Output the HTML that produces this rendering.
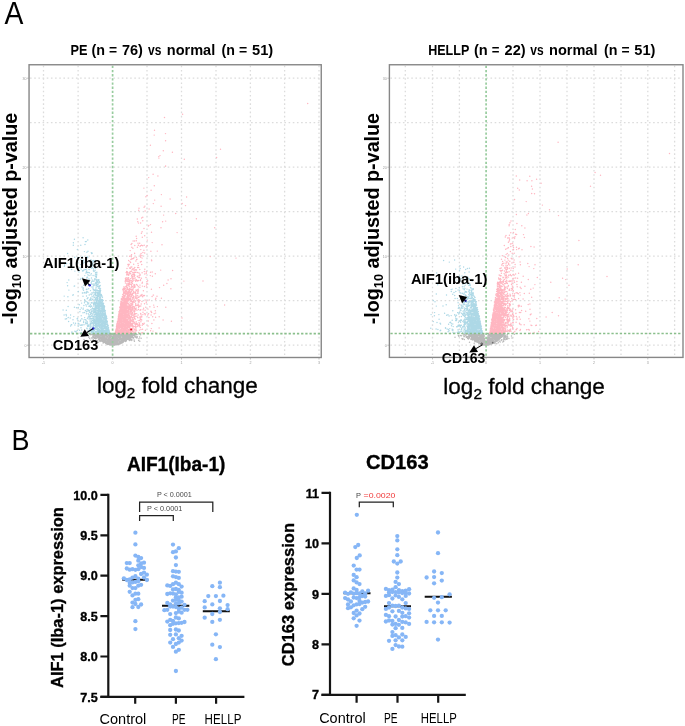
<!DOCTYPE html>
<html lang="en"><head><meta charset="utf-8"><title>Figure</title>
<style>
html,body{margin:0;padding:0;background:#fff;}
svg{display:block;font-family:"Liberation Sans",sans-serif;}
.b{font-weight:bold;}
.bs{font-weight:bold;stroke:#000;stroke-width:.35px;}
.grid{stroke:#dcdcdc;stroke-width:1.3;stroke-dasharray:1.6 2.57;fill:none;}
.grn{stroke:#8abf8c;stroke-width:1.7;stroke-dasharray:2.3 1.87;fill:none;}
.grv{stroke:#98cc9e;stroke-width:1.7;stroke-dasharray:2.3 1.87;fill:none;}
.tk{font-size:3.6px;fill:#9a9a9a;}
.pts{fill:none;stroke-linecap:round;}
.ax{stroke:#151515;stroke-width:2.2;fill:none;}
.br{stroke:#222;stroke-width:1.25;fill:none;}
.dot{fill:#86b6f6;}
.med{stroke:#111;stroke-width:2;}
</style></head><body>
<svg width="685" height="726" viewBox="0 0 685 726">
<rect width="685" height="726" fill="#fff"/>
<g>
<line class="grid" x1="43.5" y1="65.75" x2="43.5" y2="356.5"/>
<line class="grid" x1="78.1" y1="65.75" x2="78.1" y2="356.5"/>
<line class="grid" x1="147" y1="65.75" x2="147" y2="356.5"/>
<line class="grid" x1="181.5" y1="65.75" x2="181.5" y2="356.5"/>
<line class="grid" x1="216" y1="65.75" x2="216" y2="356.5"/>
<line class="grid" x1="250.4" y1="65.75" x2="250.4" y2="356.5"/>
<line class="grid" x1="284.6" y1="65.75" x2="284.6" y2="356.5"/>
<line class="grid" x1="319" y1="65.75" x2="319" y2="356.5"/>
<line class="grid" x1="30.05" y1="78.2" x2="320.25" y2="78.2"/>
<line class="grid" x1="30.05" y1="122.7" x2="320.25" y2="122.7"/>
<line class="grid" x1="30.05" y1="167.2" x2="320.25" y2="167.2"/>
<line class="grid" x1="30.05" y1="211.7" x2="320.25" y2="211.7"/>
<line class="grid" x1="30.05" y1="256.2" x2="320.25" y2="256.2"/>
<line class="grid" x1="30.05" y1="300.7" x2="320.25" y2="300.7"/>
<line class="grid" x1="30.05" y1="345.2" x2="320.25" y2="345.2"/>
<path class="pts" stroke="#b9b9b9" stroke-width="1.5" opacity="1.0" d="M111.5 341.3h0M110.9 343.9h0M112.3 338.1h0M95.9 334.5h0M103 335.2h0M105.7 341.9h0M104.4 333.7h0M93.3 339.4h0M104.2 341.4h0M94.4 335.8h0M104.9 339.7h0M105.9 336h0M112 343.9h0M109.9 343.3h0M109.6 335.7h0M107.2 336.7h0M104.5 342.2h0M99.9 334.6h0M110.9 340h0M95.4 334.1h0M99.7 333.9h0M101.9 339.7h0M102.5 333.6h0M99.2 334h0M106.6 339.8h0M109.6 335.5h0M96.5 337h0M107.5 342.6h0M102.8 333.7h0M97.9 336.9h0M109.4 340.1h0M110.3 337.6h0M110.9 338.7h0M107.5 341.3h0M105.1 335.6h0M99 337.1h0M105.8 342.9h0M112 340.1h0M106.5 339.8h0M104.9 338.5h0M109.6 334.8h0M111.7 334.6h0M88.8 337.2h0M109.4 333.7h0M110.3 333.6h0M101.6 336h0M109.1 335.1h0M108.7 340.6h0M101.5 337.7h0M102.7 334.7h0M103.1 343.1h0M95.6 333.6h0M103.9 340.5h0M105.1 342.2h0M108.6 343.8h0M102.5 339.5h0M112.4 339.4h0M111.9 340.3h0M101.7 341.1h0M109.8 342.4h0M97.6 336.7h0M111.6 345h0M106.9 337.4h0M109.9 339.2h0M107.4 334.1h0M100.2 334h0M101.3 339.1h0M112.1 334.4h0M106.9 340.7h0M105.4 338.3h0M110.6 344.1h0M108.1 334.4h0M106.5 336.1h0M102.7 333.7h0M112.2 339.4h0M93.3 334.8h0M106.9 337.9h0M108 339.7h0M109.8 336.5h0M94.2 338.2h0M112 343h0M112.6 343.7h0M110.9 334h0M97.7 333.8h0M98.3 335.3h0M101.6 335.9h0M110.7 343.7h0M102.3 341.1h0M97.5 337.4h0M111.6 336.5h0M101.8 338.7h0M98 334h0M112.2 340.4h0M102.7 341h0M102.7 335.6h0M102.2 335.2h0M111.5 345h0M95.3 333.8h0M97.7 336.4h0M99.9 334.6h0M88.8 336.8h0M103.2 334.2h0M107.9 344.4h0M108.2 333.7h0M107.7 344.5h0M106.3 333.6h0M109.2 340.3h0M104.7 336.9h0M101.1 333.8h0M104.8 340.6h0M93.4 337.1h0M93.5 336.5h0M105.1 341.2h0M105.7 338.3h0M93 335.1h0M98 334.9h0M108.3 342.6h0M106.8 336.5h0M110.7 335h0M95.4 336.8h0M102.2 338.5h0M101 340.1h0M107.1 334.7h0M112.2 344.5h0M108.8 340.2h0M104.1 333.9h0M100.5 335.4h0M102.3 339.9h0M109.8 336.8h0M111.7 345.1h0M91.9 334h0M111 341.2h0M106.4 334.2h0M108.2 336.1h0M112.4 340.2h0M103.6 341.2h0M89.6 338.5h0M95 338h0M90.8 340.3h0M96.3 338.4h0M93.3 339.4h0M108.6 342.1h0M99.3 337h0M100.8 337.5h0M112.3 344.4h0M104.8 339.1h0M108.2 336h0M104.7 336.7h0M107.2 333.9h0M105.7 339.3h0M101.3 335.2h0M104.5 334.8h0M102.9 337.9h0M93.2 336.9h0M112.5 344.7h0M97.5 334.3h0M94.1 337.5h0M100.1 336.3h0M102.6 341h0M96.4 334.3h0M101.2 335.1h0M101.5 339.9h0M98.6 336.6h0M105.1 337.4h0M108.6 333.9h0M103.9 342.4h0M109.7 339.2h0M110.3 339.2h0M110.7 336.6h0M102 333.8h0M102.9 334.8h0M100.1 338.5h0M96.3 334.3h0M102.7 339.1h0M105.6 335.4h0M108 336.2h0M109.7 336.3h0M100.3 340.3h0M92.7 335.1h0M105.4 341.1h0M99.6 338.1h0M103.7 334.8h0M102.6 335.9h0M106.2 337.9h0M100.4 334.9h0M109.3 338.5h0M109.8 340.4h0M109.1 341.8h0M99.8 335.5h0M103.6 335h0M103.2 339h0M112.5 343.4h0M110.8 343.5h0M97 334.4h0M105.2 340.4h0M104.7 336.2h0M111 334.2h0M101.5 335.6h0M95.9 333.8h0M102.9 333.6h0M97.3 335.8h0M95.9 340.6h0M112.1 342.7h0M110.1 341.4h0M108.2 341.2h0M104.4 338.1h0M106.1 335.6h0M104.3 333.6h0M107.6 334.2h0M108.4 341.5h0M111.2 335.5h0M107.5 339.6h0M110.9 344.9h0M111.1 342.6h0M106.9 337.7h0M106.6 344h0M107.6 339.2h0M108.2 334.2h0M106.1 334.3h0M108.5 341h0M106.5 340h0M108.5 335.9h0M111.5 342.1h0M107.2 342.2h0M110.9 341.1h0M109.8 344.5h0M105.9 339.4h0M104.2 338.6h0M106.4 334.4h0M96.2 333.8h0M105.1 340.3h0M108.7 338.1h0M109.6 340.7h0M109.1 336h0M95 337.4h0M111.2 341.2h0M100.4 335.6h0M104 335.1h0M100.1 333.8h0M109.4 334.3h0M99.6 334h0M111.7 333.7h0M106.8 339h0M109.1 341h0M107.6 343.5h0M112 341.2h0M111.1 338.7h0M99.4 339.3h0M112 333.7h0M106.5 335.7h0M111.8 340.1h0M94.1 337.5h0M97.7 337.4h0M95 333.7h0M111.7 344.4h0M110.9 344.8h0M101.6 337.4h0M102.7 340.9h0M103.8 341.5h0M96.8 335.7h0M100 336.9h0M98.5 338.1h0M100 336.8h0M102 341.2h0M84 339.6h0M96.2 337.2h0M96.8 334.3h0M99.1 336.5h0M98 338.2h0M104.7 337.9h0M95.3 338.7h0M91.4 337.9h0M102.7 339.2h0M92.8 336.8h0M106.7 342h0M100.7 338h0M97.9 336.2h0M100.6 333.6h0M104.5 340.3h0M103.9 340.5h0M106.7 340.3h0M106.8 336.4h0M100.7 341h0M109.1 342.8h0M96.6 333.6h0M111.9 345h0M103.1 334h0M102.3 337h0M105.9 343.5h0M97.6 340.7h0M101.4 338.5h0M100 341.6h0M106.6 338.6h0M110.8 345h0M92.6 338.1h0M99.3 335.9h0M100.3 341.2h0M98.2 335h0M94.3 334.4h0M97.9 337.4h0M108.1 338.1h0M103.8 337.5h0M109.5 341.8h0M108.9 339.7h0M99.8 335.3h0M109 337.5h0M111.1 343.6h0M102.9 334.4h0M95.7 334.5h0M104.1 337.2h0M94.6 336h0M108.9 338.6h0M96.4 336.3h0M97.1 334.4h0M99.7 339h0M101.2 339.9h0M94.4 335.7h0M104.3 336.2h0M91 334.8h0M97.5 336.5h0M105.5 343.2h0M95.9 333.6h0M108.5 334.2h0M90 334.5h0M96 335.1h0M103.9 340.1h0M112.4 343.3h0M104.3 336.7h0M95.3 335.1h0M111.8 345.1h0M112 337h0M103.6 340.1h0M106.8 338.7h0M108.5 339.3h0M94.7 333.9h0M105.9 334.8h0M95.5 335.8h0M109.4 344.7h0M100.3 334.6h0M107.8 334.9h0M103.5 335.3h0M99.9 337.8h0M102.5 335.5h0M107.6 340.7h0M106.6 333.8h0M99.2 338.1h0M95.3 335.6h0M110.9 335.8h0M109 342.2h0M109.8 334.6h0M105.4 333.8h0M99.6 340.8h0M108.9 343.1h0M109.4 333.7h0M112.1 342h0M98.5 339.5h0M102.8 341.1h0M110.9 343.5h0M112.1 333.9h0M98.2 342.3h0M108.3 344.3h0M108.9 342h0M105.7 336.1h0M108.3 339h0M103.1 336.7h0M110.8 335.9h0M109.2 342.3h0M97.3 336.6h0M109.4 344.8h0M98.1 333.6h0M97.2 335h0M102.2 337.9h0M96.7 333.7h0M106.1 343.3h0M104 339.1h0M106.6 341.5h0M110.6 335.5h0M100.6 334.7h0M93.3 337.2h0M107.5 340.8h0M97.3 335.7h0M104 341.9h0M110.3 335.4h0M112.2 342.7h0M109.5 339.4h0M103.7 342.3h0M108.7 334.3h0M107.6 343h0M112.5 345h0M112.3 342.8h0M105.3 341.5h0M109.5 344.5h0M111.3 344.1h0M107.2 341.1h0M93.5 335.2h0M109.9 341.3h0M102.9 341.7h0M99.1 337.5h0M107.7 333.8h0M102.1 340.3h0M99.6 338h0M98.6 333.8h0M105.9 339.1h0M93.1 333.9h0M103 342h0M98.5 334h0M110.6 334.9h0M106.8 343.7h0M111.2 338.4h0M101.7 337.3h0M110.3 340.2h0M97.3 335.9h0M109.7 335h0M109.7 336.6h0M108.6 339.3h0M112.4 336.8h0M107.3 336.7h0M99.8 338.7h0M96.3 336.6h0M102.8 336.1h0M96.2 335.3h0M109.6 344.1h0M114.1 345.1h0M116.4 341.3h0M134.6 334.9h0M118.7 336.7h0M124.2 341h0M124.2 336.1h0M124.3 336.5h0M115.9 337.9h0M118.7 341.3h0M132 334h0M120.6 339.8h0M129.2 339.3h0M117.9 339.1h0M120.8 338.4h0M127.4 335.9h0M115.7 343.5h0M134.1 340h0M116.6 340h0M116.2 334.7h0M116.2 342.6h0M118.5 342.7h0M114.8 336.1h0M130 338.4h0M117.5 340.2h0M129.2 339.3h0M123.3 342.1h0M113.3 336.9h0M119 342.7h0M115.2 339.9h0M113.6 340.2h0M114.9 334.7h0M136.9 337.9h0M115.8 337.5h0M121.1 335.2h0M132.1 335.1h0M119.3 333.6h0M119.1 334.9h0M117.6 342.5h0M128.9 336.3h0M123.3 333.6h0M123.4 335h0M119.3 343.6h0M113.1 339.8h0M132.1 337.1h0M121.1 343.2h0M119.6 341.5h0M135 336.3h0M130.4 333.7h0M121.6 340.6h0M119.8 336.7h0M122.7 337.5h0M113.7 345h0M115.7 342.3h0M116.6 337.1h0M129.2 333.7h0M117.4 341.6h0M116.6 338.8h0M130.8 339.2h0M125.5 336.5h0M113.7 337.7h0M131.8 340.6h0M135 335.1h0M116.8 337.3h0M127.1 336.7h0M115.6 340.5h0M124.2 340.7h0M126.2 335.6h0M115.4 341h0M118.6 337.8h0M125.7 339h0M112.9 338.7h0M122.4 340.5h0M120.6 342.3h0M115.6 343.6h0M128.4 334h0M124.2 334.2h0M113.8 343.4h0M115.3 344.1h0M113.7 334.3h0M131.7 334.2h0M120.8 341.3h0M122.5 335.5h0M120.1 337h0M112.9 337h0M121.2 341.4h0M113.7 341.9h0M120.7 340h0M127.7 335.2h0M135.2 336.3h0M123.1 336.7h0M131 334.1h0M134.2 333.9h0M128.1 333.7h0M124.9 335.7h0M127.7 333.6h0M129.8 334.5h0M123.4 336.1h0M129 333.9h0M126.2 335.2h0M113.3 345h0M113.4 342.8h0M121.9 343.1h0M114.3 339.7h0M113.3 342.3h0M118.8 335.8h0M118.3 334.4h0M124.3 338.2h0M123 340.8h0M113.8 335.3h0M117.1 340.5h0M116.6 339.2h0M122 334.9h0M113 342.5h0M114.7 336.8h0M123.8 334.6h0M115.3 339.8h0M118.2 335.6h0M116.6 337.5h0M125.1 337.3h0M116.8 334.5h0M116.7 341.2h0M118.4 339.8h0M123.9 339.7h0M135 336.5h0M121.3 334h0M122 343.1h0M132.7 334.2h0M123.5 335.9h0M126 340.4h0M131.7 333.7h0M121 333.7h0M120 344h0M124.2 333.9h0M133.2 337.3h0M127 339.4h0M118.4 343.5h0M120 336h0M132 337.1h0M117.6 336.1h0M115.1 333.8h0M126.5 336h0M132.3 333.8h0M124.2 334.2h0M116.1 334.7h0M132.9 333.9h0M118.2 343.3h0M112.9 341.8h0M122.9 342.6h0M128.9 339h0M130.6 333.7h0M126.7 338.9h0M117.7 336.5h0M132.6 334.6h0M113.1 345.1h0M113.6 342.8h0M122.7 336.9h0M122.8 336.8h0M120.6 336.1h0M116.4 338.4h0M139 338.8h0M122 342.1h0M123.8 338.4h0M119.7 342.4h0M120.9 337h0M117.8 340.2h0M123.6 335.1h0M118.1 340.3h0M125.1 338.2h0M132.4 335.1h0M131.5 339.3h0M132 335.4h0M115.9 344.7h0M131.6 335.7h0M117.6 344h0M126.2 334.5h0M115.9 335.9h0M117.4 336.5h0M116.7 344.2h0M124.3 334.3h0M121 337.4h0M132 336.8h0M114.6 335.8h0M113.4 337.3h0M114.8 342.2h0M124.2 335h0M117.4 336h0M125.8 334.6h0M128.3 337.6h0M129.7 335.5h0M115.8 340h0M116.1 335.4h0M131.8 335.7h0M114.7 343.6h0M124 339.4h0M113.5 336.6h0M136 337.5h0M113.5 341.5h0M122.4 342.3h0M130.3 336.2h0M113.2 338h0M124.6 338.1h0M117 337.9h0M118.9 344.3h0M118.8 343.8h0M132.3 335.4h0M113 335.8h0M116.6 342h0M116.5 337.4h0M121.1 334.7h0M125.5 334.2h0M120.9 340.7h0M122 341.2h0M121.7 341.6h0M117.9 343.5h0M123.4 336h0M128.1 334.6h0M120.1 337.3h0M114.5 345.1h0M123.5 334.2h0M126.6 339.7h0M122.9 337.5h0M113.1 343.4h0M123.3 338.6h0M119.3 337.4h0M134.3 335.4h0M116 338.4h0M130.2 333.9h0M116.5 341.9h0M115.5 334.7h0M118.8 339.7h0M130.6 333.7h0M125.9 335.1h0M118.2 344.3h0M128.8 337.5h0M115 339.6h0M128.2 336.8h0M117.3 343.8h0M113.6 341.8h0M134 334.1h0M116.5 344.8h0M113.2 338.2h0M116.7 338.9h0M119.3 342h0M120.3 339.2h0M139.8 341.2h0M120.9 335.2h0M125.7 340.4h0M113 339.2h0M123.5 334.2h0M126.2 334.3h0M116.6 339h0M125.7 341.4h0M116.4 341.2h0M129.5 337.2h0M120.9 339h0M122.6 338.3h0M118.7 343.4h0M115.5 337.1h0M117.1 344h0M126.8 335.2h0M120.1 335h0M114 342.6h0M128 339h0M126.4 340.4h0M124.2 340.7h0M120.2 337.8h0M116 342.3h0M128.8 338h0M113.6 344.9h0M114.5 345.1h0M128.1 335.3h0M129.7 335.5h0M122.8 335.2h0M118.6 340.5h0M112.9 334.5h0M118.5 335.1h0M120.5 333.7h0M121.9 333.8h0M129.5 340.6h0M126.6 333.8h0M112.9 334h0M131 334h0M113.3 338.5h0M114.7 339.4h0M114.1 334h0M129.9 335.7h0M128 339.1h0M140.7 334.8h0M129.5 334.4h0M119 341.6h0M131.4 335.8h0M133.2 338.3h0M117.4 340.7h0M113.3 345.1h0M115.3 341.8h0M141.1 338.2h0M123.6 337.6h0M131.9 333.8h0M129 337.4h0M123.5 338.8h0M125.3 333.8h0M135.1 336.7h0M128.1 339.3h0M112.8 344.4h0M117.7 336.7h0M122.3 336.5h0M114.7 337h0M120 334.9h0M116.7 340h0M130.5 337.8h0M120.4 335.2h0M117.3 342.3h0M130.1 340.2h0M136.3 334.5h0M131.6 335.5h0M127.6 338.4h0M114.2 342.9h0M122 342.7h0M118.1 333.7h0M118.5 340.9h0M119.2 340.5h0M136.9 336.4h0M118.6 337.5h0M122.2 336.1h0M126.7 337.4h0M123.4 334.9h0M113.1 333.8h0M127.1 339.6h0M138.6 340.6h0M114.6 336.1h0M122.9 341.5h0M119.1 340.4h0M123.4 334.5h0M114.3 333.7h0M126.1 338.5h0M114.6 340.7h0M116.7 337h0M118.1 333.7h0M121.1 339.6h0M119.4 338.6h0M126.5 336.3h0M127.6 338.8h0M118.8 344.2h0M120.7 342.2h0M112.8 344.2h0M120.8 333.7h0M122.7 333.6h0M119.6 339.5h0M117.6 344.5h0M115 340.9h0M115.9 342.9h0M115.1 343.1h0M113.4 344.5h0M113.8 336.1h0M123.6 335.5h0M117.4 342.4h0M125.4 341.1h0M124.9 334.1h0M123.7 333.6h0M117.7 339.1h0M125.6 334.9h0M117.2 334.6h0M112.8 336.2h0M124.1 337.8h0M121.5 338.8h0M119.6 339.3h0M129.2 340.2h0M126.5 338.1h0M127.6 335.5h0M133.8 337.8h0M114.5 341.3h0M134.4 341.3h0M117.9 333.8h0M126 341.2h0M126.2 338h0M124.1 338h0M120 334.9h0M125.7 335.2h0M119.7 335.6h0M129.4 336.4h0M132.4 337.6h0M113.1 333.9h0M131.9 339.8h0M123.4 337.3h0M112.9 334.4h0M131 337h0M120.7 338.2h0M137.1 334.5h0M117.8 337h0M130.5 339.8h0M114.1 337.4h0M113.2 344h0M126.4 334.7h0M114.9 345h0M123 337.3h0M114.6 336.5h0M124.1 339h0M117.1 340h0M126.3 336h0M133.2 334.3h0M116.5 342.9h0M116.2 337.2h0M132.9 334.2h0M119.8 342.1h0M128.7 335.3h0M124.1 340.7h0M121.4 339.8h0M114.7 334.5h0M130.9 335.4h0M129.4 334.1h0M134.5 336h0M123.9 339h0M139.6 337h0M119.6 337.5h0M117.1 344.3h0M132.2 334.1h0M116.2 335.9h0M114.4 338.7h0M121.2 340h0M119.1 337.7h0M137.3 336.9h0M114.8 334.5h0M116.7 338.9h0M127.3 333.7h0M120.7 341.5h0M121.7 335.3h0M112.7 341.6h0M125.2 341.2h0M129.8 337.9h0M121.4 341.5h0M130 338.2h0M123.4 336.2h0M123 336.3h0M122.2 342.1h0M115 338.6h0M133.7 335.2h0M120.4 343.2h0M130.2 337.5h0M113.2 334.9h0M116.1 344.4h0M116.1 339.9h0M114.2 335.2h0M116.3 335.6h0M132.1 335.6h0M116.2 335.9h0M122.8 341.8h0M119.4 334.1h0M117.9 344.3h0M132.2 335.5h0M127.6 337.2h0M121 337.4h0M119.5 339.8h0M129.8 338.3h0M114.4 344h0M125.8 337.8h0M118.9 344.2h0M116.3 340.3h0M116.5 335.2h0M131.4 335.3h0M125.7 336.5h0M121.5 333.8h0M116.4 342.9h0M127.4 335.3h0M122.7 339.2h0M124 333.9h0M121.6 335.4h0M128 337.2h0M114.3 333.7h0M116.4 340.5h0M116.3 344.2h0M125.4 338.4h0M116.6 342.6h0M118 334.8h0M128.4 338.8h0M121.4 339.5h0M133.4 334h0M124.5 337.1h0M114.8 344.5h0M126.3 340.5h0M120.4 341.5h0M122.1 341.7h0M119.4 343.4h0M132.2 334.8h0M121.9 341.7h0M132.7 336h0M129.9 333.9h0M114.8 338.2h0M131.2 337.6h0M119.7 333.8h0M137 336.6h0M114.4 344h0M117.6 339h0M113.6 333.9h0M129.9 336.7h0M124.9 340h0M125.8 335.3h0M116.7 343.3h0M133.5 335.1h0M126.6 338.2h0M116.1 335.2h0M123.8 337.2h0M132 334.3h0M121.7 339.8h0M113.3 342h0M121.4 338.3h0M115.6 334.3h0M120.9 343.3h0M133.5 334.5h0M121.1 340.6h0M120.5 334h0M122.7 336.4h0M132.8 334.1h0M133.2 333.6h0M126.3 337.4h0M113.3 342.2h0M116.3 335.1h0M127.6 338.6h0M122.1 333.8h0M113.3 341h0"/>
<path class="pts" stroke="#add8e6" stroke-width="1.45" opacity="1.0" d="M99.7 290.9h0M68.8 279.9h0M101.6 315h0M91.2 331.3h0M99.6 327.4h0M96.4 299.9h0M74.9 331.2h0M93.3 303.4h0M95 270.5h0M93.4 326.2h0M99.9 316.2h0M91.2 264.5h0M82.4 256.6h0M100.9 323.3h0M99.6 306.6h0M96.8 329h0M99.7 311.7h0M102 301.6h0M103.7 321.6h0M79.5 330.3h0M92 302.4h0M97.2 329.1h0M87.2 298.7h0M101.7 327.8h0M103.5 303.5h0M101.6 319.4h0M100 300.9h0M102.8 307.8h0M88.1 272.4h0M92.4 318.8h0M101.5 315.2h0M80.3 279.4h0M98.6 314.9h0M98.8 303.2h0M92.9 326h0M85.4 241.6h0M102.2 329.7h0M88.2 266.6h0M92.2 279.9h0M104.1 328.2h0M104.9 316.7h0M107.2 331.7h0M97 332.5h0M86.4 271.8h0M106.5 328.2h0M107.3 324h0M94.3 285.1h0M102.5 321.5h0M90.5 307h0M74.1 286.1h0M99.5 307.2h0M102.7 313.6h0M97.7 292.3h0M99.3 309.1h0M106.4 332.1h0M89 318.9h0M102.4 316.5h0M101.8 300h0M99.4 331.7h0M88.8 303h0M97.3 318.7h0M89.6 306.3h0M87.5 322.9h0M86.5 269.1h0M91.3 282.8h0M96.4 301.9h0M96.5 298h0M95.4 328.4h0M109.1 333.3h0M99.2 322.4h0M97.3 332.1h0M102.8 323.2h0M91.5 321.1h0M104.5 310.5h0M109.2 331.2h0M99.9 289.7h0M94.1 304.1h0M96.2 329.5h0M107.3 332.2h0M102.6 305.9h0M99.4 315.6h0M103.5 307.3h0M105.2 312.8h0M102.8 325.5h0M100.6 328.3h0M102.6 324.6h0M66.6 318.8h0M99.4 307.5h0M86.8 271h0M86.8 328.3h0M105.5 318h0M95.6 294.7h0M104.9 330.2h0M96.9 325.6h0M99.4 302h0M102.2 327.3h0M101.1 314.8h0M103.7 333.4h0M81.3 308h0M108.6 330.8h0M96.5 300.2h0M99.7 319.9h0M107.6 333.4h0M92.3 322.8h0M102 329.9h0M97.9 308h0M105.6 322h0M80.6 320.2h0M104.4 311.7h0M106.4 332.6h0M100.5 301.5h0M73.3 245.2h0M99.9 305h0M97.2 298.1h0M107.4 328.9h0M92.2 315h0M91.7 330.8h0M99.1 326.3h0M95 333.5h0M98.7 283h0M83.3 260.3h0M90.9 275h0M106.9 321h0M79.9 333.1h0M106.3 319.2h0M98.5 300.8h0M95.5 332.3h0M94.3 330.3h0M100.9 305.3h0M82.6 277.8h0M84.5 312.5h0M91.5 322h0M93.2 328.8h0M98.9 293.6h0M99 328.3h0M99 285.9h0M105.5 332.7h0M101.8 318.2h0M97.8 305.2h0M81.2 269h0M87.5 277.3h0M94.8 328.4h0M88.2 313.8h0M95.1 323.7h0M96.5 327.1h0M93.7 312.2h0M94 316.1h0M96.3 297.9h0M102.3 330.2h0M103.6 326.8h0M87.8 239.9h0M95.4 327.6h0M100.1 293h0M93.5 285.3h0M96.8 319.5h0M102.5 331.5h0M96 324.4h0M100.9 311.6h0M99 280.1h0M95.8 314.8h0M104.3 310.9h0M104.4 314.5h0M96.6 303h0M98.7 323.5h0M101.3 308.7h0M96.3 313.7h0M102.4 316.1h0M99.4 316.6h0M91.5 283.9h0M67.9 296.8h0M95.7 299h0M97.3 322.6h0M103 323.5h0M105.2 324.4h0M94.8 292.7h0M102.4 333.1h0M91.1 311.9h0M82.4 292.9h0M108.5 333.4h0M100.8 316.3h0M109.2 332.4h0M105.2 314.1h0M92.6 308h0M102.5 323.3h0M103.8 326.9h0M96.8 273.9h0M98.8 325.8h0M90.4 314.4h0M94 314.8h0M102.2 312.9h0M99.3 316h0M71.3 324.8h0M94.7 311.4h0M101.4 302.2h0M105.4 316.2h0M100.1 330.8h0M94.4 302.4h0M103.7 333.1h0M100.3 300.3h0M104 325.2h0M91.9 268.2h0M98 284.4h0M101.3 307.5h0M97 305.1h0M107.7 325.7h0M90.4 304.7h0M95.9 320.4h0M100.2 315.9h0M103.2 306.1h0M83.6 322.4h0M90.8 309.6h0M103.1 313.4h0M101.4 320.2h0M102.9 326.2h0M102.5 300.4h0M93 333.2h0M96.9 311h0M93.3 326h0M105.7 325.9h0M104.3 317.1h0M101.9 296.3h0M82.5 270.9h0M85.6 319.8h0M99.9 333.3h0M85 244.4h0M107.1 333.5h0M84.8 275.6h0M99 333.3h0M102.2 308.4h0M99.8 282.4h0M88.1 310.9h0M98.4 301.6h0M96.6 324h0M82.3 325h0M106.5 327.6h0M101.8 324.2h0M93.5 265.6h0M100.8 312.5h0M86.4 313.8h0M108 330.1h0M93.5 327.2h0M98 293.6h0M71.6 269.4h0M106.7 324.5h0M97.5 307.8h0M104.3 306.7h0M99.6 297.9h0M107.6 327.1h0M87.7 326.2h0M91.8 330.3h0M97 301.7h0M93.3 321.2h0M94.1 271.6h0M99.1 291.8h0M92.2 280.1h0M104.2 305.7h0M89.4 261.8h0M98.9 330.8h0M102.1 322.8h0M87.2 328.8h0M92.8 323.4h0M94.6 320.4h0M87.4 323.9h0M105.5 324.8h0M94.7 310.2h0M94.2 315.2h0M96.8 281.1h0M89.1 275.4h0M100.2 294.9h0M107.9 330.6h0M99.2 292.9h0M97.7 298.3h0M108.4 330.3h0M105.9 330.4h0M100.3 291.6h0M98 331.2h0M91.2 321h0M99.2 288.5h0M95.8 331.6h0M83.3 270.8h0M88.5 279.1h0M100.8 315.9h0M98.3 300.7h0M100.7 306.3h0M97.7 323.1h0M102.3 320.9h0M83.5 260.8h0M102.4 301.2h0M96.3 309.2h0M95.4 294h0M102.6 330.4h0M97.6 323.3h0M101.3 304.2h0M81.8 318.8h0M107.5 325.6h0M90.8 328.9h0M107.9 331.9h0M95.4 276.6h0M107 321.7h0M92.6 261.1h0M106.2 318.9h0M92.1 296.7h0M102.9 326.1h0M105.8 331.9h0M109.3 333.5h0M106.9 318.5h0M99.3 309.5h0M68.9 290.1h0M102.2 329.5h0M103.8 311.6h0M103.5 319.6h0M77.7 318.1h0M102.6 306.9h0M93.4 292.1h0M93 324.1h0M104 323.8h0M103.3 309.9h0M100.4 324.5h0M106.1 329h0M98.9 320.7h0M108 325.2h0M104.9 311.5h0M102.1 303.3h0M97 333.4h0M105 332.2h0M100.8 312.8h0M95.2 313h0M99.6 295h0M98.6 290.7h0M107.3 328.7h0M94.4 301.9h0M105 312.1h0M100.2 299.6h0M90.3 318.2h0M97.7 322.8h0M85.3 269.5h0M99.6 313.8h0M101 321.5h0M101.4 304.5h0M91.5 278h0M75.5 323.3h0M90.9 259.8h0M97.9 323.5h0M96.3 333.5h0M100.8 316.7h0M100.3 297.4h0M94.6 297.3h0M94.7 300h0M84.4 251.6h0M95.8 289.1h0M93.4 333h0M97.8 290.6h0M64.6 265h0M101.5 331.3h0M99.4 300.5h0M97.3 315.6h0M96.2 306.7h0M100.1 309.7h0M95.5 308.6h0M104.6 317.5h0M98 329.9h0M99.7 287h0M96.9 312.9h0M94.8 303.5h0M99.1 312.3h0M105.4 333.5h0M86 322.6h0M96.5 300.9h0M81.2 315.7h0M107.5 323.9h0M107.3 326.4h0M87.9 274.8h0M78.3 291.4h0M97.7 308.7h0M102.3 304.9h0M108.4 328.4h0M84.5 292.5h0M90.7 299.4h0M95.9 324.3h0M99.6 332h0M101.7 327.3h0M101.6 314.3h0M96.8 323.7h0M92.7 331.6h0M104.1 323.4h0M103.5 308.5h0M105.1 317.3h0M84.2 319.6h0M99.7 314.7h0M82 324.8h0M106.1 327h0M64.1 314.9h0M95.1 323.1h0M103.3 326.6h0M105.9 319.5h0M89.4 272.8h0M99.3 303.9h0M98.1 316.5h0M85.7 322.2h0M107.1 320.9h0M103.1 322.6h0M99.1 295.1h0M97.9 316.9h0M94 297.7h0M103.9 318.1h0M100.9 321.2h0M100 316.4h0M98.9 313.9h0M78.9 270.5h0M104.9 324h0M97.7 294.2h0M99.4 317.2h0M97.6 297.3h0M103.3 328.4h0M97.8 303.6h0M100.9 314.1h0M100.6 313.2h0M103.3 309.5h0M93.8 322.6h0M105.5 314.8h0M100 294.2h0M104.7 317.7h0M95.1 275.6h0M99.5 331.6h0M103.1 332.8h0M97.3 306h0M102.6 329.1h0M100.2 321.6h0M103 331.6h0M93.6 318.3h0M93.3 289.8h0M104.5 323.7h0M99.9 300.1h0M103.8 322.7h0M91.3 318.5h0M104.4 317h0M88 297.7h0M96 282.1h0M86.1 301.4h0M103.6 324.9h0M97.7 320.2h0M95.5 326.8h0M100.8 312.2h0M96.6 307.6h0M95.2 305.8h0M95 308.4h0M97.6 296.4h0M102.8 321.3h0M98.6 318.5h0M103.3 305.2h0M105.8 315.9h0M101.8 323.6h0M79 271.9h0M99.3 304.9h0M96.3 317.7h0M102.2 300.2h0M101.1 315.4h0M97.3 310.7h0M102.4 316.1h0M96.7 275h0M99.9 321.7h0M98.7 322.5h0M95.7 325.7h0M99.5 305.2h0M81 325.1h0M107.2 332.7h0M88.6 325.9h0M105.3 319.3h0M70.6 315h0M93.4 289.4h0M105.9 319.8h0M77.9 263.1h0M93.2 331h0M106 315.5h0M99.4 323.9h0M94 294.9h0M100.8 318.7h0M102.5 308.8h0M96.3 314.4h0M87 277.3h0M89.6 316.9h0M96.9 317h0M101.1 317.4h0M107.1 321.7h0M97.9 310.2h0M102.5 316.7h0M87.9 303.4h0M109.7 333.6h0M102 324.3h0M86.4 311.7h0M84.7 301h0M99 296.2h0M106.6 331.8h0M82.5 270.7h0M102.3 326.4h0M99 329.8h0M100 291.2h0M100.6 331.8h0M104.7 323.7h0M84.9 293h0M102.8 316.7h0M104.6 325.7h0M94.3 290.6h0M87.5 298.3h0M87.1 321.4h0M66.6 263.5h0M86.1 320.3h0M98.7 295.3h0M93.6 303.1h0M95.9 279.3h0M105.6 322.9h0M72 332h0M101.8 333.6h0M94.9 310.8h0M99.2 332h0M97.5 306.1h0M100.1 291.8h0M106.9 330.2h0M68.6 321.4h0M104.6 306.7h0M94.3 317.9h0M88.7 324.9h0M105.2 315.4h0M103.5 320.7h0M103.1 317.9h0M98.7 308.2h0M93.7 321h0M105.2 316.6h0M76.4 332h0M103.9 318.7h0M102.2 308h0M89.2 295h0M91.6 316.1h0M106.3 323.6h0M96.1 279.9h0M98 298.9h0M66.4 315.7h0M95.2 292.7h0M100.9 295h0M89.1 325.8h0M96.4 314h0M98.9 306.3h0M88.6 331.7h0M104 327.5h0M93.4 312.9h0M104.3 310.6h0M102.4 301h0M88 251.2h0M104.3 311.3h0M96.6 282.7h0M100.1 306.3h0M99.9 293.3h0M94.8 278.6h0M96.6 295.3h0M100.2 311.5h0M105 331.9h0M99.4 295.2h0M95.7 295.5h0M106 322.3h0M105.8 331.6h0M94.7 308.3h0M101.4 303.8h0M104.4 332.4h0M83.3 288h0M84 270h0M97.8 286.5h0M93.3 331.2h0M84.6 317.6h0M105.6 328.4h0M97.4 318.2h0M105 315.8h0M101.7 318.7h0M96.9 320.7h0M77.8 320.1h0M93.4 333.2h0M103.5 317.5h0M100.1 319h0M98.3 310.6h0M103.3 329.4h0M101.8 303.4h0M93.5 324h0M92.3 333h0M91.2 300.3h0M100.6 299h0M98.4 320h0M90.5 316.4h0M98.1 330.8h0M93.9 316.4h0M84.8 281.4h0M107 321.4h0M95 313.2h0M91.6 313.1h0M99.8 318.3h0M105.5 314.5h0M97.5 286.2h0M68.1 306.4h0M97.6 311.1h0M89.7 331.4h0M105.3 318.6h0M99.7 317.6h0M95.1 307.6h0M104.2 306h0M105.1 311.2h0M90.3 264.7h0M101.2 323.7h0M68.2 317.5h0M91.7 281.6h0M83 288.9h0M105.1 313.5h0M103.8 331.5h0M98.1 318.2h0M103.2 300.4h0M101.7 333.3h0M91.1 318.8h0M97.2 332.7h0M105.3 327.7h0M85.9 272.9h0M99.9 311.6h0M99.6 324h0M100.4 297.6h0M96.6 302.2h0M100.1 324.5h0M95.7 321.1h0M92.9 293h0M105.9 331.4h0M91 298.1h0M102.9 310h0M96.5 326.5h0M77.9 257.5h0M107.5 324.5h0M96.5 283.8h0M104 315.1h0M97.9 298.6h0M92.2 311.6h0M105.4 313.8h0M104.9 319h0M102.2 302.3h0M101.3 306.4h0M104.9 319.8h0M81 327.7h0M97 329.3h0M105.1 314.3h0M105 323.1h0M101.4 319.8h0M96.6 324.4h0M101.2 329.8h0M108.3 332.2h0M87 289.3h0M82 287h0M94.9 332h0M102 319.6h0M98.5 296.5h0M106.1 316h0M92.1 267.4h0M98 321.2h0M88.9 314.9h0M95.5 304.7h0M94.8 319.4h0M103.7 309.3h0M106.1 326.1h0M95.5 268.4h0M105 312h0M104.9 314.4h0M104.2 313.5h0M98.8 307.7h0M100.7 303.6h0M75.6 331.7h0M82.9 292.9h0M102 305.5h0M95.2 314.5h0M95 294h0M73 319.8h0M100.8 302.8h0M90.3 322.9h0M98.4 322.1h0M99.6 307.6h0M96.5 282.6h0M97.9 284.5h0M95.1 327.3h0M101 308.4h0M91.9 302.8h0M100.2 315.7h0M101.4 325.1h0M95.2 302.6h0M102.4 329.7h0M86.8 311.3h0M104.9 325.6h0M95 284.4h0M101.3 327.7h0M106.5 321.5h0M89.2 330.3h0M93.5 308.8h0M73.2 294.7h0M107.3 322.3h0M95.7 274.2h0M87.1 309.5h0M99.1 313.7h0M100.8 302.2h0M84.9 262.2h0M88.7 288.7h0M95.5 326.6h0M101.2 319.1h0M72.1 333.3h0M86.9 252.2h0M98.5 311.4h0M92.5 299.3h0M102.9 329.2h0M97 281.7h0M102.3 323.8h0M96.1 304h0M100 302.7h0M94.9 330.9h0M101.7 311.5h0M93.6 322.3h0M97 279.9h0M99.5 307.7h0M103.9 306.8h0M91.8 319h0M106 332.1h0M90.5 330.6h0M103.9 311.5h0M106.9 329.7h0M96.6 320.2h0M83.3 263h0M96.9 272.2h0M91.5 329.3h0M97.3 296h0M96.1 322h0M96.6 307.3h0M99 314.4h0M88.5 316.7h0M90.8 298.2h0M103.8 323.2h0M95.3 308.5h0M93 316.7h0M106.9 333.3h0M105.4 318.3h0M98.6 332.1h0M103.4 304.3h0M97.6 295.4h0M81.3 332.4h0M95.6 298.9h0M97.6 330.4h0M99.7 319.9h0M109.1 330.5h0M92.9 318.3h0M90.6 324.5h0M101.6 327.8h0M95.3 306.5h0M92.4 253.1h0M103.9 322.4h0M98.4 325.3h0M104.3 308.3h0M98.9 319.5h0M99.6 330h0M100.9 330.1h0M108.3 329.6h0M81.9 325.2h0M103.2 305.6h0M104.3 309.5h0M96.9 322.9h0M76.5 307.7h0M83.1 309.2h0M104.8 333.5h0M99 313.9h0M90.3 267.4h0M100.6 315.5h0M94.5 321.7h0M99.8 320.4h0M104.8 330.5h0M98.8 314.9h0M81.6 303.1h0M96.8 321.7h0M101.7 299.5h0M100.8 304.5h0M95.7 304.7h0M96.1 319.9h0M101.7 301.7h0M96.4 323.4h0M104.7 318h0M87 291.4h0M100.7 307.9h0M97 315.6h0M108.2 327.4h0M97.9 294.5h0M102.4 308.9h0M101.6 306h0M89.5 312.3h0M100.8 308.3h0M89.9 299.5h0M103.1 304.2h0M99.8 294.2h0M84.7 332.3h0M87.7 326.4h0M97.8 314.9h0M88.1 282.8h0M103.1 315.7h0M91.2 303h0M78.2 326.3h0M99.5 296.9h0M108.4 327.4h0M101.7 323.4h0M94.9 322.9h0M91.8 293h0M99.4 310.2h0M74.4 239.2h0M96.8 303.5h0M105.3 330.8h0M94.1 281h0M100.9 311.8h0M101.9 326.4h0M105.3 332.5h0M97.1 292.9h0M104 314.4h0M104.4 331.2h0M93.6 332.7h0M97.8 330.7h0M96.3 316h0M88.4 309.9h0M93.7 328.4h0M102.8 332h0M102.3 319.7h0M94.4 290h0M102.5 316.2h0M102.3 297.6h0M95.4 325.9h0M102.2 320.4h0M103.3 309.4h0M91.7 253.5h0M90.6 297.9h0M106 330h0M95.5 307.7h0M105.5 330.7h0M104.6 322.1h0M108.5 328.9h0M96.6 307.9h0M103.6 303.2h0M98.9 279.6h0M96.8 320.1h0M96.5 308.6h0M104.6 318.2h0M95.1 304.1h0M100.2 333.4h0M74.7 257.2h0M98.5 304h0M104.2 321.8h0M95.9 299.8h0M72.9 295.3h0M86.8 277.9h0M93.5 320.3h0M105 314.4h0M93.4 332.8h0M98.8 329.8h0M102.5 303.8h0M100 291.9h0M108.5 327.5h0M101.1 311.6h0M100.9 321.7h0M104.7 314.5h0M96.9 317.7h0M101.7 320.8h0M106.2 321h0M96.8 284.2h0M93.4 260.5h0M91.8 331.9h0M105.9 328h0M99.8 291.4h0M103.2 313h0M102 296h0M87.5 302.2h0M92.2 330.5h0M93 281.2h0M99.5 286.8h0M92.9 333.3h0M100.2 298.6h0M97.4 318.2h0M97.4 331.7h0M109.3 332.1h0M105.3 327.6h0M100.6 331.2h0M97.4 290.2h0M97.1 326.7h0M66.1 314.5h0M102.3 327.9h0M80.1 321.3h0M101 322.4h0M100.1 324.8h0M100.3 310.8h0M97.4 298.8h0M96 312.8h0M77.2 330.5h0M97.2 297.3h0M103.9 333.5h0M93.4 270.7h0M98.8 305.5h0M94.7 323h0M102.1 320.7h0M102.4 310.1h0M97.8 330.5h0M99.3 320.1h0M98.7 317h0M106.5 316.6h0M89.3 261.2h0M67.6 253.4h0M102.5 315.8h0M94.9 325.2h0M89.4 310.7h0M91.9 313.6h0M104.9 320.6h0M99.7 298.2h0M102.9 315.1h0M103.8 325.4h0M102.2 303h0M99.9 331.7h0M78.2 307.4h0M101.3 330.9h0M84.8 300.2h0M86.2 241.4h0M83.9 305.4h0M93.1 286.9h0M96.7 297.2h0M87.1 256.4h0M96.1 301.2h0M98.8 308.8h0M98.8 315.1h0M79.9 311.8h0M98.9 314.8h0M106.6 330h0M97.3 299.2h0M90.1 324.2h0M94.5 279.6h0M100.9 319.4h0M99.7 327.5h0M96.1 287.7h0M100.2 294.7h0M104.5 327.3h0M102.3 305.4h0M89.7 316.2h0M79.9 267.7h0M96.6 290.3h0M99.4 290.5h0M105.6 330.7h0M96 308.8h0M96.4 276.5h0M88 317.3h0M97.5 305.8h0M89.7 306h0M100.5 330.9h0M64.2 296.1h0M105.8 333.4h0M91.3 273.6h0M109 330h0M95.3 324.7h0M99.6 325.4h0M103.6 332.5h0M95.8 298.5h0M104.5 326.1h0M92 308.7h0M90.5 313.6h0M87.9 304.2h0M102.9 313.1h0M96.6 318.5h0M97.2 292.2h0M103.3 322.6h0M96.4 324.6h0M108.5 328.5h0M96.6 306.4h0M98.8 311h0M98.2 312.3h0M100.8 327.8h0M98.7 324.5h0M80.9 278.5h0M99.4 281.6h0M88 292.3h0M105.1 318.1h0M97.2 296.8h0M94.8 312.5h0M95.5 320.5h0M97.6 296.8h0M103.4 307.4h0M93 284.6h0M91.2 326.6h0M104.2 321.3h0M97.4 319.7h0M93.6 310.3h0M107.1 330.4h0M108.6 332h0M85.4 310.5h0M100.2 332.5h0M96 298.2h0M103.2 325.3h0M66.3 310.3h0M95.5 323.2h0M103.1 308.9h0M107.1 331.3h0M104.7 321.4h0M93.3 320.5h0M102.5 297.1h0M93 288.6h0M89.7 310.4h0M106.5 316.9h0M86.3 292.5h0M67.6 285.7h0M105.4 310.7h0M95.7 272.4h0M95.7 309.4h0M94.2 303h0M98 294.4h0M103.1 332.1h0M83.6 285.2h0M102.9 322.7h0M98.9 331.6h0M95 310.5h0M102.4 333h0M101.6 319.6h0M105.2 330.1h0M107.2 332.2h0M108.3 328.3h0M100.5 330.6h0M91.9 266.7h0M100.6 320h0M90.5 290.6h0M106.3 319.2h0M86.4 293h0M95.5 290.3h0M104 314.6h0M86.5 295.9h0M97.4 313h0M98.9 330.5h0M87.7 257.6h0M95.6 306.5h0M100.5 288.8h0M104.9 333.6h0M97 302.5h0M93.2 313.1h0M99.5 321.8h0M99.3 317h0M95.4 326.3h0M93.3 262h0M91.3 332.9h0M86.4 323.4h0M105.7 317h0M98.4 313.8h0M80.2 309.6h0M102 300.4h0M98.3 282.8h0M104.8 327.5h0M98.4 295.9h0M96.1 312.5h0M99.6 301.8h0M97.8 328.3h0M102.6 323.6h0M96.6 285.3h0M93.5 296h0M102.7 313.5h0M104.4 322.9h0M105.6 314.9h0M93.3 324.7h0M96.2 292.8h0M98.6 309.4h0M88.1 330.8h0M97.5 319.8h0M101.3 323.5h0M97.2 300h0M83.1 237.8h0M98.2 303h0M80.2 325.2h0M108.2 325.6h0M90.8 327.3h0M105 319.7h0M80.9 259.5h0M77.9 260.8h0M91.6 253.6h0M71.7 332.1h0M103.5 307.3h0M102.1 322.5h0M92.5 320.4h0M103.2 325.7h0M82 319h0M104.5 316.8h0M98.5 303.8h0M98.6 304.8h0M103.8 318.2h0M106.5 333.4h0M102.2 323.6h0M97.7 326.7h0M91.7 306.3h0M71.7 324.7h0M91.7 294.7h0M99.5 312.1h0M101.6 329.5h0M98.4 313.5h0M84.5 302.8h0M103.4 328.8h0M102.6 299.9h0M100.5 333.1h0M95.5 307.3h0M100.1 325.6h0M101.7 311h0M90.9 312.5h0M103.9 330h0M105.1 324.8h0M100.2 285.5h0M84 324.7h0M106.7 320.6h0M103.9 310h0M83.2 308.1h0M104.3 307.6h0M93.5 268.9h0M107.1 331.6h0M99.7 321.6h0M100.8 328.5h0M93.8 311.5h0M86.5 280.8h0M100.5 322.5h0M95.3 290.4h0M104.2 325.3h0M103.5 321.1h0M104.2 308.1h0M95.8 317.2h0M96 316.3h0M87.4 318.6h0M102.3 322.9h0M101.7 325.8h0M105 319.1h0M97.5 304.1h0M95.1 297.1h0M102.4 301.9h0M103.3 310.8h0M108.6 330.8h0M99.6 293.9h0M97.9 327.9h0M91.6 315.6h0M105.4 316.8h0M106.6 333.4h0M103.6 323.3h0M87.1 272.5h0M93.7 304.6h0M91.3 323.7h0M99.4 299.2h0M101.1 300.2h0M100.9 331.9h0M107.4 321.6h0M99.5 315.1h0M104.8 326.8h0M93.2 284h0M98.6 318.8h0M99.9 298.6h0M96.1 285.5h0M94.7 320.8h0M95.8 311.3h0M99.5 314.9h0M100.5 301.1h0M101.8 322.8h0M98.7 325.9h0M102.6 312.9h0M91.9 286.9h0M106.3 329.4h0M95.7 318.6h0M98.8 313.3h0M100.9 317.2h0M99.6 330h0M98.4 312.4h0M98.3 293.3h0M96.4 313h0M67.1 282.6h0M92.6 263.5h0M94 323.1h0M70.2 317.9h0M95.3 327.6h0M91.9 264.1h0M96.4 314.4h0M90 320.9h0M101.6 310.2h0M99.5 310.5h0M99.4 311.2h0M99.8 321.5h0M96.1 315.9h0M94.9 327.4h0M100.6 310.5h0M100.2 292.6h0M92.7 265.1h0M97.9 306.5h0M98.4 280.4h0M100.2 305.2h0M90.1 319h0M100.8 320.2h0M96.9 299.7h0M107.2 330.8h0M95.4 322.5h0M100.2 301.8h0M99.2 305.5h0M97.8 281.8h0M107.3 324.3h0M102.7 312.3h0M95.9 316.6h0M103.6 331.3h0M95.5 283h0M90.4 294.1h0M99.8 298.8h0M99.9 330h0M86.5 306.1h0M97.2 299.7h0M77.1 318.7h0M101.8 320.6h0M90.8 325.5h0M104.6 332.8h0M95.8 302.8h0M101.1 317.6h0M98.9 324h0M99.3 292.6h0M109.7 332.9h0M74.9 324.9h0M93.9 325.6h0M105.6 324.1h0M102.6 313h0M101.2 313.7h0M104.7 315.6h0M89.6 279.1h0M80.5 264.6h0M94.7 323.2h0M97 326.1h0M101.9 301.9h0M101.6 325.7h0M100.4 313.1h0M100.6 303.8h0M100.6 313.2h0M65.3 318.9h0M109 331.8h0M104.6 330.6h0M88.8 279.1h0M102.3 321.7h0M106 317.7h0M79 323.9h0M90.3 300.1h0M98.5 322.2h0M99.4 325.6h0M99.9 330.1h0M96.8 282.9h0M102.6 306.5h0M64.4 266.3h0M102.8 308.5h0M103.7 320.6h0M74.4 307.3h0M83.5 290.3h0M101.6 316h0M108.1 328.3h0M99.6 325.8h0M73.8 316.6h0M77.6 259.6h0M87.4 325.6h0M102.1 315.8h0M73.5 323h0M102.5 326.7h0M98.8 323.2h0M86.4 289.5h0M98.9 333.3h0M99.2 306.3h0M94.1 302.2h0M104.3 307.3h0M73.4 242.8h0M93.1 275.5h0M94.5 309.2h0M102.5 319.9h0M98.4 288h0M101.3 294.9h0M92.4 314.9h0M95.3 316.7h0M102.1 310.1h0M98.4 306.8h0M99.3 302.4h0M100 326.4h0M96 317.3h0M101.8 331.9h0M86.4 291.9h0M99.3 330.9h0M84.6 333.1h0M105.1 320.8h0M97.9 313.3h0M101.5 328.6h0M102.2 308.9h0M91.5 305.9h0M101.6 315.4h0M85.9 304.8h0M99.2 318.4h0M91.9 311h0M93.8 319.5h0M96.8 310.5h0M79.3 304.8h0M108.1 327h0M93.9 303.5h0M100.6 304.8h0M98.3 305.4h0M94.9 300.3h0M98 319.8h0M103 330.9h0M106.5 316.5h0M100.1 313.5h0M99 321.5h0M100.2 317.5h0M93.8 305.9h0M99.2 323.8h0M92.9 316.8h0M90 326.9h0M101.2 314.1h0M99 303.2h0M102.8 325.9h0M105 315.1h0M98.1 279.7h0M107.3 333.4h0M100.7 321.3h0M98.8 325.2h0M83 296.2h0M98.3 309.2h0M97.9 286.6h0M100.6 290.4h0M104.5 315.7h0M63.1 309.9h0M94 285.4h0M93.2 330.5h0M95.9 291.6h0M83 312.7h0M105.1 332.9h0M104.5 326h0M100.6 332.3h0M102.1 304.9h0M98.3 329.7h0M93 327.3h0M85.6 323.7h0M95.9 306h0M102.5 314.5h0M109 330.4h0M102.4 325.1h0M98 328.6h0M108.4 330.2h0M97 333.2h0M104.9 328.2h0M95.1 329h0M100.5 295.2h0M106.2 331.1h0M102.4 333h0M97 331.1h0M74.6 285.9h0M91.3 252.6h0M84.6 299.6h0M83.6 321.2h0M98.5 315.2h0M93 299.6h0M101.5 307.8h0M99.8 301.2h0M99.8 309.3h0M100.6 294.4h0M81.7 329.9h0M100.6 322.3h0M101.1 325.7h0M101.3 294.5h0M104.6 325.3h0M102.4 327.6h0M90.9 298.6h0M105.9 327.9h0M94.9 322.7h0M99.9 322.4h0M100.3 300.6h0M95.1 283.8h0M108.2 325.4h0M89.5 328.7h0M108.4 332.7h0M97.3 330h0M78.1 323.2h0M101.4 308.6h0M98.9 294.4h0M101.3 304.7h0M80.8 245.2h0M95.8 295.5h0M106.3 330.1h0M95.4 274.1h0M97.6 312.9h0M100.6 295.9h0M97.7 320.4h0M96.4 277.5h0M92.1 310.2h0M102.4 332.1h0M104.3 331h0M100.9 320.8h0M94 321.7h0M96.9 331.7h0M69.9 263.6h0M101.3 303h0M70.6 325.9h0M98.1 292.7h0M97.5 325.3h0M101.9 305.1h0M101.5 326.8h0M90.4 331.1h0M107.8 329.6h0M100.2 333.3h0M97.6 314h0M106.8 321.6h0M88.1 326.5h0M97.9 316.4h0M96.3 327.5h0M99.8 293.2h0M101.4 318.7h0M100.8 318.6h0M107.5 330.7h0M103.6 322.2h0M102.6 310.8h0M97.1 325.7h0M106.2 322.6h0M95.1 321.5h0M96.2 285.9h0M88.9 306.3h0M99.7 333.2h0M100 306.2h0M97.8 324.9h0M102.5 303.8h0M99.1 329.4h0M102.5 320.6h0M104.9 325.2h0M107.8 326.4h0M96.7 315.5h0M102.6 299.8h0M102 317.8h0M77.4 249.5h0M89.1 269.4h0M108.4 333.3h0M74.9 271.1h0M99.2 292.1h0M87 282.9h0M102.6 314.4h0M104.8 310.1h0M95.1 260.4h0M105.4 323.3h0"/>
<path class="pts" stroke="#ffb6c1" stroke-width="1.45" opacity="1.0" d="M131 317.3h0M120.6 318.7h0M159.1 327.9h0M129.2 302.1h0M138.5 245.3h0M133.2 280.2h0M126.9 284.8h0M119.6 317.6h0M130.3 311.2h0M121.7 307.8h0M141.6 218h0M138.2 304h0M118.2 331.3h0M132.3 295h0M119.3 322.9h0M125.5 320.2h0M132.3 324.3h0M122.6 323.4h0M127 292h0M130 284.2h0M121.8 312.9h0M127.1 314.4h0M126.7 303.9h0M124.1 323h0M172.4 152.2h0M132.5 290h0M147.7 315h0M125.7 313.7h0M127.1 300.3h0M142.6 323.7h0M125.8 309.8h0M128.6 326.8h0M116.5 329.4h0M123.5 309.3h0M138.2 320.6h0M134 306.7h0M131.2 320.4h0M152.2 242.6h0M125 327h0M125.1 311h0M120.8 301.3h0M118.7 332.7h0M116.5 330.9h0M116.8 324.8h0M132 305.1h0M128.3 296.3h0M119.7 307.2h0M121.5 309.6h0M135.6 301.1h0M135.2 270.1h0M125 281.1h0M129.1 327h0M127.3 297.6h0M127.5 330.6h0M122.3 326.3h0M135.5 291.9h0M125.7 298.4h0M129.4 305.3h0M126.4 290.8h0M130.2 295.1h0M126.4 333.6h0M123.9 315.3h0M126.6 306.7h0M138.3 245.2h0M132 282.3h0M116.8 329.8h0M116.3 328.2h0M124.8 306.1h0M127.9 312h0M131.9 243.4h0M122.1 332h0M125.7 317.3h0M125.5 317.6h0M131.9 333.4h0M121 327.3h0M117.9 333.5h0M130.7 305.4h0M118.9 325.6h0M127.7 288h0M133.8 322h0M128 311.4h0M122.9 310h0M127.7 319.4h0M147.7 280.7h0M118 323.2h0M137.7 317.4h0M129.6 282h0M126 314.8h0M143.9 250.3h0M122.5 317.3h0M132.3 308.8h0M116.7 331.9h0M129.2 325.2h0M129.8 321.8h0M148 309.1h0M165.8 307.3h0M120.8 318.7h0M117.7 327.6h0M122 305.4h0M124.3 317.8h0M133.1 298.5h0M127.3 295.3h0M138.3 293.1h0M124.2 317.1h0M119.3 320.8h0M121.5 331.9h0M133.1 240.9h0M126.4 293.9h0M123 300.3h0M129.2 322.3h0M124.3 307.3h0M121.5 320.3h0M125.6 319.1h0M127 313.8h0M123.3 329.3h0M124.4 328.7h0M124.9 325.9h0M115.7 331.3h0M117.9 319.1h0M125.9 315.8h0M134.4 284.7h0M142.8 332.6h0M135.6 294.9h0M129 323.8h0M120.1 331.3h0M142.3 237.3h0M132.4 329.4h0M129.7 327.7h0M160.7 270.1h0M155.6 317.2h0M135.5 296.9h0M145.5 330.3h0M132.5 309.8h0M125.2 316.8h0M131.8 311.8h0M124.1 309h0M138.7 301.2h0M118.8 324.5h0M132.7 286.6h0M125.7 293.4h0M126.2 310.9h0M125.9 319.1h0M118.7 318h0M133.7 291.8h0M122.8 297.2h0M125.7 329.6h0M141.9 255.5h0M130.2 268.3h0M123.8 319.3h0M140 296.3h0M122.7 311.1h0M141.8 316.2h0M123.2 315.7h0M125.8 290.1h0M129.9 317.3h0M122.4 331.2h0M119.3 313h0M132.4 302.8h0M132.3 317.4h0M130.5 306.1h0M122.3 328.8h0M203 280.9h0M122 299.3h0M138.6 332.4h0M125.2 316h0M117 324.3h0M130.8 296.6h0M140.4 327.5h0M127.9 264.5h0M126.7 291.2h0M144.9 206.1h0M130.9 310.3h0M119 323.7h0M135.2 308.8h0M126.7 302.3h0M126.7 331.4h0M126.1 305h0M141.1 253.4h0M122.9 324.8h0M118.5 317.4h0M127.2 288.7h0M121.7 323.6h0M137.2 300.6h0M132.3 304.7h0M118.5 315.7h0M123.7 323.3h0M125.2 326.5h0M138.8 267.6h0M122.7 320.8h0M141.6 333h0M133.4 319.6h0M134.9 302.1h0M127.2 320.1h0M131.2 304h0M128.6 265.1h0M118.3 327.3h0M123.6 332.9h0M125 324.5h0M124.4 309.1h0M147.3 240.1h0M119 328.4h0M136.1 329.3h0M126 293.3h0M126.6 299.1h0M134.3 300h0M122.8 315.3h0M143.6 308.2h0M125.1 298.4h0M126.2 277.8h0M143.5 295.5h0M125.3 294.3h0M128.1 313h0M131.9 326h0M121.2 314.5h0M123.1 318.7h0M132 283.7h0M120.3 316.1h0M127.2 302.1h0M128.9 308.2h0M134.3 311.5h0M126.3 321.4h0M124.1 320.5h0M119.3 323.1h0M129.4 309.3h0M134.9 280.1h0M133 302.2h0M140.3 319.8h0M117 323.5h0M146.8 281.6h0M125.5 323.6h0M128.7 310.4h0M125 333.2h0M134.5 312.9h0M135.4 326.3h0M132.7 293.7h0M121.8 316h0M121.7 325.4h0M129.6 308.4h0M122.5 299.7h0M134.6 329.3h0M128.2 321h0M150.5 224.6h0M125 315.7h0M130.4 308.7h0M126.9 275.1h0M142.7 245.7h0M123.2 327.3h0M119.5 327.2h0M127.1 299.3h0M142.2 325.3h0M120.5 303h0M133.8 276h0M131 312.1h0M123.8 291.3h0M123 324.7h0M120.8 306.1h0M120.1 317.8h0M128.7 285.5h0M122.5 315.9h0M126 330.2h0M130 312.6h0M122.1 309.3h0M123.7 302.8h0M131.2 282.6h0M115.9 332.1h0M124.8 315.9h0M133.3 258.5h0M129.2 286.6h0M164.5 117.4h0M146.3 273.3h0M122.6 327.4h0M123.3 309.4h0M142.6 329.2h0M138.5 299.8h0M139.7 320.4h0M123.3 291.1h0M124 306h0M125.5 320.2h0M134.4 274.5h0M128 332.1h0M119.2 327.7h0M137.3 219h0M129.3 329.4h0M126.4 329h0M134 269.8h0M121.5 310.2h0M128.2 327.8h0M140 325.2h0M123.9 320.7h0M122.2 311.8h0M140 300.5h0M137.7 276.7h0M127.4 288.1h0M135.1 313.9h0M125 290.1h0M155.6 313.1h0M129.3 273.8h0M136.1 296.6h0M137.2 297.9h0M129 311.7h0M123.1 331.5h0M117.1 324.9h0M127.4 297.1h0M131.5 291.3h0M127.4 271.9h0M126.1 311.8h0M123.9 332.5h0M130 322.2h0M172.6 270.4h0M134.6 322.5h0M122.6 298.8h0M119.7 315.1h0M129.2 297.1h0M119.7 325.5h0M124.5 298.1h0M124.9 314.5h0M120.6 332.1h0M120.7 333h0M128.6 292h0M125.3 295.8h0M126.6 325.8h0M129.2 315.6h0M131.3 314.8h0M146.8 286.9h0M214.7 227.8h0M137.1 323.4h0M148 325.9h0M126.3 305.4h0M125.3 305.4h0M132.9 304h0M120.9 313.9h0M142.8 217.3h0M123.8 308.4h0M130.2 288.1h0M133.4 295.9h0M127.9 281.8h0M127.2 312.3h0M127.7 331.5h0M123.2 318h0M123.5 298h0M127 331.8h0M132.4 258.7h0M127.7 322.2h0M133.9 297.1h0M128.3 331h0M122.4 314.6h0M117.3 329.3h0M124.7 312.9h0M125 307.9h0M122.3 332.3h0M122.9 318.2h0M135.6 305h0M130 289.4h0M119 317.1h0M126.6 327.6h0M119.4 324.2h0M122.8 289.8h0M124.1 332.7h0M124.5 327.4h0M117.5 327.9h0M161.4 194.6h0M148.3 320.9h0M124 309.8h0M130.3 319.4h0M116.8 324.9h0M138.7 305.1h0M125.9 311.7h0M124.2 316.7h0M124.2 310.8h0M125.4 304.1h0M126.4 330.4h0M122.4 330.5h0M127 292.8h0M131.4 256.7h0M126.1 326h0M128.5 307.8h0M130.7 322.2h0M123.9 313.7h0M142.9 314.6h0M134.3 329.2h0M118.2 325.4h0M126 305.6h0M136.5 269.9h0M131.2 311.1h0M116.9 333.3h0M126.9 279.6h0M125.3 329.5h0M132.3 289.7h0M129.3 280.4h0M147.9 284.1h0M130.5 268.2h0M142 294.4h0M120.3 329.7h0M139.1 275.7h0M127.3 323.6h0M141.2 295.5h0M130.8 317.3h0M124.1 292.6h0M122.9 331.9h0M123.6 307.1h0M130.5 317.8h0M157.9 176h0M151.1 314.9h0M135.2 277.9h0M123.4 302.5h0M119.8 323.6h0M116.2 329.5h0M141.7 319.9h0M131.3 296.5h0M122.1 317.5h0M136.5 279.6h0M132.5 312.8h0M124.3 305.5h0M124.7 321.8h0M126.7 271.4h0M129.6 272.4h0M128 321h0M130.8 309.2h0M125.3 302.6h0M123.8 293.2h0M128.4 309.3h0M132.7 301.8h0M117.4 322.6h0M127.8 322.9h0M116.3 329.8h0M130.7 299.5h0M124.8 299.1h0M144.2 245.3h0M123.8 311.9h0M124.8 328.1h0M123.8 301.2h0M125.6 278.3h0M119.8 323.3h0M137.9 317.8h0M131.4 284.4h0M138.4 290.8h0M182 318h0M122.6 303.2h0M123.7 328.5h0M142.1 258.1h0M134.9 285.6h0M157 296.2h0M128.8 294.3h0M119.3 312h0M125.5 307.7h0M126.1 291.4h0M118.1 333h0M125.6 332.3h0M120.5 331.4h0M126.5 291.1h0M133.2 273.9h0M140.5 256.1h0M128.9 298.9h0M138.3 301.9h0M120.7 315.5h0M125 291.9h0M119.1 327.9h0M138 289.5h0M128.7 297.4h0M121.2 333h0M125.1 296.2h0M125.2 306.9h0M131.2 294.8h0M147 283.7h0M130.7 331.6h0M123 311.4h0M134 296.6h0M124.7 314.8h0M120.7 314.4h0M124 291.6h0M127 296.4h0M118.1 329.2h0M122.7 302.3h0M126.5 293.5h0M122.4 305.3h0M127.8 316.1h0M120.2 318h0M130.1 299.5h0M134.8 245.4h0M146.4 285.1h0M127 299h0M128.5 291.2h0M133 326.7h0M128 294.1h0M123 299.8h0M134.3 307.5h0M115.8 330.5h0M126.4 301h0M123.9 292.1h0M144.5 303.7h0M134.3 307.7h0M121.5 314.4h0M130.3 271.4h0M119.6 321.4h0M153.7 305.1h0M128.2 266.1h0M162 244.7h0M168.1 280h0M126.7 298.5h0M139.8 269.5h0M127.5 317.5h0M140 285.1h0M124.6 302.5h0M126.8 328.4h0M129 274.3h0M134.7 333.3h0M122.8 331.1h0M126.6 323.4h0M126 332.9h0M127.6 281h0M143.1 309.8h0M131.3 332.4h0M118.8 332.5h0M138.7 280.4h0M131.6 271.6h0M129.5 268h0M135 311h0M126.5 304.1h0M125.5 291.2h0M120.3 331h0M121.5 315.1h0M125.9 318.5h0M162.6 221.8h0M134.6 253.6h0M127 317h0M124.9 325.9h0M134.5 310.6h0M130.4 319.8h0M126.1 316.1h0M122.3 310.6h0M136.5 280.5h0M177.1 232.6h0M196.4 218.8h0M129 294.8h0M119.2 313.7h0M148.9 317.4h0M121.4 315.3h0M125.4 331h0M118.1 322.9h0M130 318.2h0M130.7 298.7h0M131.9 326.3h0M124.5 287.8h0M125.1 292.8h0M124.8 328.5h0M124.7 329.1h0M128.1 306.1h0M122.5 298.6h0M122.1 310.9h0M121.5 306.8h0M128.1 326.2h0M122.5 330.7h0M125.6 319.4h0M143.9 188.1h0M128.1 324h0M171 278.7h0M120.2 330.4h0M123.4 326.1h0M134.4 276.3h0M127.1 328.3h0M135.9 269.7h0M136.7 324.4h0M126.2 304.9h0M133.9 307.9h0M120.2 308.9h0M132.7 306.8h0M128.2 279.2h0M136.6 238.4h0M128.6 314.6h0M131.3 303.6h0M129.7 306.2h0M126.2 307.4h0M124.2 312h0M125.4 322.6h0M139 273h0M129.4 283.9h0M136.1 323.3h0M136.8 316.2h0M135.7 309.4h0M127.6 316.1h0M124.6 299.3h0M117.2 329h0M123.6 302.3h0M138.3 289.1h0M127.9 306.4h0M123.4 315.6h0M123.1 305.3h0M119.9 326.2h0M128.3 303.5h0M123.4 328.8h0M139 322.8h0M115.4 332.4h0M126.6 331.2h0M118.1 332h0M122.1 328.5h0M123.9 319.5h0M142.4 286.1h0M132.5 283.6h0M121.1 324.8h0M140.3 255h0M135.9 328.1h0M127.1 333.1h0M121.1 332.6h0M118.6 326.4h0M124.8 301.7h0M126.1 327h0M119.9 318h0M118.8 330.4h0M123.1 289.2h0M126.4 314.9h0M122.2 310.6h0M125.4 328.7h0M117.4 321.3h0M124.6 300.7h0M127.2 332.1h0M124.8 322.5h0M163.3 150.8h0M145.1 211h0M129.2 319h0M125.3 295.7h0M126.1 315h0M130.3 324.7h0M121.1 327.1h0M117.2 332.6h0M124.7 320.9h0M131.1 300.7h0M127.1 292h0M122.6 320.7h0M120.9 321.6h0M120.3 322.6h0M130.8 308.4h0M129.1 325.9h0M132.2 320.2h0M127.8 324.9h0M120.8 304.9h0M119.4 330.4h0M120.9 331.6h0M127.9 325.5h0M129.1 331.4h0M127.7 274.5h0M128.1 307.5h0M132.6 281.6h0M125.3 307.6h0M123.9 291.5h0M123.4 324.4h0M144.7 252.9h0M128.9 284.2h0M124.4 308.7h0M127.7 315.2h0M119.5 324.1h0M155.8 332.8h0M144.7 235.7h0M140.1 316.7h0M126.8 287.8h0M120.1 308.2h0M131.4 244.1h0M165.6 166.2h0M130.9 259.4h0M135.9 260.9h0M118.5 317.9h0M115.6 331.4h0M123.9 321h0M130.3 330.5h0M120.3 310.5h0M120.1 333.1h0M134.8 316.7h0M126 326.1h0M131.8 332.7h0M131.6 312.1h0M130.5 294.3h0M124.1 331h0M127.9 317.3h0M136.3 257.2h0M166.9 283.5h0M122.7 307.4h0M137.7 280.9h0M122.3 318.4h0M128.1 332.5h0M141.7 317h0M126.8 322.7h0M119.9 310.2h0M119.3 323.4h0M132.8 321.5h0M123.1 325.5h0M126.3 300.6h0M124.1 325.8h0M141.8 295.8h0M136.6 259.5h0M144.5 295.5h0M118.4 316.4h0M135 326.4h0M154.7 200.1h0M122.7 317.2h0M140.1 318.1h0M126.1 281.6h0M124.5 288.8h0M138.3 286.8h0M123.6 297.2h0M136.3 290.7h0M119.2 312.7h0M125.7 302h0M124.5 330.5h0M124.5 326.1h0M128.4 283.5h0M124 322.7h0M125.1 323.2h0M125.6 324.3h0M124 296.6h0M129.8 327.1h0M126.7 297.6h0M120.3 320.9h0M131.5 325.2h0M142.7 296.8h0M125.5 314.2h0M126.8 307.5h0M150.5 272.3h0M133.8 291.6h0M130.3 323.4h0M138.7 210.3h0M132.3 328.2h0M135.7 297.6h0M125.6 325.1h0M127 268.4h0M139.5 330.1h0M135.3 316.2h0M125.9 302.1h0M126.9 283.7h0M128.5 281.4h0M121.5 301.8h0M152.4 276.3h0M120.3 332.7h0M140.8 257.3h0M137.7 291.9h0M120.8 309.5h0M115.7 333.5h0M125.2 309.7h0M140.7 313.4h0M121.9 324.1h0M131.1 325.1h0M129.6 323h0M132.2 276.1h0M118.8 316.9h0M134.1 274h0M129.1 313.8h0M120.7 319.8h0M124.9 316.1h0M123.3 316.1h0M163.7 285.2h0M128.9 311.9h0M124 322.4h0M147.1 195.5h0M125.5 324.3h0M129.3 318.5h0M128.3 321.9h0M132.1 315.2h0M146.3 302.7h0M120.3 322.5h0M124.3 303h0M141.4 233.3h0M120.3 325.8h0M136 308.9h0M136.1 307.9h0M123.7 310.8h0M144 228.5h0M183.9 281.1h0M121.4 318.7h0M118.3 330.4h0M131.7 285.7h0M126.7 320.9h0M127.6 312.6h0M125.3 288.5h0M155.3 310.7h0M124.4 320.6h0M119.5 321.6h0M122.8 314h0M132.9 325.3h0M127.5 295.2h0M138 263.5h0M131.3 328.8h0M127.8 280.8h0M144.3 271.4h0M128.2 296.8h0M116.5 326.4h0M123.7 324h0M119.8 315.6h0M142.1 231.7h0M132.6 331.4h0M127.7 309.9h0M139.1 325.2h0M140.1 246.3h0M146 277.4h0M119.8 312.8h0M117.4 328.1h0M165.7 221.1h0M125 306.8h0M132.5 313h0M139 208.3h0M132.2 324.6h0M120.1 315.3h0M116.5 333.1h0M126.9 309.7h0M121.5 315.8h0M126.6 274.1h0M119 315.3h0M119.4 319.4h0M130.6 306.5h0M122.4 320.9h0M119.1 311.5h0M138 243.2h0M117.5 326.6h0M123.1 305.7h0M137 259.2h0M137.1 280.4h0M132 309.6h0M120.8 307.6h0M131.4 323.5h0M121.4 308.9h0M123.1 294.2h0M126.6 300.3h0M135.3 318.9h0M126.2 280.5h0M142.1 272.8h0M140.1 310.2h0M149.1 208.9h0M138.8 277.6h0M120.5 316.1h0M120.6 326.7h0M136.6 330.7h0M131.4 316.4h0M151.1 190.2h0M119 319.1h0M127.5 305.9h0M224.6 304.9h0M123.3 310.9h0M163.1 319.9h0M146.2 247h0M129.2 294.4h0M120.8 311.3h0M135.3 324.8h0M121.1 331.8h0M125.4 312.1h0M128.9 290.9h0M130.8 306.5h0M133.9 268.4h0M141 314.7h0M128.9 316.1h0M139.6 306.2h0M122 300h0M127 328.9h0M121.2 316.7h0M133.1 288.3h0M130.6 306.2h0M127.6 314.5h0M125 300.8h0M127.5 332.3h0M132.9 306.1h0M126.3 306.5h0M125.9 308.7h0M160 155.6h0M140.8 249.6h0M130.2 289.4h0M121.6 305.1h0M129.2 299.9h0M130.9 289.6h0M115.7 332.3h0M130.3 309.4h0M130.9 323.9h0M155.3 273.7h0M129.6 332.2h0M123.7 324.6h0M124.6 310.1h0M184.3 159.3h0M126.3 328.7h0M121.3 312.6h0M127 332.7h0M141.7 264.5h0M133.9 316h0M129.9 314h0M127.3 327.5h0M125.2 318.2h0M125.5 299.5h0M127.5 310.5h0M132 310.7h0M142.9 252.4h0M120 329.3h0M150.3 275.6h0M130.7 298.5h0M118.6 322.9h0M130.1 316.7h0M129.2 286.1h0M127.1 325.5h0M118 326.5h0M119 313.8h0M119.9 329.9h0M135.6 293.3h0M123.3 325.7h0M134.9 286.2h0M128.4 322.1h0M123.9 299.1h0M150.6 330.7h0M122.5 329.1h0M126.4 300.3h0M126.5 332.4h0M124.3 309.3h0M128 331.9h0M124.6 332.6h0M137.1 290.1h0M126.4 286.3h0M126.8 310.3h0M124.8 332.2h0M132.2 290.3h0M123.8 333.2h0M128.7 260.4h0M130.2 329.2h0M122 322.4h0M137.9 324.8h0M138.5 309.4h0M151 311.2h0M124.1 295.3h0M120.9 324.6h0M127.9 292.5h0M117.9 323.7h0M124.5 325h0M123.5 306.4h0M129.9 325.6h0M123.5 317.9h0M132.8 314.9h0M130 305.7h0M124.2 313h0M124.1 324.7h0M119 323.8h0M119.5 324.6h0M128.9 295h0M136.3 240.8h0M125.9 316.2h0M126.8 333.5h0M154.3 185.7h0M122.1 323.1h0M153.3 203.6h0M122.6 317.6h0M135.3 323.9h0M129.6 295.6h0M127.8 330.7h0M116.7 329.8h0M122 318.8h0M121.5 302.1h0M125.6 302.2h0M119.7 310.5h0M127.5 299.1h0M117.6 322.1h0M127.3 285.7h0M128.6 313.5h0M134.1 287.4h0M128.9 309.5h0M137.6 267.5h0M123.3 320.5h0M133.8 285h0M128.7 275.2h0M126.9 317.5h0M123.7 308.9h0M127.7 333.1h0M132.9 313h0M145.1 299.9h0M134 270.6h0M120.9 333.5h0M125.5 279h0M129.5 290.5h0M120 313.9h0M154.2 135.1h0M123.9 303.6h0M125.2 288.3h0M126.1 318.4h0M138.9 301.9h0M124.1 318.9h0M125.4 278.8h0M125.3 329.6h0M120.1 327.6h0M130.4 292.5h0M122.6 312.4h0M139.5 300.1h0M126.4 301.8h0M138.3 265.4h0M124.7 301.8h0M132.9 330.9h0M123.4 288.2h0M121 308.8h0M140.3 275.1h0M120.7 313.7h0M141.6 245.3h0M121.9 308.4h0M119.1 322.7h0M128.6 307.6h0M132.6 268.9h0M141.2 303.9h0M121.2 326.4h0M128.6 277.8h0M123.1 330.6h0M118.3 331h0M124.4 309.1h0M131.1 244.4h0M154.5 130.3h0M132.8 297.6h0M123.8 313.5h0M121.5 322.7h0M121.3 305.3h0M151.3 328.6h0M127.3 319.4h0M121.8 302.9h0M126 323.6h0M124.8 289h0M140.9 321.7h0M126.7 311.4h0M131.3 303.7h0M121 316.2h0M131.7 275.3h0M123.9 310.8h0M120.6 311.7h0M125.7 301h0M125.6 332.9h0M151.4 289.2h0M118.5 328.6h0M129.9 272.9h0M153.1 174.3h0M123.5 312.8h0M117.4 322.4h0M132 307.8h0M125 300.5h0M137.5 285.2h0M124.8 322.7h0M124.8 292.1h0M122.6 326.6h0M133 279.6h0M116.7 328.3h0M125.7 308.9h0M134.1 302.1h0M129 330.1h0M130.8 321.4h0M122.9 321.4h0M119.8 326.9h0M122.9 303.4h0M131 313.8h0M127.8 307.5h0M119.6 319h0M128.1 278.6h0M121.5 331.3h0M137.6 305.2h0M135.7 303.6h0M122.5 313.7h0M125.1 331.2h0M117.8 329.8h0M144.8 269.2h0M132.9 248.3h0M159.2 316.7h0M126.7 316h0M122.2 312.6h0M120.6 305.6h0M126.8 298.8h0M126 305h0M127.7 315.5h0M130.8 303.8h0M133.6 321h0M138.9 297.2h0M152.7 316.8h0M145.8 307.2h0M126.2 272.5h0M128.4 300.4h0M127.9 289.5h0M123.7 321.6h0M126.6 308.4h0M121.5 325.2h0M133 323.1h0M129.4 305.9h0M126.1 321.9h0M128 329.4h0M121.1 332.1h0M136.5 298.3h0M119.5 323h0M121.5 304.4h0M129.3 329.6h0M145.2 314.7h0M125.2 333.5h0M121.2 324.4h0M120.5 319.7h0M137.9 325.9h0M117.8 326.8h0M128 298.7h0M121.3 316.9h0M157.4 306.6h0M123.6 321.9h0M133.2 328.1h0M140.9 295.3h0M120.6 306.7h0M161.1 206.3h0M126.2 322.8h0M134 274.5h0M124.6 321.5h0M130 329h0M121.2 329.8h0M120.2 331.6h0M129.1 330.9h0M134.9 314.6h0M124.3 308.1h0M126.3 290.7h0M170.1 198.9h0M123.9 313.6h0M129.1 279.4h0M124.2 311.3h0M128.2 306.3h0M130.6 262.4h0M122.2 299.4h0M130.1 293.5h0M118.8 324h0M140.9 319.2h0M126.7 302.5h0M133.9 316.2h0M131 331.4h0M121.9 314h0M133.8 326.4h0M129.1 306.6h0M129.8 306.9h0M210.3 256.6h0M134.6 287.3h0M124.5 313.3h0M135.1 330.9h0M121.4 299.5h0M127 294.1h0M134 309.6h0M131.7 301.5h0M124.7 329.3h0M124.5 296.5h0M126.9 289.3h0M133.1 301.2h0M125.9 316.8h0M142.8 220.7h0M118.2 333h0M121.5 317h0M128.5 308.9h0M126.3 324.7h0M116.9 329.8h0M118.8 326.4h0M123.9 309.3h0M121.6 319h0M129.2 264.6h0M142.1 283.3h0M123 319.8h0M130 320.4h0M135.1 330.2h0M121.7 327.3h0M124.4 300.6h0M136.1 308.3h0M144.3 313.6h0M137 310.3h0M117.2 326h0M124.7 326.5h0M120.4 324.9h0M136.7 313.6h0M134.6 253.2h0M125.6 306.4h0M127.5 281.3h0M136 272.2h0M144.8 274h0M132.8 272.4h0M123.7 312.2h0M138.6 307.6h0M124.4 300.1h0M121.5 322.5h0M127.4 322.2h0M121.5 329.4h0M122.6 328.4h0M120 310h0M122.5 327.5h0M118.4 333.3h0M118.3 325.3h0M135.5 327.6h0M123.2 299.2h0M131.8 247.2h0M123.6 289.9h0M147.2 245.6h0M129 295h0M135.7 281.3h0M120.1 313.8h0M128.3 318.4h0M131.1 291.6h0M134.2 272.4h0M144.5 286.5h0M130.7 301.7h0M123.2 302.7h0M127.8 328.4h0M161 227.7h0M125.9 303.4h0M121.7 324.3h0M131.6 254.8h0M129.4 316.7h0M123.3 317.4h0M117.7 321.3h0M124.7 315.7h0M117 327.5h0M125.6 280.3h0M170.9 288.8h0M122.6 323.6h0M122.5 328.6h0M128 332.6h0M165.6 140.7h0M125.5 317.3h0M125.7 326.3h0M129.3 326.5h0M125 293.6h0M123.8 303.7h0M165.6 166h0M126.5 314.6h0M123.1 331.8h0M137.8 221.8h0M137.7 295.8h0M123.7 295.6h0M138 291.4h0M131.8 282.3h0M124.7 314.7h0M131 324.1h0M139.2 301.9h0M140.6 279.6h0M131.5 276.1h0M124.8 292.7h0M131.6 289.3h0M125.7 330.8h0M133.9 315h0M131.4 330.6h0M118.4 318.9h0M123.2 333.3h0M125 301.9h0M134.2 278.1h0M152.1 296.4h0M131.4 314.1h0M134.4 276.3h0M127.6 298h0M130.5 278.7h0M132 277.5h0M133.8 297.3h0M127.2 330.7h0M119.4 332.9h0M123.7 326.9h0M120.4 332.2h0M140.3 319.1h0M119.2 331.8h0M119.5 316h0M128.2 300.9h0M121.4 298.8h0M116.6 333.2h0M236 258.1h0M127.2 300.2h0M123.5 306.4h0M123.4 324.3h0M151.6 312.5h0M127.8 289.7h0M137.4 247.2h0M140.5 280.4h0M133.9 317.7h0M122.2 304.2h0M135.6 305.8h0M131 307.4h0M122.9 298.5h0M121.4 303.9h0M120.6 307.5h0M121.1 330.6h0M143.6 324.2h0M120 316.1h0M134.2 306.6h0M154.2 313.8h0M120.8 332.9h0M138.4 297.3h0M138.5 332.6h0M120.9 306.3h0M118.9 321.8h0M130.6 305.4h0M133.6 310.9h0M139.9 287.2h0M124.1 318.8h0M122.7 328.2h0M175.7 213.4h0M138.5 223.1h0M132.8 299.3h0M129.5 288.4h0M131.8 320.8h0M129.9 261.6h0M123.7 329.9h0M148.7 177.6h0M149.9 306.7h0M122.3 322.9h0M125.5 302.3h0M127.7 321h0M128.1 324.7h0M129 264.3h0M136.4 284.4h0M132.9 325.2h0M117.5 330.5h0M118.2 325.1h0M121.9 302.2h0M139.5 323.2h0M137.6 272.5h0M121.6 326.7h0M140.8 309.7h0M121.6 319h0M127 302.1h0M141.4 278.2h0M124.6 328.2h0M120.4 316.5h0M128.8 292.5h0M126.6 308.2h0M118.6 316.8h0M142 301.4h0M128.5 325.3h0M139.4 326.6h0M129.1 324.2h0M118.9 325.6h0M128.8 318.5h0M133.3 293.2h0M145.1 313.8h0M153 331.1h0M149.2 300h0M126.2 320.5h0M127.6 310.3h0M128.4 322.9h0M117.7 321.8h0M118.3 318.2h0M128 272.7h0M132.4 330h0M129.3 325.5h0M123.6 292.8h0M119.1 325.5h0M134.8 275.2h0M127.1 321.1h0M128.1 278.4h0M124.9 295.4h0M126.2 307.9h0M128.7 322.4h0M121.9 318.9h0M118.2 330h0M128.1 314.8h0M122.2 325.7h0M132.2 278.7h0M124.4 331.1h0M132.6 317.8h0M124.1 289.4h0M119.2 328.4h0M134.6 311.1h0M134.4 318.2h0M122.4 307h0M122.8 294.5h0M135 272.2h0M129.5 304.1h0M130.8 324.3h0M130.4 280.7h0M121.9 311.3h0M131.6 259h0M125.5 322.6h0M126.8 315.4h0M129.4 292.4h0M129.7 315.8h0M128.5 318.5h0M132.6 319.1h0M131.7 287.2h0M122.5 333.4h0M134.8 267.5h0M136.9 298.9h0M119.1 332.4h0M131 319h0M128.6 284.8h0M127 324.4h0M123.1 307.6h0M159.5 287.6h0M123.1 304.6h0M127.7 278h0M120.6 313.9h0M127.2 292.7h0M142.4 282.2h0M132.7 274.6h0M122.7 326.5h0M127.9 308.4h0M129.6 322.8h0M129.6 320.8h0M122.1 327.3h0M135.2 332.3h0M135.7 303.7h0M126.6 333.5h0M120 309.7h0M118.2 329.7h0M119.1 333.1h0M151.9 323.4h0M126.5 303.2h0M130.6 300.1h0M125.8 280.8h0M126.5 322.8h0M119.6 320.5h0M127.2 326.9h0M140.4 261.9h0M154.1 307.3h0M118.6 326.1h0M127.2 284.1h0M127 328.3h0M141 329.5h0M126.1 280.9h0M120.6 323.8h0M132.8 308.3h0M163.6 215.1h0M129.5 300.1h0M137.3 276.2h0M117.9 333.5h0M116.6 326h0M124.5 331.1h0M120.7 324.7h0M146.3 301.1h0M153.5 295.1h0M144.2 323.2h0M119.4 311.6h0M120.9 321.2h0M128.5 333.6h0M130.8 297.2h0M120 320.5h0M127 287.5h0M127 303.1h0M133.7 264.3h0M134.1 285.8h0M116.9 325.3h0M118.8 315.3h0M129.1 332.7h0M127.2 301.9h0M119.9 307.1h0M128.8 297.5h0M139 305.7h0M126.5 325.6h0M136 290h0M129 317.1h0M117.8 325.7h0M138.1 314.9h0M132.2 313.5h0M127.8 303.2h0M133.5 300.9h0M125.2 303.1h0M151.7 260.8h0M121.8 301.5h0M121.1 329.9h0M123.7 301h0M151.1 311.7h0M122.1 315.9h0M116.7 327.1h0M118.7 314.6h0M128.7 279.5h0M121.7 329.8h0M132.8 330.2h0M133.8 296.8h0M121.3 321.9h0M125.3 301.2h0M125.3 312.9h0M120.5 318h0M122.3 325.9h0M155.9 298.3h0M141.3 261.4h0M116.7 327.8h0M121.5 302.3h0M132.6 276.8h0M127.2 300.5h0M151.5 260h0M127.4 323.1h0M126.6 325.7h0M121.7 313.6h0M129.1 321.9h0M122 306.5h0M127.9 278.9h0M132.5 269.2h0M122.4 308.7h0M119.5 324.3h0M150.4 145.3h0M131 293h0M124 302.1h0M115.8 330.8h0M144.1 207.3h0M120.6 330.4h0M116 329.5h0M128.5 295.5h0M123.5 315.5h0M123.2 324.5h0M126.7 279.3h0M153.9 320h0M121.5 317.8h0M122.3 321.9h0M134 287h0M119.7 313.1h0M119.1 316.7h0M123.7 317.7h0M124.4 319.5h0M125.8 299.5h0M131.2 306h0M121.4 304.5h0M134.7 310.8h0M123 294.8h0M122.9 311.6h0M143 312.2h0M130.8 299.9h0M129.8 283.2h0M124.1 322.8h0M157.3 251.1h0M126 310.7h0M120.1 307.9h0M134.6 241h0M128 297.3h0M125.5 321.6h0M128 312.5h0M130.7 273.7h0M135.1 319.3h0M116.5 330.9h0M136 305.3h0M118 331.3h0M130 332.4h0M129.1 283.4h0M130.7 307.5h0M158.9 158.1h0M124.5 315.3h0M128.3 321.1h0M124.2 303.7h0M123.3 311.9h0M123.2 316.2h0M133.3 278.3h0M132.1 293.1h0M119.5 320h0M151.5 232.3h0M121.6 321.7h0M148.8 225.5h0M121 308.2h0M128.5 299.8h0M124.8 296.5h0M136.6 305.5h0M136.2 295.2h0M126.6 299h0M125.9 315h0M131 266.9h0M137.8 280.8h0M122.2 296.9h0M134.1 323.6h0M127.1 322.8h0M126.7 311.1h0M131.8 266.9h0M117.2 333.4h0M150.9 251.3h0M126.1 279.8h0M127.5 317.4h0M131.7 300.1h0M124 286.6h0M131.6 296.2h0M116.8 326.1h0M146.3 271.8h0M125 304.8h0M128.6 333.5h0M120.8 312h0M121.6 328.1h0M135.1 287.1h0M133.7 332.3h0M126.9 322.9h0M127.9 321h0M122 330.1h0M134.2 292.8h0M128.9 315.2h0M120.5 327.8h0M148.6 313.7h0M130.7 328.5h0M115.8 331.9h0M118 320.7h0M126.5 312.4h0M140.8 306h0M120.8 315.8h0M124.6 319.8h0M129 310.5h0M122.5 327.6h0M132.9 280.9h0M121.5 318.5h0M137.1 293.6h0M128.4 291.5h0M122 328.2h0M119 321.6h0M139.5 324.4h0M129.8 326.5h0M132 294.8h0M137.1 326.4h0M120.7 319.3h0M132.5 303.9h0M121.4 311.1h0M128.2 331.6h0M127 327.6h0M126.4 323.3h0M122.6 307.8h0M129.4 298.4h0M116.1 333.2h0M123.5 307.5h0M123.4 322.1h0M120.5 329.7h0M143.4 290.7h0M127 319.9h0M119 311.7h0M127 285.4h0M134 257.8h0M140.5 316.9h0M122.3 323.5h0M130 284.4h0M123.1 305h0M121.8 303.7h0M118.4 325h0M129.2 330.4h0M132.5 297.8h0M126.6 308.3h0M129.2 330.6h0M139.9 274.2h0M130.5 326h0M126.7 327.6h0M161.4 298.2h0M122.3 307.6h0M134 302h0M120.8 315.8h0M120.6 304.5h0M128.5 333h0M124.5 326.7h0M124.5 306h0M126 327.8h0M119.9 329.8h0M129.6 291.8h0M130.9 311.4h0M148.3 226.1h0M128.9 310.8h0M124.1 333.4h0M129.6 296.4h0M134.2 314.5h0M136 327h0M131.3 287h0M131.5 280.8h0M122.4 303.7h0M133.5 291.2h0M120.9 310.8h0M145.9 196.7h0M128.1 304.6h0M135.2 279.9h0M123.4 331.5h0M124.3 304.7h0M124.8 312.7h0M125.4 282.9h0M118 328.9h0M124.5 299h0M136.2 321.8h0M125.4 317.4h0M128.8 289.4h0M125.1 302.3h0M165.5 133.6h0M126.3 315.6h0M129.9 333.1h0M171.4 321.3h0M117.8 321.8h0M123.6 305.6h0M128.5 293.8h0M126.2 317.4h0M124.1 333.6h0M117 329.5h0M152.2 272h0M138.5 306.7h0M121.5 326.9h0M119.6 324.5h0M140.7 245.6h0M124.4 330.4h0M140.1 320.1h0M122.5 296.4h0M125.6 325.7h0M140 317.8h0M119.1 314h0M132.6 309h0M123.2 330.6h0M131.8 270.1h0M129.6 256.2h0M155.5 299.2h0M136.2 236.2h0M124.6 304.4h0M127.6 293.7h0M121.3 325.9h0M124.9 297.9h0M133 289.6h0M127.1 273.1h0M120.3 317.8h0M120.1 322.3h0M158.8 156.6h0M117.4 328.7h0M123.1 320.3h0M145.1 310.3h0M120.4 330.4h0M127.5 321.6h0M124.8 310.9h0M125.5 311.7h0M118.4 328.9h0M135.4 313.7h0M126.8 332.3h0M140.6 222.9h0M123.9 329.8h0M120.6 330h0M132.5 321.6h0M115.8 333.2h0M135 298.6h0M127.9 296.5h0M121.6 328.6h0M139.6 277.5h0M124.7 311.8h0M130.2 250.6h0M126.9 301.4h0M120.2 325.9h0M125.7 328.7h0M118.7 325.9h0M126.7 319.4h0M128.4 319.1h0M153.2 295.1h0M126.5 321.2h0M130.7 310.3h0M128.3 315.6h0M130.3 333h0M127.1 306.7h0M132.3 323.5h0M117.9 331.6h0M125.9 333.4h0M127.9 318.9h0M130.2 320.3h0M131.3 255.3h0M120.2 323.8h0M134.9 292.8h0M115.7 331.8h0M120.8 306h0M126.7 284.9h0M139.7 243.2h0M121.7 325h0M130.6 312h0M117.2 325.2h0M125.8 286.4h0M118.5 320.3h0M134.7 308.6h0M122.5 333.3h0M120.9 322.2h0M121.8 320.6h0M124.4 309.2h0M124.6 320.1h0M119.6 314.9h0M127.7 332h0M307.7 103.4h0M220.5 149.3h0M216.6 157.4h0M182.6 114.3h0M186.6 196.9h0M182.2 203.4h0M185.5 205.6h0"/>
<line class="grv" x1="112.6" y1="65.75" x2="112.6" y2="356.5"/>
<line class="grn" x1="30.05" y1="333.6" x2="320.25" y2="333.6"/>
<rect x="29.05" y="64.75" width="292.2" height="292.75" fill="none" stroke="#878787" stroke-width="1.4"/>
<line x1="27.05" y1="78.2" x2="29.05" y2="78.2" stroke="#999" stroke-width="0.6"/><text class="tk" x="26.45" y="79.5" text-anchor="end">30</text>
<line x1="27.05" y1="167.2" x2="29.05" y2="167.2" stroke="#999" stroke-width="0.6"/><text class="tk" x="26.45" y="168.5" text-anchor="end">20</text>
<line x1="27.05" y1="256.2" x2="29.05" y2="256.2" stroke="#999" stroke-width="0.6"/><text class="tk" x="26.45" y="257.5" text-anchor="end">10</text>
<line x1="27.05" y1="345.2" x2="29.05" y2="345.2" stroke="#999" stroke-width="0.6"/><text class="tk" x="26.45" y="346.5" text-anchor="end">0</text>
<line x1="43.5" y1="357.5" x2="43.5" y2="359.5" stroke="#999" stroke-width="0.6"/><text class="tk" x="43.5" y="364.1" text-anchor="middle">-1</text>
<line x1="112.6" y1="357.5" x2="112.6" y2="359.5" stroke="#999" stroke-width="0.6"/><text class="tk" x="112.6" y="364.1" text-anchor="middle">0</text>
<line x1="181.5" y1="357.5" x2="181.5" y2="359.5" stroke="#999" stroke-width="0.6"/><text class="tk" x="181.5" y="364.1" text-anchor="middle">1</text>
<line x1="250.4" y1="357.5" x2="250.4" y2="359.5" stroke="#999" stroke-width="0.6"/><text class="tk" x="250.4" y="364.1" text-anchor="middle">2</text>
<line x1="319" y1="357.5" x2="319" y2="359.5" stroke="#999" stroke-width="0.6"/><text class="tk" x="319" y="364.1" text-anchor="middle">3</text>
</g>
<g>
<line class="grid" x1="405.3" y1="65.75" x2="405.3" y2="356.4"/>
<line class="grid" x1="432.5" y1="65.75" x2="432.5" y2="356.4"/>
<line class="grid" x1="459.4" y1="65.75" x2="459.4" y2="356.4"/>
<line class="grid" x1="513" y1="65.75" x2="513" y2="356.4"/>
<line class="grid" x1="540" y1="65.75" x2="540" y2="356.4"/>
<line class="grid" x1="567" y1="65.75" x2="567" y2="356.4"/>
<line class="grid" x1="594" y1="65.75" x2="594" y2="356.4"/>
<line class="grid" x1="621" y1="65.75" x2="621" y2="356.4"/>
<line class="grid" x1="647.8" y1="65.75" x2="647.8" y2="356.4"/>
<line class="grid" x1="674.6" y1="65.75" x2="674.6" y2="356.4"/>
<line class="grid" x1="390.4" y1="78.2" x2="682.0" y2="78.2"/>
<line class="grid" x1="390.4" y1="122.7" x2="682.0" y2="122.7"/>
<line class="grid" x1="390.4" y1="167.2" x2="682.0" y2="167.2"/>
<line class="grid" x1="390.4" y1="211.7" x2="682.0" y2="211.7"/>
<line class="grid" x1="390.4" y1="256.2" x2="682.0" y2="256.2"/>
<line class="grid" x1="390.4" y1="300.7" x2="682.0" y2="300.7"/>
<line class="grid" x1="390.4" y1="345.2" x2="682.0" y2="345.2"/>
<path class="pts" stroke="#b9b9b9" stroke-width="1.5" opacity="1.0" d="M464.6 333.6h0M482.3 333.6h0M469 333.6h0M475.1 333.6h0M479.9 333.6h0M450.1 333.5h0M481.7 338.1h0M477.1 333.7h0M480.2 343.2h0M473.6 333.7h0M479.3 338.5h0M482.2 336.2h0M484.7 339.8h0M482.6 333.9h0M474.6 335.8h0M480 338.2h0M468.4 334.6h0M470.9 336.2h0M481 343.1h0M472.1 336.1h0M482.9 335.8h0M482.9 337.6h0M473.7 334.8h0M472.4 334.2h0M485.3 343.4h0M471.8 333.8h0M478.1 337.7h0M473.5 336.2h0M484 335.3h0M477.9 335.8h0M476.4 339.2h0M471.1 333.9h0M466.3 336.2h0M483.8 339.6h0M479.7 337.2h0M477 337.1h0M473.8 335.4h0M483.6 341.5h0M481.4 338.4h0M473.1 334.9h0M480.2 338.8h0M475 337.1h0M473.9 337.1h0M462.4 339.2h0M477.1 339.6h0M480 341.5h0M477.9 334.5h0M470.6 334.4h0M474.5 338.4h0M479 343.1h0M480.9 337.4h0M480.1 340.1h0M477.3 338.1h0M484.9 344.7h0M474.8 339.6h0M483.1 336.6h0M467.3 333.7h0M481.9 344.4h0M466.3 337.2h0M479.6 342.6h0M479.9 341.5h0M479.6 343.4h0M481 338.6h0M471.9 334.5h0M474.8 335.7h0M477.3 335.6h0M477.2 338.5h0M482 335.8h0M468 333.6h0M474.6 340.8h0M485 340.4h0M483.2 333.8h0M474.8 334.4h0M470.9 336.7h0M482.6 333.9h0M478.9 343.4h0M479.1 338.1h0M479.5 337.7h0M484 341.7h0M478.1 335.1h0M484.6 339.9h0M470 334.9h0M482.1 336.2h0M484.5 340.3h0M473.2 337.8h0M481.8 333.6h0M484 344.2h0M478.3 341.8h0M475 335h0M474.4 337.3h0M468.5 333.6h0M483.4 342.9h0M483.5 334.2h0M475.9 336.4h0M480.3 341.5h0M481.6 336.5h0M472.8 340.1h0M482.2 342.6h0M474.7 335.5h0M482.2 342.9h0M472.7 334h0M482.6 338.5h0M476.2 336h0M480.8 335.7h0M482.4 334.9h0M474.9 341.4h0M477.4 339.7h0M481.6 338.3h0M479.9 335.5h0M477.3 335.6h0M473.7 336.4h0M470.7 336.3h0M485.8 345.2h0M485.2 343.9h0M472.8 338.3h0M478.6 340.7h0M484.4 338.3h0M484 337h0M483.2 335h0M485.1 345.1h0M474.4 336.9h0M458.8 336.2h0M472.4 334.1h0M482.9 333.7h0M481.3 340.1h0M468.5 339.1h0M480 337.3h0M483.4 340.8h0M485.9 345.1h0M481.5 334h0M484.5 339.1h0M481 338.7h0M483.1 340.6h0M472.2 337.1h0M483.4 341.2h0M475.7 337.3h0M481.5 333.7h0M475.9 341.1h0M473.6 336.6h0M485.3 345.2h0M483 334.5h0M483.3 333.8h0M478.6 342h0M477.8 341h0M483.8 334.8h0M483.6 342.7h0M482.4 340.5h0M477.4 338.9h0M473.7 338.3h0M473.1 336.8h0M475.8 340.4h0M483.4 338.2h0M483.9 340.9h0M474.6 339.9h0M484.2 340h0M480.8 334.8h0M478.7 334.2h0M480.2 342.9h0M475.2 336.4h0M471 335.8h0M470.8 335.1h0M469.5 336.3h0M464.3 339.4h0M470.6 334.6h0M483.4 342.1h0M482.2 337.7h0M484.9 342.9h0M477.1 339.4h0M475.8 338.9h0M476.6 333.8h0M480.5 344h0M483.1 343.8h0M480.3 336.1h0M475.9 341.2h0M468.8 334.6h0M478.4 342.2h0M479.6 342.6h0M483.8 337.8h0M480.8 341h0M481.2 344.1h0M468.5 336.9h0M475 337.9h0M474.9 336.6h0M482.5 336.7h0M481.8 343.5h0M470.8 339.3h0M475.6 334.8h0M476 341.6h0M481.8 333.6h0M470 334.6h0M464 336.7h0M482.9 335.9h0M474.9 335.9h0M479.5 336.8h0M461.4 335.8h0M474.2 343.3h0M482.8 338.9h0M474.8 338.3h0M483.1 344.5h0M475 340.3h0M470.9 334.3h0M482.1 344.1h0M478.5 338.5h0M472.3 334.1h0M481.3 344.2h0M481.8 341.5h0M484.1 335.8h0M477.4 337h0M469.8 335h0M477.9 340.4h0M485.8 343.5h0M479.8 342.6h0M479.7 341.5h0M483.4 338.4h0M477 341.4h0M473.8 338.9h0M482.8 336h0M472.9 333.8h0M473.8 339.2h0M476 339.5h0M485 345.1h0M473.1 338h0M471.1 338.6h0M476.2 334.3h0M480.5 335.2h0M481 343.5h0M477.8 333.6h0M484.6 340.2h0M477.2 341.8h0M476 334.2h0M480.9 340.2h0M482.6 334.2h0M473.8 335.8h0M482.3 335.7h0M477.5 339.4h0M475 337.4h0M479.4 341.9h0M474.9 336.6h0M476.9 336.2h0M476.8 341h0M481.3 337.4h0M475.5 340.2h0M473.3 336.6h0M475.6 333.8h0M455 337.2h0M471.4 337.2h0M477 334h0M480.9 339.9h0M483.3 344.3h0M484.2 336.2h0M484.7 338.7h0M478.1 338.6h0M470.8 333.6h0M474.8 334.2h0M484.4 340.4h0M485.2 341.4h0M476.1 336.9h0M469.3 333.6h0M485.8 343.9h0M482.8 339.3h0M471.6 336.1h0M472.2 338.1h0M485.5 345.1h0M481.9 339.5h0M479.6 339.4h0M483.1 339.8h0M463.3 334.9h0M472.3 335.3h0M475.8 333.9h0M475.8 340.6h0M483.5 340h0M481.1 336.2h0M473.1 334.1h0M475.6 341.3h0M482.7 339.7h0M480.8 340.9h0M473.6 339h0M482.8 336.4h0M482.9 337.7h0M481.7 336.3h0M471.5 338.2h0M470.1 334.9h0M467.7 338.5h0M481.7 341.7h0M476.7 340.4h0M482.5 334.8h0M484.7 338.6h0M476.4 336.3h0M475 339.3h0M482.3 338.7h0M466.3 334.3h0M480.7 336.5h0M472 338.7h0M473.4 336.5h0M474.7 336.8h0M472.8 339.6h0M483 337.4h0M462 338.5h0M483 334.5h0M475.8 335.6h0M476.8 333.8h0M469.7 333.7h0M473.9 339.4h0M469.1 334.1h0M484 336.7h0M471.2 339.4h0M482.8 342.4h0M483.6 334.9h0M482.3 334.5h0M484 344.3h0M479.9 335h0M472.6 336.9h0M469.6 333.8h0M483.3 336.5h0M478.1 339h0M484.2 335.8h0M467 337.6h0M484.8 340.8h0M470.7 333.8h0M483.9 345h0M476.2 338.9h0M468.8 334.6h0M476.3 336.8h0M474.7 335h0M481.5 341.2h0M465.8 335.1h0M473.1 337.2h0M480.3 336.8h0M472.6 338.2h0M476.4 336.1h0M481.1 335.3h0M477.5 339.5h0M477.1 342.3h0M485.1 340.6h0M478.6 334.8h0M478 333.7h0M485 341.5h0M483.7 337.7h0M481.7 339.1h0M473.7 337h0M476.2 337.8h0M472.6 336.2h0M467.5 336.6h0M480.6 343h0M458.4 335.4h0M480.4 337.5h0M481.4 338.4h0M478 336.4h0M483.9 337.2h0M474.2 336h0M469.4 337.9h0M471.6 333.9h0M476.2 338.5h0M474.1 338.1h0M485.1 341.5h0M469.1 335.1h0M478.5 342.7h0M464.7 336h0M479.2 333.8h0M473.9 339.3h0M464 336.4h0M482.8 338.3h0M483.6 338.4h0M474.5 334.9h0M486.1 344.4h0M471.2 336.9h0M480.9 344.3h0M479.8 334.2h0M472 339.3h0M481.2 334.6h0M474.9 336.8h0M481.6 334.1h0M480.8 337.9h0M481.2 334.4h0M482.5 338.2h0M482 341.9h0M481.8 339.7h0M476.5 340.2h0M483.3 337.2h0M485.1 340.8h0M484.1 342.8h0M477.4 336.7h0M481.6 340.9h0M479.4 335.1h0M483.1 338.4h0M476.3 337.1h0M477.7 339h0M476.1 335.7h0M470.4 333.9h0M482.3 341h0M468 334.1h0M482.7 340.3h0M481.9 333.8h0M464.5 334.3h0M477.9 341.2h0M464.4 334h0M471.3 335.6h0M484.5 342h0M475.8 339.3h0M485 342.2h0M479.8 343h0M476.1 335.8h0M484.1 336.7h0M482.4 342.8h0M468.6 336h0M460.3 335.5h0M481.7 342.3h0M476.2 336.9h0M472.8 335.4h0M483.5 333.9h0M483.4 343.6h0M478.3 341.4h0M482 336.6h0M475.6 334.6h0M479.5 335.7h0M484.9 345.1h0M482.7 344.7h0M477.7 336.2h0M484.9 343.1h0M469.5 342.3h0M475.4 334.8h0M470.5 334.5h0M485.3 342.9h0M478.8 335.2h0M473.5 336.3h0M469.9 336.2h0M474.8 338.5h0M468.2 338.5h0M483.3 334.6h0M482.1 341.8h0M472.6 336.4h0M480.4 339.6h0M471 339.1h0M469.6 336.8h0M479 338.1h0M476.2 335.1h0M480.4 338.6h0M476.1 333.9h0M478.4 339.3h0M482.6 336.9h0M462.9 338.8h0M472.4 334.3h0M478.6 337.8h0M474.8 337.1h0M481.6 338.4h0M477.8 339.8h0M474 339.5h0M493.1 333.6h0M493.1 333.6h0M500.1 333.5h0M499.7 333.6h0M493.7 333.6h0M493 333.6h0M489.9 333.6h0M493.4 333.6h0M490.7 343.1h0M490.1 335.9h0M492.6 336.1h0M487.8 342.3h0M498.4 337.4h0M494.1 337.1h0M489.2 342.7h0M488.5 343.2h0M498 333.7h0M491.7 337.1h0M493.6 338.1h0M495.3 339.5h0M489.5 333.8h0M514.4 334.2h0M501.7 336.2h0M488.6 339.8h0M488 343.9h0M495.3 334.3h0M488.2 341.6h0M499 339h0M494.6 334.9h0M491.2 342.1h0M500.7 333.7h0M498.9 336.8h0M488.8 333.6h0M491.6 333.7h0M489.6 344.4h0M497 335.4h0M505 336.8h0M492.8 343.5h0M500.1 338h0M499.3 338.4h0M489.8 339.1h0M491.7 336.3h0M499.2 336h0M503.6 338h0M490.8 334.7h0M499.7 333.7h0M490.5 336.7h0M486.8 341.2h0M495.1 337.3h0M492.5 336.8h0M487.9 337h0M488.7 343h0M486.2 345.2h0M495.4 334.4h0M497.1 336.6h0M490.6 340.1h0M503.4 333.7h0M500.9 333.7h0M501.8 335.3h0M491.2 339.3h0M493.2 335.4h0M493.8 342h0M496.2 341h0M502.3 335.1h0M489.6 339.1h0M488.9 344.7h0M493.9 342h0M494.9 334.6h0M486.4 345h0M492.9 343.3h0M493.7 336.8h0M503.1 333.6h0M511.5 336h0M494.8 339.4h0M494.5 341.9h0M495 342.6h0M496.9 334.8h0M500.4 335.5h0M486.7 345h0M495.5 339.1h0M498.7 333.8h0M505.9 337.9h0M493.5 342.3h0M490.1 334.8h0M497.1 334.9h0M487.5 343.6h0M493.4 334.5h0M496.2 340.7h0M496.2 338h0M507.1 336.5h0M489.4 337.8h0M501.3 334.5h0M498.1 337.6h0M488.4 344.5h0M489.8 340.6h0M499.2 336.1h0M490.8 341.4h0M504.3 338.9h0M486.7 343.2h0M488.6 344.5h0M503.5 334.5h0M498.9 335.4h0M492.1 343.2h0M487.2 339.8h0M490.2 336.6h0M507.3 334.5h0M495.6 333.9h0M489.6 343.5h0M498.4 339h0M496.2 340.5h0M491.9 337.8h0M487.7 342.5h0M500.1 334h0M494.3 342.4h0M493.7 336.2h0M488.8 340.1h0M487.7 345h0M494.2 336h0M498.5 339.2h0M486.4 342.7h0M496.2 341h0M500.8 336.2h0M492.2 334h0M494.4 334h0M488.2 337.4h0M498.8 338.7h0M489.8 334.3h0M496 335.4h0M500.9 336.1h0M495.6 341.4h0M489.6 336.1h0M500.3 335.6h0M498.6 335.4h0M495.3 340.5h0M493.8 340.9h0M497.4 335.9h0M501.6 339.8h0M500.2 338.4h0M490.6 338.7h0M491.6 335.1h0M488.7 337.2h0M497.5 337.2h0M490.9 341.7h0M495.1 341.2h0M499.8 336.7h0M499.4 335.1h0M502.8 341.9h0M494.3 334.2h0M490.7 336.2h0M488.8 344.9h0M494.3 335.2h0M491.5 339.2h0M503.7 341.3h0M494.4 336.6h0M498.7 336.9h0M488 340.6h0M492.4 337h0M498.6 336.3h0M495.4 336.9h0M502.1 334.2h0M504 336h0M490.4 344.1h0M496.3 336.3h0M497.3 337h0M493.1 336.4h0M489.9 342.8h0M489.8 341.6h0M502.3 335.4h0M495.1 342.4h0M501.4 336.4h0M487.4 345.1h0M494.1 334h0M489 341.4h0M489.5 336.1h0M487.7 337.8h0M499 335.9h0M486.9 340.7h0M493.1 338.4h0M503.8 335.7h0M488.5 334.3h0M489.6 334.3h0M490.5 341.8h0M491.2 340.1h0M499.8 337.9h0M494.5 338.4h0M492.5 341.1h0M495 343.6h0M504.9 333.8h0M502.8 336.2h0M505.1 335.3h0M493.1 333.8h0M502.4 336.4h0M501.2 334.5h0M487.6 342.9h0M491.5 340.6h0M495.5 341.8h0M489.7 338.7h0M491.5 341.5h0M493.7 340.9h0M486.4 345.1h0M493.1 333.8h0M492.2 333.7h0M497.9 334.9h0M487.8 337.4h0M490.6 338.7h0M490.4 334.9h0M492.5 339.1h0M488.9 339h0M491.1 344.3h0M507.2 338.6h0M499.5 336.7h0M488.7 338.3h0M499 336.8h0M488.2 339.2h0M504 338.5h0M500.7 337.2h0M492.2 342.2h0M507.3 339h0M505.7 336.2h0M499 338.2h0M494.5 341h0M493.2 336h0M494.1 339.3h0M497.8 336.5h0M499.2 337.3h0M494.4 341.7h0M487.9 343.6h0M495.7 333.8h0M495.8 337.5h0M505.3 337h0M488.3 335.9h0M489.2 340.4h0M493.6 337.3h0M491.6 336.4h0M488.3 340.3h0M496.5 338.6h0M489.2 340.4h0M487.6 339.4h0M491.5 343h0M507.1 335.3h0M488.1 337.7h0M494.8 335.2h0M495.3 337.2h0M488.7 341.8h0M501.2 337h0M487 342.7h0M490.3 339.4h0M494.1 338.7h0M496.5 338.1h0M499.3 339.2h0M491.5 340.7h0M493.8 341.9h0M489.7 338.1h0M487.3 344.8h0M496.3 341.2h0M499.6 338.8h0M487.4 338.7h0M487 342.9h0M489.7 344h0M493.2 341.9h0M502.1 336.7h0M488.2 334.9h0M490.9 336.7h0M501.6 334h0M491.7 337h0M498.7 334.9h0M512 338h0M492.4 335.6h0M505.1 337h0M502.5 334h0M495.1 339.7h0M487.8 342.3h0M489.9 340h0M491.4 341.5h0M489.6 340.8h0M493.6 341.2h0M502.5 335.5h0M492.8 339.9h0M491 340.5h0M494.5 341.1h0M488.8 341.1h0M504.5 337.3h0M500.1 337.1h0M489.4 340h0M494.8 342.4h0M493.8 342.7h0M489.2 344.8h0M492.4 337.4h0M495.8 334.2h0M497.1 340.4h0M498.7 335.5h0M500.8 337.3h0M497.8 335h0M495.9 338.6h0M503.5 339.7h0M503.6 333.6h0M496.2 337.9h0M487.1 345.1h0M489.3 343.1h0M507.1 337.2h0M501.2 340.6h0M488 339.5h0M507.7 337.1h0M494.8 336h0M495.3 336.7h0M490.7 338.6h0M494.4 335.2h0M493.3 340.5h0M495.4 338.9h0M505.5 335.9h0M491.2 344.2h0M500.6 334.3h0M503.1 335.4h0M495.7 338h0M495.4 342h0M494 337.2h0M499.8 334.1h0M496.2 334h0M501.2 335.7h0M494.8 337.4h0M493.8 341.5h0M487.9 338.9h0M500.1 336.2h0M497.2 336.5h0M497 339.1h0M499.2 341h0M490.8 340.2h0M502.9 333.9h0M497.3 336.1h0M502.5 334.7h0M498.8 333.6h0M504.5 338.7h0M493.8 339.1h0M494.8 342.1h0M497.9 340.6h0M496.2 335.8h0M494.4 334.2h0M490.2 338.3h0M497.5 334.9h0M495.7 338.2h0M504 333.7h0M497.7 339.8h0M498.2 337.3h0M488.8 333.8h0M496.8 343.7h0M494.7 337.4h0M502.3 334.4h0M496.1 334.1h0M493.6 336h0M489 338.1h0M488 345.1h0M495.5 333.7h0M497 339.3h0M493.3 343.1h0M497.8 334.5h0M495.9 338.5h0M501.6 337.2h0M499.2 333.8h0M490.4 333.6h0M500.8 337.1h0M490.3 343.5h0M494.4 336.6h0M506.4 339.3h0M495.9 337.4h0M490.2 342.5h0M497.9 338.5h0M492.1 341.6h0M493.4 338h0M488 336.1h0M499.3 337.1h0M492.3 340.2h0M488.9 342.9h0M488.5 341.5h0M493.6 334.1h0M494 337h0M486.9 341.9h0M486.6 342.8h0M497.7 336h0M487.7 338.6h0M498.3 342.8h0M489 342h0M489.7 333.8h0M500.7 335.3h0M487.4 343.5h0M503.2 340.1h0M499.8 337.4h0M489.7 333.8h0M501.1 335.5h0M502.4 334.1h0M495.2 342.1h0M488.8 334.5h0M497.3 333.8h0M488.8 337.9h0M494 342.7h0M491.9 335.4h0M491.9 341.5h0M504.1 333.9h0M486.4 342.9h0M498.5 333.9h0M491.2 343.5h0M496.1 339.3h0M500.2 342.1h0M495.7 339.7h0M495.6 333.9h0M503.3 334.3h0M494.3 342.3h0M495.7 337h0M491.7 343.5h0M491 343.5h0M493.2 343.3h0M497.9 340.5h0M489.3 341h0M496.2 339.3h0M488.5 343.2h0M489.4 341.5h0M500.5 333.8h0M497 341.2h0M496.7 337.1h0M496.3 341.5h0M489.2 341.8h0M489.8 343.2h0M505.1 339.8h0M497.5 337.9h0M489.9 338.4h0M492.1 343.4h0M488.3 336h0M494.9 334.3h0M490.5 335.5h0M491.6 339.7h0M501.6 333.9h0M489.8 335.2h0M508.9 338.6h0M494.9 338.9h0M487.8 341.4h0M493.7 337.3h0M499.4 334.6h0M497.3 335.9h0M491.8 343h0M493.2 334.1h0M491.2 341.1h0M496.4 334.8h0M487 343.5h0"/>
<path class="pts" stroke="#add8e6" stroke-width="1.45" opacity="1.0" d="M476.5 322.4h0M478.9 319.2h0M458.4 322.6h0M448.5 329.4h0M444.6 313.3h0M481.2 329.2h0M475.3 318.2h0M455.9 318.4h0M475.6 327.2h0M480.2 333.4h0M469.2 320h0M470.7 332.3h0M473.5 303.2h0M481.1 327.6h0M477.6 328.3h0M469.2 333.1h0M472.3 293.2h0M480.1 321.5h0M469.9 317h0M478.7 321.6h0M479.3 330.9h0M478.9 328.6h0M479.7 330.6h0M476.5 325.3h0M463.3 299.1h0M474.7 328.2h0M465.2 308.5h0M469.9 318.3h0M467.2 313.1h0M471 322.9h0M478.7 323.2h0M469.2 326.9h0M465.6 314.9h0M468.1 305.2h0M465 324.6h0M452.3 330.2h0M472.5 300.5h0M475.6 332.4h0M464.3 322.2h0M473.2 293.4h0M481.1 329.8h0M463.5 326.8h0M440.6 323.9h0M476.7 309.5h0M476.8 324.4h0M474 311.6h0M473.1 322.7h0M475.2 301.6h0M468 325h0M467.7 304.1h0M475.6 307.6h0M481.7 331.9h0M461.1 296h0M469.3 332.2h0M480.9 329.5h0M467.2 318.3h0M465.4 295.4h0M468.1 303.7h0M480.2 320.9h0M470.8 329.4h0M473.5 326.4h0M469.3 301.9h0M479 318.7h0M475 326.8h0M475.9 332.7h0M469.5 323.6h0M476.8 331.6h0M474.4 299.8h0M474.7 327.7h0M472.3 332h0M462.3 301.1h0M452.2 289.1h0M477.4 328.2h0M477.9 332.8h0M477.4 313.4h0M480.9 325.2h0M478.4 330.9h0M465.9 292.3h0M479.8 326.8h0M434.6 312.6h0M449.9 322.4h0M473 292.5h0M471.9 324.1h0M451.1 289.6h0M477 326.7h0M473.6 322.7h0M476.7 324.4h0M481.5 328.5h0M469.6 326.4h0M446.7 315.3h0M473.2 327.8h0M475.4 333.4h0M472.8 319.9h0M478.5 320.4h0M478.4 313.7h0M479.6 318.4h0M471.9 290.6h0M460.2 325.5h0M474.9 318.7h0M458.8 332.5h0M462.4 286.8h0M477.5 332.8h0M480.4 326.2h0M479.8 325.7h0M471.6 291.2h0M478.6 315.3h0M477.9 330.7h0M478.1 319.3h0M473 319.4h0M477.5 332.3h0M446.2 304.8h0M472.8 313h0M473.1 304.9h0M474.4 314.2h0M471.1 280h0M474.8 329.9h0M477.2 327.7h0M471.5 329h0M474.3 333.3h0M474.8 307.1h0M478.2 314.7h0M476.2 308.6h0M452.2 320.3h0M478.8 323.6h0M473.6 317h0M472.3 324.7h0M472.5 328.1h0M475.8 310.5h0M472.9 313.9h0M462.5 326.9h0M477.5 333.1h0M477.2 319.7h0M476.3 330.5h0M467.2 321.9h0M471.4 289.1h0M478.1 329.2h0M459.6 290.2h0M469.1 318.2h0M478.4 317.2h0M468.8 310.5h0M467.8 306.6h0M478.3 311.4h0M469.4 332.9h0M475.5 304.5h0M479 333.2h0M471.8 305.2h0M464.5 333.1h0M479.7 331.5h0M465 276.1h0M468.1 329.7h0M476.2 325.9h0M472 315.7h0M474.5 325.8h0M467.5 322.5h0M452.8 310.8h0M469.4 318.6h0M476.2 311.1h0M473.1 319.8h0M471.8 295.3h0M450.7 322.3h0M481 326.9h0M468.2 313.8h0M469.7 309.8h0M462.7 293.4h0M471 304h0M443 305.9h0M473.9 329.2h0M474.5 309.9h0M464 322.1h0M471.4 301.4h0M458.8 314h0M471.8 310.9h0M467.9 309h0M481.7 331.8h0M479.6 321.6h0M478.3 317.3h0M453.2 326.6h0M471.2 325.3h0M476.1 323.3h0M472.4 325h0M457.3 332.2h0M477.8 324.1h0M474.4 305.7h0M479.2 319.2h0M466.7 330.8h0M472.2 295h0M476.1 323h0M468.7 306.1h0M466 283.2h0M467.5 308.2h0M477.4 331h0M473.6 298.6h0M478.4 322.6h0M474 328.9h0M471.7 332.5h0M464.5 304h0M479.7 333h0M479.5 318.4h0M468.7 321.1h0M465.4 332.1h0M476.5 314.5h0M466.2 314.6h0M474.6 299.7h0M430.8 328.3h0M479.1 316.7h0M473.3 321.9h0M471.5 319.1h0M471.8 296.5h0M471.3 304.2h0M479.5 318.7h0M474.4 330.3h0M463.2 331h0M472.2 301.8h0M470 322.7h0M471.8 295.9h0M475.3 312.4h0M474.9 315.4h0M477 317.5h0M475.6 306h0M475.1 329.9h0M478.3 317.3h0M461.4 331.3h0M466.1 319.4h0M433.4 300.5h0M481 332.4h0M478.2 323.1h0M466.9 318.2h0M468.2 327.9h0M479.5 323.6h0M474.9 309.3h0M475.5 310.7h0M472.5 304.5h0M477.3 312.9h0M468.5 297h0M440.7 330.3h0M475.9 332h0M452.8 323.9h0M469.1 271.9h0M473.9 332.7h0M475.1 321.1h0M473.5 311.5h0M467.7 317.4h0M480.8 326h0M473.4 329.9h0M475.6 306.5h0M474.3 312.3h0M474.4 313.9h0M475.3 326h0M472.9 324.8h0M479.9 330h0M469.9 333.4h0M474.1 329.3h0M452.8 294.2h0M477 310.6h0M468.1 326.5h0M473.7 325.3h0M454.7 295.4h0M470.4 307.1h0M470.8 317.1h0M464.8 326.2h0M477.6 325.6h0M473.9 319.4h0M474.4 330h0M479.5 325h0M475.4 305.4h0M475.9 324.2h0M477.1 318.6h0M468.9 315h0M461.3 307.2h0M473.8 329.3h0M471.2 325.8h0M471.6 323.7h0M472.5 318.5h0M468.2 319.4h0M480.4 322.1h0M474.8 326.7h0M472.7 305.8h0M467.8 324.7h0M471.9 326.1h0M475.4 321.8h0M468.1 330h0M469 278.6h0M467.9 330.6h0M475 315.9h0M469.6 310.5h0M475.9 330.3h0M468.5 333.4h0M467 318.9h0M480 332.4h0M472.8 320.8h0M481.1 329h0M465.9 332h0M466.4 308.8h0M448.6 324.2h0M480.6 330.3h0M473.6 326h0M476.2 320h0M476.1 328.6h0M473.1 302.1h0M467.6 299.2h0M477.3 310.2h0M476 331.5h0M459.1 321.2h0M467.1 330.5h0M459.4 307.6h0M468.5 318.3h0M474 319.4h0M469.3 331.6h0M478.7 321.5h0M466.6 301.2h0M478.9 331h0M470.2 319.2h0M478.8 316.8h0M447.1 329h0M465 322.4h0M470.2 319.8h0M478.3 319.6h0M474.2 331.2h0M473.7 325.6h0M471 298h0M469.5 319.6h0M475.8 328.2h0M474.4 306.1h0M478.9 326.7h0M471.3 306.7h0M465 329.9h0M475.9 323h0M477.5 315.1h0M471.5 316.1h0M473 308.9h0M476.1 316.6h0M459.8 311.9h0M473.7 322h0M476.7 327.1h0M477.6 322.1h0M474.5 314.9h0M472.4 323.7h0M464.8 321.5h0M477.9 333.5h0M472.6 289.2h0M472 314.2h0M472.6 310.6h0M439.1 319.2h0M475.2 325.3h0M481.5 332.6h0M475.1 310.4h0M473.7 331h0M472.6 311.1h0M455.9 288.5h0M467.7 305.8h0M479.6 328.5h0M473.5 320.4h0M472.8 324h0M475.9 311.9h0M469.7 321.9h0M463.9 313.4h0M459 325.1h0M469.7 329.6h0M460.6 320.7h0M475.6 316.9h0M475.1 306.3h0M467 309.3h0M474.7 323.2h0M472.2 324h0M460.1 326.3h0M471.8 316.2h0M459.6 277.2h0M479.2 333.3h0M479.4 333.1h0M477.4 307.7h0M469.1 333.4h0M469.4 268.2h0M470.5 329.5h0M470.9 310.3h0M474.8 306.9h0M474.2 327.1h0M482.2 333.5h0M471.4 294.9h0M470.8 310.4h0M471.5 310.1h0M464.9 332h0M472.9 319.9h0M473.6 310.8h0M465.7 321.1h0M469.8 321.8h0M481.4 329.3h0M472.3 304.7h0M477.3 317.9h0M467.5 283.8h0M465.9 330.2h0M470.9 302.1h0M479.8 325.5h0M475.3 318.2h0M469.7 305.5h0M471.4 291.9h0M469.7 325.5h0M475.4 309.8h0M462.8 321.6h0M464.7 329.7h0M470.9 329.3h0M466.6 298.2h0M475 325.8h0M477.1 324.1h0M467.6 314h0M477.5 321.5h0M482.3 332.2h0M473 301.7h0M474.1 325.2h0M467.1 307.6h0M462.4 299.6h0M479.9 332.3h0M466.3 302h0M460.4 326.9h0M472.7 310.7h0M462 293.3h0M476.7 324.3h0M466.2 302.5h0M463.7 320.2h0M475.5 311.6h0M471.5 318h0M471 320.1h0M471.6 306.4h0M477.6 317.4h0M449.1 330.7h0M474.9 328.8h0M473.9 320.2h0M470.1 301.1h0M473.4 331.6h0M454 292.4h0M463.8 325h0M463.4 302.3h0M473.3 320.4h0M461.4 316.5h0M474.1 315.6h0M476.3 304.7h0M466.3 323.1h0M478.2 331.4h0M468.8 298.2h0M478.1 333.1h0M473.5 304h0M476.8 322.8h0M470.8 329.4h0M473 314.6h0M468.8 331.4h0M478.7 327.1h0M476.9 333.3h0M473.1 332.3h0M481.1 327.1h0M477.6 314.8h0M468.9 317.5h0M477.6 313.8h0M473.3 289.5h0M459.8 312.8h0M479.2 320.7h0M478.1 324h0M481.8 330.6h0M470.5 332.6h0M469.3 324.2h0M470.3 314.7h0M477.2 314.7h0M467.7 332.8h0M468.5 319.3h0M482.5 333.2h0M474.4 319.6h0M458.1 329.9h0M462.5 314.3h0M476.2 312.9h0M472.2 281h0M482.1 331.1h0M478.8 319.8h0M471.5 305.7h0M469.8 292.4h0M467.1 322.7h0M458 312.8h0M482.3 332.6h0M469.7 309.2h0M474.3 305.2h0M467.5 331.5h0M472.2 326.6h0M475 330.2h0M472.3 324.1h0M469.1 315.2h0M459.3 287.8h0M458.1 289.9h0M451.3 291.4h0M458.5 305.6h0M476.2 310.5h0M479.5 325.9h0M461 305h0M471.9 288.6h0M472.2 309.6h0M466.1 278.3h0M464.8 319.5h0M464.3 289.7h0M463.9 294.5h0M476.7 324.5h0M478.1 322.2h0M461.4 308.1h0M476.5 305.3h0M462.9 284.6h0M468.9 324.6h0M467.7 278h0M469.7 317.8h0M463.1 288.7h0M469.7 326.9h0M480.9 328.3h0M475.4 317.9h0M472.4 314.4h0M479.9 325.3h0M471.8 311.5h0M466.2 310.5h0M471.4 297.8h0M480.3 330.4h0M464 329h0M467.8 310.4h0M470.5 318.5h0M461.4 331.3h0M473.4 299.1h0M473.2 294.2h0M465.7 323.3h0M468 311h0M473 300.5h0M462.7 326.8h0M474.2 322h0M467.9 329h0M477.8 320.5h0M470.5 325.7h0M473.1 295.1h0M476.7 327.8h0M478.8 324.7h0M477.6 309.5h0M466.7 291.9h0M470.4 285.6h0M471.1 329.2h0M473.8 319.3h0M470.7 330.6h0M468.7 297.3h0M463.1 311.3h0M478.9 327.2h0M471.1 331h0M470.6 324.7h0M466 324.1h0M473.4 323.3h0M467 307.5h0M468.4 319.1h0M475.3 311.3h0M460.6 281.1h0M474.8 318.1h0M457 318.9h0M468.5 311.9h0M478.4 329.1h0M472.3 297.1h0M473.8 328.6h0M477.2 323.6h0M464.1 286.8h0M460.6 322.3h0M478.7 333.1h0M468.5 327.2h0M478.5 332.8h0M474.3 311.7h0M473.7 321.8h0M470.9 287.6h0M472.8 330.3h0M458.8 331.8h0M469.4 284h0M472 333.5h0M474.2 324.5h0M463.1 303.7h0M471.2 317h0M471.5 326.6h0M469.4 322h0M479.9 327.8h0M482.1 332.4h0M467.6 327.6h0M471 333.2h0M465.8 296.3h0M473.6 306.4h0M475.8 320.4h0M460.9 310.4h0M471.6 298.3h0M481.2 327.2h0M462 275.9h0M473.4 313.2h0M480.9 329h0M479.2 331.9h0M476.9 323.8h0M472.5 329.1h0M472.2 317.4h0M477.4 318.3h0M472.2 328.5h0M460.9 308.8h0M471.6 320.3h0M480.6 329h0M466.2 291.7h0M479.8 323h0M455 315.3h0M476 321.5h0M458.1 329.6h0M461.9 306.5h0M461.6 328.2h0M477.6 325.3h0M470 329h0M454.7 314.8h0M473.7 300.8h0M475.1 308.8h0M477.3 312.8h0M473.8 324.2h0M464.5 302.3h0M471.7 313.2h0M470 298.5h0M469 305.1h0M475.6 325.8h0M470.8 298.4h0M477.8 315.9h0M472.6 317.8h0M474.5 322.5h0M482.1 332.9h0M476 328.7h0M473.6 325.1h0M473.4 300.6h0M461.9 305.5h0M476.2 331.5h0M451.5 325.8h0M466.6 322.4h0M477.2 321.9h0M471 298.3h0M474.2 304.8h0M468.3 315.6h0M476.2 317.5h0M456.7 326.6h0M479.3 324.7h0M454.6 259.9h0M471 313.3h0M468.6 325.4h0M479.8 330.9h0M474.1 318.3h0M480.3 323.4h0M471.6 329.8h0M473.7 331.6h0M449.3 262.1h0M472.6 322.8h0M478.1 322.5h0M466.6 317.9h0M473.1 295.4h0M476.7 330.1h0M472.1 321.6h0M452.2 329.1h0M461 331.6h0M473.7 328h0M475.2 321.5h0M475.3 319.3h0M472.2 316.1h0M476.8 312.5h0M476 303.8h0M449.1 315.9h0M470.4 307.6h0M472.5 333h0M481.3 330.1h0M471.1 290.6h0M480.4 324.7h0M468.5 326.3h0M465.2 330.9h0M479.7 332.5h0M479 330.7h0M481.3 329.7h0M482.1 330.6h0M469.3 302.1h0M477.7 332.5h0M471.7 327.8h0M471.4 307.6h0M471.1 307h0M478.5 324.5h0M470.4 301.8h0M471.6 310.8h0M467.9 312.5h0M475.1 319.6h0M470.8 327.4h0M463.1 315.2h0M470.9 321.4h0M474.5 312.9h0M466.3 296h0M434.4 315.8h0M473 308.5h0M474.4 305.8h0M479.2 332.3h0M472.5 322.4h0M477.4 332.2h0M476.4 327.8h0M470.7 333.4h0M469.1 290.8h0M480.2 325.9h0M472.8 302.5h0M455.1 298.4h0M482.6 333.3h0M477.9 317.1h0M471.7 303.3h0M469 294.1h0M469.9 296h0M465 327.8h0M478.2 315.4h0M469.9 284h0M477 319.5h0M468.6 316.5h0M476.7 318.8h0M477.7 327h0M481.8 331.3h0M470.7 320.9h0M469 313.8h0M479.5 319.4h0M472.5 330.4h0M470.6 312.8h0M466.2 322.4h0M460.3 293.1h0M474.8 325.6h0M478 316.5h0M479 323.4h0M479.9 322.5h0M474.6 303.9h0M467 289.1h0M448.1 331.8h0M476 315.2h0M473.5 323.2h0M464.4 323.7h0M475.3 308.9h0M476.5 321.4h0M478.7 323.7h0M470.7 331.1h0M462.7 332.7h0M472.8 325.3h0M480.7 333.4h0M456.2 319.6h0M469.1 310.2h0M467 313.2h0M471.6 294.5h0M436.3 294h0M440.1 330.7h0M478 316.3h0M471.4 323.5h0M464.7 309.5h0M470.8 310.5h0M473.1 320.6h0M472.5 297.7h0M476.5 310h0M473.3 298.8h0M466.9 326h0M475.6 333.2h0M475.1 312.6h0M473.5 323.1h0M461.3 329.5h0M469.9 330.5h0M468.9 325.9h0M471.1 326.5h0M449.8 328.6h0M461.6 320.2h0M468.8 302.9h0M471.5 323.1h0M475.2 320.1h0M468.4 324.5h0M479.6 323.4h0M468.7 324.6h0M476.7 321.5h0M467.9 324h0M468.1 320.6h0M443.6 260.5h0M472.3 318.7h0M474.4 325.2h0M473.8 306h0M473.9 318.9h0M476.8 329.2h0M463.1 306.8h0M471.4 308h0M479.8 324.2h0M474.9 313.9h0M471.7 300.6h0M479.9 333.1h0M472.6 321.1h0M465 320.9h0M479.6 319.3h0M478.1 311.9h0M476.1 316.8h0M474.7 300.8h0M481.6 328.8h0M466.8 306.3h0M474.6 332.7h0M481.7 330.7h0M474.5 328.6h0M479.4 323.1h0M457.4 298.4h0M472.3 313.5h0M463.1 326.9h0M468.9 331.4h0M478 315.8h0M470 284.5h0M481.2 326.6h0M437.9 329.4h0M477.7 316.2h0M465.5 295h0M467.3 328.9h0M469.7 320.4h0M464.2 310.3h0M436.7 272.9h0M467.3 319.4h0M467.2 301.9h0M474.2 315.5h0M468.5 328.3h0M474.7 331.7h0M477.8 316.6h0M479.2 315.6h0M471 314.5h0M464.8 272.8h0M464.3 292.9h0M473.3 328.1h0M471.5 331.8h0M468.8 294.8h0M475.6 302.3h0M477.9 332h0M460.2 268.5h0M479.4 327.4h0M463.5 313.1h0M477.8 321.2h0M435 301.7h0M476.3 329.7h0M465 311.5h0M474.4 325.6h0M459.8 332.2h0M473.8 299h0M471.5 331.8h0M478.6 327.4h0M464 312.6h0M455.6 320.6h0M464.5 304.4h0M479.8 327.3h0M469.1 333.4h0M457.8 326.1h0M470 324.5h0M480.4 329.2h0M476.6 319.4h0M475.5 309.4h0M456.5 320.5h0M467.6 277h0M459.6 276.3h0M464.2 297.4h0M470.6 294.6h0M478.8 321.9h0M462.8 308.3h0M474.4 325.9h0M476.8 325.1h0M471.9 300.2h0M474 322.4h0M474.5 317.6h0M471.6 315.2h0M474.4 304.4h0M474.2 317.5h0M473.3 310.2h0M472.6 326.1h0M473.4 318.3h0M469.7 279.4h0M464.4 316.5h0M480.4 331.9h0M475.9 303.7h0M468.5 301.8h0M457.6 312.6h0M461.7 313.2h0M477.3 328.6h0M474 303.3h0M468.9 332.2h0M479.3 316.4h0M478.8 333.2h0M472.5 313.6h0M475.9 321.4h0M478.9 320.6h0M470.5 287.8h0M476.9 323.1h0M456.9 327h0M481 333.5h0M466.4 330.9h0M463.7 315.3h0M468.4 305.2h0M473.7 315.5h0M470.7 323.1h0M472.4 326.6h0M467.8 282.5h0M475.9 332.3h0M474.1 309.3h0M436.3 306.1h0M453.1 329.9h0M479.2 318.2h0M480.7 329.8h0M445.4 333.3h0M470.2 305.1h0M481.3 326.6h0M472.2 300.2h0M468.2 323.2h0M459.6 270.3h0M468.6 315.7h0M479.3 317.9h0M471.1 302.2h0M475.6 307.9h0M458.3 308.3h0M437 322.5h0M474.1 324.7h0M471.4 309.9h0M475.5 323.5h0M474.1 296.3h0M468.4 330.9h0M471.5 319.5h0M474.2 328.8h0M463.6 267h0M477.7 326.8h0M472.3 316.2h0M469.6 290h0M462.9 300.6h0M468.5 326.2h0M467.8 309.6h0M472.6 311.1h0M477.4 321.2h0M467.4 326.5h0M475.8 313.3h0M475.2 328.8h0M471.3 303.3h0M476.2 322.3h0M482.3 333.1h0M477.8 314.7h0M474.1 314.6h0M473.3 310.7h0M477.3 318.7h0M475.6 327.9h0M467.4 315.1h0M469.5 327.2h0M433.4 321.6h0M475.5 315.7h0M474.2 308h0M476.6 305.1h0M455.6 316.8h0M456.5 315.3h0M467.8 297.7h0M473.6 301.6h0M431.1 314.6h0M458.2 325.2h0M478.7 324.9h0M469 285.4h0M478.3 325.7h0M479.5 324.6h0M478.9 321.2h0M477.5 328.2h0M467.6 315.1h0M471.4 321.1h0M477.2 323.6h0M477.4 332.8h0M471.8 315.9h0M473.7 324.7h0M478.2 316.4h0M476.7 319.6h0M472 310h0M477.1 310.1h0M476.4 313.4h0M470 311.5h0M475.7 306.4h0M472.9 299.9h0M462 306.7h0M476.1 314.3h0M472.8 327h0M475.8 324.6h0M470.9 327.2h0M460.3 325.4h0M472.9 309.5h0M478.6 325.6h0M481.9 333h0M473.6 309.7h0M472.9 325h0M460.8 320.1h0M469.7 301.4h0M453.4 283.2h0M475.1 330h0M468.2 312.1h0M476.5 317.2h0M467.7 321.4h0M458.1 302.8h0M469.5 313.1h0M473.1 307.2h0M482.1 331.8h0M467.8 314.7h0M470.7 328.8h0M475.3 333.3h0M474.5 319.7h0M472.1 333.1h0M470.8 294.4h0M475.2 304.3h0M472.2 303.9h0M469.8 295.9h0M471 323.3h0M475.3 303.9h0M461 319.6h0M464.1 325.6h0M467.5 331h0M465 333.3h0M464.9 313.5h0M466.5 299h0M466.8 277.2h0M472.5 305.9h0M474.8 297.4h0M476.5 321.2h0M474.7 311.6h0M469.3 313.2h0M475.6 308.8h0M471.7 313.3h0M473 292.8h0M465.2 315.5h0M469.3 329.4h0M472.8 331.9h0M473.1 324.7h0M477.4 321.9h0M446.5 294.9h0M469.9 311.5h0M438.9 314.6h0M451.3 323.8h0M465.4 328h0M477.3 327.4h0M470.6 327.2h0M479.6 323h0M480.6 324.9h0M448 314.8h0M465.9 305.9h0M465.1 285.3h0M474.2 310.8h0M478.4 317.9h0M461.4 325.3h0M476 303.2h0M455.7 269.1h0M464 314.4h0M477.4 331.2h0M472.9 328.3h0M474.7 310.9h0M472.6 332.4h0M476.2 318.4h0M436.1 328.9h0M470.8 322.4h0M473.6 306.6h0M477 322.5h0M481.9 332.5h0M460 265.8h0M476.4 301.8h0M472.4 320.2h0M471.2 315.4h0M468.8 291.8h0M470.3 320.4h0M474.6 320.2h0M473.3 288.6h0M470.7 311.9h0M471.9 295.2h0M475.6 333.3h0M465.4 322.8h0M461.3 278.8h0M473.3 314.8h0M471.4 328.6h0M451.2 315.6h0M473.7 304.4h0M475.2 301.5h0M474.2 333h0M469.8 312.4h0M472.4 311.2h0M478.8 320.5h0M476.5 316.4h0M465.3 291.5h0M480.5 323.4h0M477 315.4h0M478 321.1h0M469.9 310.3h0M477.3 313.5h0M477.3 318.8h0M475.6 315.3h0M468.6 321.1h0M476.5 309.9h0M470.8 308h0M476.2 307.5h0M455.8 291.4h0M479.9 322.7h0M471.7 329.9h0M468.1 315.9h0M467.4 268.5h0M480.5 324.3h0M479.3 328.3h0M477.6 323.3h0M481.1 331.7h0M469.5 328.3h0M465.7 269.5h0M479.3 322.7h0M477.8 312.2h0M466.3 306.3h0M476 309.1h0M466.2 312.4h0M475.9 326.5h0M463.4 304.7h0M478.9 317.7h0M477.3 311.6h0M472.2 327.1h0M465 318.6h0M464.7 308h0M473.2 327.8h0M445.5 327.8h0M475.8 314.2h0M464.9 288.4h0M475 322.3h0M476.6 308.5h0M473.6 305.8h0M476.6 332.7h0M474.3 300h0M466 332.8h0M460.8 331.1h0M471.2 293.2h0M472.4 329.6h0M458.9 326.1h0M476.4 308.9h0M477.2 313.6h0M478.1 319.4h0M475.5 300h0M455 332.9h0M458.9 307.3h0M472.9 306.4h0M457 280.1h0M472 304.6h0M470.7 311.7h0M476.3 330.8h0M472.8 305.7h0M472.3 327.6h0M479.2 317.9h0M472.1 325.2h0M476 313.6h0M469.3 300.7h0M471.4 324.1h0M478.6 327.9h0M478.6 331h0M475.8 325.4h0M466.2 304.7h0M480 322.7h0M468.3 328.5h0M469.8 316.6h0M469.7 314.8h0M445.5 328.3h0M466.3 333.3h0M476 318.8h0M437.7 284.8h0M480.3 333.4h0M479.3 324.5h0M476.5 330.5h0M475.9 322.7h0M453 332.3h0M470.3 331.8h0M479.8 327.7h0M481.1 326.1h0M473.1 321h0M473.7 333h0M471.1 317.3h0M440.1 323.2h0M474.8 320.9h0M469.1 289.8h0M479.7 333.1h0M472.3 315.9h0M470.2 316.8h0M469.7 293.8h0M482.1 331.1h0M476.5 329.4h0M465.4 317.2h0M471.6 322.5h0M458.3 326h0M470.4 321.3h0M475.8 327.5h0M470.9 306.9h0M470.7 313.4h0M470.3 323.4h0M473.1 321.7h0M463.6 321.9h0M461.8 328.9h0M476.5 317.6h0M467.7 296.6h0M475 297.4h0M475.1 313.6h0M454.1 273.1h0M460.1 292.8h0M465.9 331h0M460.2 310.1h0M479.9 333.2h0"/>
<path class="pts" stroke="#ffb6c1" stroke-width="1.45" opacity="1.0" d="M497.6 314.2h0M495.1 320.1h0M503.8 298h0M491 333.4h0M501.4 273.3h0M503.2 303.6h0M495.8 314.3h0M498.9 324.5h0M504.4 310h0M495.7 307.3h0M512.4 314.3h0M501.1 306.3h0M502.5 297.5h0M503.6 327.8h0M503.5 305.6h0M495.3 323.5h0M509.6 305h0M499.9 332h0M502.6 328.7h0M499.4 331h0M494.2 313.2h0M501.1 275.8h0M493.5 319.8h0M531.6 186.3h0M497.8 306.7h0M492.8 315.4h0M503.1 312.7h0M509.6 306.1h0M508.4 247.8h0M524.9 228h0M495.4 308.2h0M520.4 329.5h0M503.9 309.8h0M498.6 330.3h0M500.4 328.4h0M507.1 312.5h0M505.5 317.6h0M504.8 296.8h0M502.6 294h0M502.1 326.2h0M499.1 331.1h0M495.8 318.1h0M499.6 289.9h0M508.5 264.2h0M501.4 317.2h0M500.3 327.1h0M496 320.2h0M507 276.8h0M496.4 326.2h0M505.1 275.8h0M502.4 330.5h0M509 321.1h0M503.7 309.9h0M501.4 290.3h0M505.7 329.2h0M493.7 323.9h0M501.1 303.9h0M517.4 292.9h0M512.6 289.2h0M503 277.7h0M499 311.9h0M514.6 199.5h0M496.8 308.9h0M507.3 309.6h0M497.4 283.3h0M501 299.6h0M501.3 282h0M496.2 317.3h0M505.5 322.4h0M499.9 322.8h0M496.4 324.3h0M498.4 331.1h0M501.5 292.1h0M521.8 225.8h0M503.3 300.9h0M493.1 316.2h0M502.1 326.3h0M513.5 232.4h0M498.3 321.4h0M506.6 277.6h0M507.8 295.3h0M512 281.7h0M500 268.5h0M505.7 257.4h0M494.3 321.1h0M569 285.3h0M491.5 323.4h0M497.7 289.4h0M504.2 286h0M495.5 322.1h0M496.2 305h0M500.4 295.1h0M498.1 289.5h0M512.9 318.8h0M499.4 291.1h0M511.5 325.4h0M505.5 305.3h0M497.8 329h0M500.1 312.2h0M502.1 314.1h0M500.7 286h0M491.8 324h0M502.1 324h0M496.9 332.1h0M494.4 330.7h0M506.8 315.2h0M501.9 312.7h0M511.2 258.3h0M502 320.1h0M504.4 309.4h0M497.2 315.6h0M497.7 282.2h0M507.4 321.7h0M502.4 305.4h0M496.6 304.1h0M529.4 330h0M530.8 289.3h0M496.4 320.8h0M502.9 305.3h0M503.2 320.2h0M510.5 295.3h0M494.9 316.5h0M496.6 299.6h0M512.2 300.9h0M500.6 316.2h0M513.9 262.3h0M497.5 311.8h0M498.9 323.1h0M500.4 294.6h0M502.1 314.5h0M491.8 330.9h0M498.4 295h0M497.3 322.1h0M501.8 321h0M493 321h0M501.2 330.9h0M498.2 328.6h0M494.7 305.7h0M493.9 320.7h0M500.3 278.4h0M501 279.3h0M499.2 299.9h0M505.6 268.9h0M498.1 314.5h0M498.2 315.2h0M508.6 307.6h0M499.3 293.2h0M490.8 328.1h0M501.7 286.2h0M494.2 330.4h0M494.1 327.5h0M501.3 298.4h0M497.5 309.4h0M492.5 318.2h0M498.2 297.8h0M499.4 315.1h0M503.3 321.8h0M499.1 329.9h0M501.3 313.9h0M492.1 329.6h0M504.2 330.1h0M495.4 333.2h0M500.7 320.6h0M502.5 270.1h0M503.9 328.8h0M502.1 320.9h0M508.1 298.8h0M492.5 333.1h0M503.3 312.2h0M513.3 274.5h0M498.2 317.3h0M513.3 299.5h0M499 327.7h0M505.5 278h0M499.7 306.2h0M495.7 330h0M502.8 330.6h0M499.1 328.6h0M499.9 313.2h0M509.2 224.4h0M523.2 276.2h0M506.3 331.2h0M497.8 318.9h0M500.2 293.6h0M529.1 266.6h0M504.1 315.5h0M493.5 313.5h0M498.5 326.4h0M508 281.1h0M495 313.9h0M502.6 318.6h0M500.4 315.4h0M521.3 306.3h0M493.4 317.1h0M500.6 283.1h0M500.7 332.4h0M502.6 329.8h0M499.1 320.7h0M499.7 304.4h0M500.3 318.1h0M495.9 318.7h0M504.5 271h0M498.4 316.6h0M502.6 327.7h0M507.6 258.4h0M503.1 315.9h0M497.1 313.5h0M494.1 309.9h0M496 328.7h0M494.7 317.6h0M503.6 325.1h0M509.3 324.9h0M497 331.7h0M500.1 317.8h0M493.4 317.9h0M498.8 321.3h0M505.9 301.4h0M498.3 288.1h0M505.7 291.6h0M495.4 318.4h0M510.2 324.7h0M491.8 321.9h0M493.1 330.6h0M495.4 298.9h0M504.8 307.2h0M499.1 313.5h0M498 296.7h0M499.4 332.8h0M509.8 290.2h0M496.1 333.3h0M520.2 287.2h0M493.2 319.3h0M492 327.7h0M496.9 321.6h0M497.5 294.6h0M494.6 315.5h0M496.6 302.8h0M493.9 311.8h0M495.6 325.3h0M496.9 300.6h0M502.7 317.8h0M507.3 288.5h0M504 333.3h0M506.5 319.7h0M501.4 293.2h0M497.1 301.2h0M494.6 324.8h0M503.8 309.5h0M500.3 330.1h0M510.3 325.9h0M503.9 263.1h0M499 329.5h0M495.9 312.2h0M493.5 321.3h0M497.2 330.2h0M508.6 321.8h0M497.9 300.1h0M507.1 315.7h0M494.3 325.3h0M496.7 321.9h0M496.1 326.8h0M504.4 332.7h0M499 278.9h0M500.9 322.1h0M501.8 296.7h0M495.6 329.5h0M498.3 309.2h0M503.7 308.6h0M505.5 283.6h0M493.4 320.9h0M507.5 301.1h0M490.9 326.5h0M504.9 260.1h0M524.9 286.3h0M503 319.6h0M497.1 310.4h0M501.5 319.2h0M496.7 312h0M500.6 324.6h0M494 319.1h0M500.7 306.6h0M497.9 316.9h0M522 249.8h0M498.6 326.2h0M499 279.2h0M493.8 321.5h0M515.6 309.7h0M510.8 246.5h0M494.5 316.2h0M502.7 326.5h0M501 311.8h0M491.7 327.8h0M499 298.8h0M495 331h0M514.4 275.1h0M510 222.7h0M500.2 270.5h0M503.5 281.1h0M496.8 317.5h0M499.2 296.5h0M500.6 329h0M502.2 325.5h0M502.8 320.1h0M496.4 326.2h0M529.9 321.1h0M497.1 317.2h0M497.4 299.3h0M499.8 281.7h0M513.1 274.5h0M501.4 302.2h0M493.9 331h0M499 318.2h0M502.6 301.2h0M499.8 284.3h0M500.1 303.7h0M502.8 311.6h0M516.9 223.4h0M507.7 303.3h0M494.4 315.6h0M505.9 315h0M493.9 315.8h0M499.4 279.2h0M494.5 307.3h0M512.3 286.1h0M492 319.8h0M495.8 315.4h0M495.5 300.9h0M503 291h0M506.5 271.3h0M518.6 248.8h0M496.7 324.6h0M493 321h0M506.2 261.9h0M501 304.9h0M499.4 302.1h0M494.2 319.7h0M502.6 320h0M500.1 325.3h0M500.9 325.6h0M497.8 332.9h0M507.4 283.4h0M494.9 308.7h0M506.9 294.9h0M491.5 328.4h0M497.4 325.5h0M496.2 318.8h0M495.6 330.8h0M501.3 297.8h0M496.6 299.7h0M499.6 321.3h0M511.5 284.5h0M531.7 297.3h0M503.9 307.9h0M507 286.9h0M506.8 291.6h0M496.6 298.5h0M500.2 300h0M501.3 304.9h0M494.3 328.7h0M499.3 296.5h0M519.3 248.3h0M507.5 316.7h0M514.1 259.9h0M497.1 303.2h0M497.3 332.7h0M519.7 323.9h0M496.5 300.7h0M505.8 298.5h0M507.2 301.5h0M500.7 270.6h0M512.7 287.1h0M505.5 307.7h0M501.4 308.6h0M492.2 326.8h0M495.6 314h0M505.3 236.9h0M494.2 327.4h0M495.5 306.7h0M502 327.4h0M497.7 327h0M490.9 327.2h0M492.3 327.3h0M490.9 332.7h0M498.6 321.8h0M504.5 301.3h0M509.4 235.2h0M498.3 320.2h0M498.7 301.1h0M497.9 315.6h0M501.1 330.2h0M501.4 327.7h0M498.7 284.7h0M531.1 313.9h0M500.9 286.5h0M501 309h0M495.4 320.2h0M498.9 286.5h0M498.4 316.7h0M495.3 322.8h0M501.3 297.2h0M517.6 278.2h0M505.1 312.2h0M493.6 316.3h0M498.4 332.4h0M499.7 298.6h0M562.6 278.3h0M501.6 318.6h0M501.4 320.9h0M494.1 319.8h0M497.4 317.2h0M500.2 323h0M492.9 325.1h0M502.9 315.2h0M502.7 311.5h0M502.7 307.2h0M501 323.2h0M502 331.1h0M493.8 324h0M492.9 314.7h0M499.1 330.1h0M535.8 325.4h0M508.3 260.1h0M489.7 332.8h0M499 299.5h0M508.2 330.4h0M495.8 303.3h0M507.6 238h0M495.3 324.8h0M491.2 327.4h0M501.4 314.5h0M493.7 323.1h0M499.6 308.6h0M501.7 314.6h0M498.9 303.3h0M499.1 307.3h0M509.5 318.1h0M500.7 324.7h0M501.7 309.3h0M490.2 333.1h0M504.3 314.3h0M503.8 317.1h0M519.1 256.7h0M492.8 321.5h0M507 298.7h0M499.5 295.6h0M507.7 329.9h0M500 333.4h0M501.6 319.6h0M498.8 312.6h0M499.5 298.2h0M491.3 326.5h0M498.1 326.5h0M494.7 308.5h0M512.4 311.6h0M496.9 317.4h0M496.2 320.9h0M501.3 327.8h0M498.2 324.2h0M500.1 318.6h0M516.9 281.5h0M504.2 331.5h0M491.7 323.9h0M512 280.5h0M534.5 193.8h0M499 329.6h0M494.7 330.1h0M501.8 321.3h0M498.3 314.2h0M495.4 321.6h0M492.7 330.9h0M512.7 327.4h0M507.5 331.6h0M501.3 306.4h0M502 321.7h0M515.3 229.5h0M504.3 325.3h0M493.1 312.9h0M503.4 308.9h0M501.9 290.9h0M503.5 330.9h0M497.7 307.1h0M503.8 329.6h0M501 271.3h0M497.2 312.3h0M490.7 333.1h0M498.9 293.2h0M500.6 310.9h0M520.2 319.2h0M500.7 329.9h0M509.8 318.9h0M501.1 326.9h0M500.8 315h0M500 311.7h0M500.3 285.8h0M500.2 314.7h0M496.8 322.3h0M500 310.7h0M510.3 274.5h0M498.3 319.3h0M499.2 318.7h0M499.8 314.3h0M510.1 275.3h0M536.4 325.3h0M499.4 325.7h0M501.6 330.3h0M502.8 332.7h0M501.3 323.1h0M498.4 294.4h0M495.5 313.3h0M494.5 331.4h0M507.4 298.4h0M499 309.2h0M499.7 323.5h0M491.8 319.3h0M495.2 329.5h0M491.3 332.6h0M500.8 305.4h0M528.9 318.8h0M493.4 310.1h0M512.6 243.2h0M490.2 329.9h0M506.4 271.3h0M499.1 321.3h0M499 315.8h0M494.2 307.8h0M494.4 301.9h0M498.4 299.1h0M503.4 320.9h0M494.6 313.2h0M496.6 291.5h0M493.9 329.7h0M495.6 308.1h0M507.2 253.5h0M498.3 302.3h0M500.7 279.2h0M499 298.6h0M508.8 314h0M505.3 323.7h0M505 287.3h0M506 283.3h0M512.6 322.8h0M502 308h0M498.6 283.6h0M503.7 293.2h0M493.6 332.6h0M496.7 289.6h0M493.4 316.5h0M498.2 323.3h0M502 303.5h0M497.4 319.8h0M501.3 310.4h0M493.5 331.7h0M495.4 308h0M500.2 319.7h0M498.4 316.8h0M515.6 299.6h0M507.6 320.4h0M506.8 308.6h0M494 328.9h0M502.3 255.7h0M494.3 306.3h0M501.3 307.4h0M496.9 313.4h0M565.7 279.6h0M501.4 323.7h0M513.1 314.7h0M518.6 273.2h0M504.8 304.6h0M508.3 308.4h0M492.6 318.6h0M494.2 314.3h0M506.3 275.4h0M493.2 333.2h0M503.2 305h0M501.6 304.2h0M519.6 306h0M501.6 301.7h0M492.3 333.5h0M512.7 293.7h0M500.3 290.1h0M519.1 305.3h0M493.3 313.3h0M498.5 320.6h0M505.4 312.3h0M519.7 179.9h0M495.6 332.6h0M501.9 309.4h0M505.7 325.7h0M520.1 261.9h0M491.4 326.7h0M501.3 303.8h0M508.5 320.5h0M495.7 323.5h0M504.2 316.6h0M525.7 311.3h0M503.2 300.3h0M493.6 324.8h0M500.4 282.8h0M509.2 240.9h0M503.9 299.5h0M494.2 317h0M509.3 303.8h0M501.7 321.3h0M502 283.4h0M495.3 319.3h0M492.5 332.6h0M503.3 317.4h0M493.6 330h0M490.9 327h0M505 314.8h0M498.6 333.2h0M508.6 307.5h0M516.9 284.4h0M530.5 333.2h0M510.6 309.2h0M498.1 304.8h0M502.5 312.1h0M513.6 332.5h0M495.9 294.1h0M499.5 312.3h0M505 288.8h0M496.2 315.7h0M494.8 305.2h0M497.9 297.9h0M491.4 331.1h0M494.4 304.1h0M499.6 326.2h0M503.2 301.5h0M491.7 326.5h0M498.4 317.7h0M505.5 295.3h0M495 305.6h0M495.7 305.9h0M497 305.1h0M497.8 320.4h0M510.2 304.2h0M496.1 318.9h0M501 331.4h0M494.2 318.2h0M512.5 328.7h0M493 313.3h0M492.2 321.4h0M531.7 193.4h0M498 291.5h0M493.2 318.8h0M497.1 328.6h0M510.4 281.2h0M509.4 289.2h0M490.8 332.9h0M493 333h0M497.3 319.6h0M495.3 316.3h0M502.3 317.6h0M499.6 292.7h0M513 249.6h0M507.1 327.7h0M510.9 323.1h0M512.7 286.3h0M498.2 314.9h0M490.2 331h0M501.1 286.4h0M506 263.8h0M503.3 280.3h0M503 310.2h0M497.5 283.7h0M497.5 326.7h0M503.2 301h0M500.7 290.2h0M498 322.8h0M501.9 324.9h0M496 301.5h0M503.4 281.8h0M492.8 328.8h0M499.2 319.2h0M499.7 284.6h0M495.9 329.2h0M497.2 307.5h0M499.8 319.5h0M498 325.8h0M508.6 275.3h0M496.7 317.5h0M498.5 330.3h0M494.5 332.8h0M492.3 333h0M513 317.2h0M499.5 305.2h0M506.2 266.9h0M494 324h0M509.1 225.8h0M491.9 326.4h0M491.8 327.5h0M498.8 305.1h0M500.2 275.8h0M502.7 321.1h0M497.2 330.7h0M495.1 328.6h0M517 319.5h0M514.5 295.2h0M503.9 319.8h0M510.6 311h0M507.2 261.9h0M491.4 324.7h0M496.1 313.7h0M498.8 307.8h0M505.6 313.4h0M509.8 261.2h0M496.9 324.3h0M497.7 330.5h0M502.1 305.6h0M503.2 265.8h0M505.6 303.9h0M497.9 323.3h0M498 325.6h0M513 328.2h0M501.1 305.7h0M502.8 307h0M503.7 322.5h0M512.2 253.2h0M510.4 304.9h0M492.5 323.7h0M510 310.6h0M497 302.2h0M496.3 327.5h0M500.5 281.7h0M496.6 331.7h0M503.6 298.7h0M502.2 270.4h0M499 307.9h0M504.9 268.3h0M497.4 328.7h0M501.8 329.9h0M491.3 327.3h0M511 311.7h0M503.1 332.4h0M500.4 330.3h0M497.8 318.7h0M498.4 284.3h0M505.1 289.7h0M499.2 328.9h0M516.5 329.4h0M496.5 295.2h0M534.1 332.4h0M494.3 312.1h0M518.6 298.6h0M507.2 326.4h0M523.5 234.6h0M503.2 315.1h0M503.9 292.5h0M493.8 322.7h0M490.4 330.8h0M511.8 290.3h0M498.3 306.8h0M497.2 312.3h0M494.7 319.2h0M495.5 329.8h0M527.8 263.4h0M499.2 274.9h0M495.4 321.2h0M518.3 305.4h0M497.8 313.8h0M495.3 324.5h0M526.6 329.8h0M518.4 306.7h0M503 302.9h0M504.4 332.7h0M496.2 333.3h0M496.7 332.8h0M494.3 311.8h0M491.3 328h0M497.3 331.6h0M528.3 279.4h0M496.4 332.7h0M503.8 303.1h0M499.8 332.6h0M498.3 330.7h0M600.5 175.3h0M503.1 329.3h0M509.2 307.9h0M493.5 308.9h0M502.1 302.3h0M497.1 329.4h0M505.4 326.8h0M534.9 284.6h0M506.6 325.2h0M503.4 282.3h0M493 314.4h0M511.4 288.4h0M501 281.6h0M501 321.4h0M497.6 306.6h0M501.5 298.9h0M512 310.5h0M507.2 321.8h0M500 299.7h0M491.8 328h0M508.9 316.8h0M498.5 306.5h0M507.5 293.2h0M512.2 311.3h0M509.9 329.6h0M491.5 326.4h0M495.1 326.5h0M515.9 313.4h0M495.3 300h0M526.9 214.9h0M494.2 330.9h0M495.8 301.9h0M507 248.6h0M530.3 314.7h0M514.2 253.3h0M492.6 317.4h0M506.5 304h0M499 323.6h0M502.3 314.6h0M495.7 333.4h0M505.9 272.6h0M493.4 329.2h0M502.4 333h0M496.2 315h0M495.6 306.9h0M499 317.2h0M495.1 315.4h0M504.5 279.4h0M513.4 290.7h0M495.2 325h0M498.6 328.9h0M499.7 300.8h0M498.2 320.8h0M507.3 308.7h0M501.5 332.6h0M496.3 315.1h0M502.9 308.8h0M499.4 327.2h0M493.3 331.8h0M497.8 331h0M490.9 331.2h0M496.1 314.4h0M496.6 322.3h0M533.2 288.1h0M507.2 318.3h0M504.1 308.7h0M529.3 293.3h0M492.1 324.6h0M500.8 286.3h0M498.9 295.3h0M497.3 295.8h0M505.5 272.5h0M509.5 308.9h0M497.6 290.7h0M499.1 313.9h0M502.7 312.9h0M495.6 312.1h0M495.5 302.8h0M494.6 306.5h0M505.7 287.1h0M500.2 308.2h0M501.8 325.7h0M499.3 317.7h0M502.5 298.3h0M500.3 300.2h0M514 280.8h0M502.4 328.5h0M521.4 282.2h0M496.4 309.8h0M501.7 317.3h0M498 296.2h0M497.8 284.6h0M492.3 330.6h0M513.5 247.5h0M507.2 327.4h0M501.6 291.6h0M491.3 329h0M499.9 293.4h0M489.8 333.3h0M559.2 297.8h0M504.8 319.4h0M502.8 295.8h0M500.5 312.1h0M497 327.4h0M514.7 293.6h0M496.4 306.2h0M493.7 329.8h0M529.9 303.9h0M509.1 319.8h0M516 313.3h0M507.5 307.7h0M520.2 295.1h0M503.8 310.6h0M506.4 310h0M502.4 332.4h0M500.3 311.8h0M516.3 316.5h0M505.1 313.5h0M505.2 276.1h0M498.9 318h0M502 295.4h0M514.7 299.2h0M497 303.4h0M491.7 325.4h0M510.4 329.3h0M500.9 292.2h0M505.3 311.3h0M504.1 311.7h0M501.7 264.9h0M494.1 323h0M496.6 327.9h0M508.4 285.4h0M492 320.3h0M506.8 294.6h0M506.6 296.7h0M499.7 311.5h0M501.1 289.9h0M491.4 331.8h0M491.2 332.7h0M507.8 315.6h0M503.4 315.7h0M501.4 306.5h0M511.9 263h0M498.2 299h0M504.1 290.1h0M495.7 322.8h0M493 315.3h0M497.3 288.3h0M504.4 327.1h0M501.2 323.4h0M495.1 315.8h0M501 310.2h0M515.6 234.3h0M520.4 264.7h0M508.4 321.1h0M504.7 315.2h0M510.5 329.8h0M507.8 305.7h0M509 315.9h0M507.8 314.6h0M500.5 309.1h0M494.1 333.1h0M490.4 331.7h0M496.1 328.6h0M495.9 327.5h0M497.4 333.3h0M504.2 332.5h0M502.1 281.7h0M499.2 316.1h0M501.2 299.1h0M496.6 327.2h0M494.9 322.6h0M502.7 296.1h0M505.6 329h0M533.8 268.6h0M493.6 313.9h0M502.2 286.5h0M504.7 303.2h0M536.6 179.2h0M496.7 310.5h0M495.4 319.4h0M498.4 283.9h0M499.5 325.8h0M500.5 324.6h0M508.8 295.9h0M503.8 316.2h0M499.7 308.4h0M495.5 297.4h0M500.9 311.8h0M506.2 281.7h0M505.2 295.3h0M505.5 327.1h0M502.8 263.6h0M500.1 323.8h0M496.4 307.5h0M499.3 327.6h0M506.8 282.5h0M519.9 292.6h0M509.3 281.4h0M494.1 332h0M495.4 332.3h0M494.2 312.5h0M499.3 320h0M508.2 324.3h0M517.2 286.8h0M501.2 267.9h0M507 319.4h0M502.6 322.6h0M502.5 312.9h0M491.9 333.3h0M506.1 330.6h0M506.1 313.3h0M499.9 290.9h0M509.8 320.7h0M515.6 273.9h0M503.6 331.8h0M506.5 322.9h0M500 332.5h0M514.4 296.9h0M502.5 263.8h0M531.8 325.4h0M493.1 314.9h0M499.5 307.7h0M498.1 316.8h0M519.3 316.9h0M499.5 316.8h0M494.4 310.2h0M497.8 330.4h0M500.9 323h0M502.5 303h0M495.5 325.3h0M498.4 328.4h0M530 309.3h0M502 325.9h0M528.4 213.4h0M494.5 308.3h0M496.6 321.2h0M492.1 331.7h0M503.2 299.6h0M513.1 245.2h0M506.1 315.7h0M513.3 322.8h0M518.3 293.8h0M516.6 249.6h0M508.6 263.3h0M493.4 317.2h0M499.3 302.8h0M502.3 310.7h0M524.3 293.4h0M492.2 333.4h0M503.6 319.2h0M498.3 318.4h0M529.8 176.3h0M534.1 247h0M499.8 327.6h0M501.2 319.4h0M499.2 311.3h0M498.8 288.9h0M501.3 332.2h0M499.7 326.7h0M491.4 329.4h0M500.7 275.5h0M492.7 326.5h0M497.6 312.1h0M516.6 234.4h0M496.5 331.8h0M501.4 289.2h0M523.1 299h0M496.3 315.4h0M520 330.5h0M507.6 310.5h0M502.7 322.6h0M503 299.1h0M505.5 331.3h0M494.3 329.8h0M503.1 324h0M500.2 304.3h0M497.6 292.1h0M501.7 311.1h0M509.1 300.1h0M504.4 330h0M515 266.9h0M505.3 281.5h0M499.4 314.9h0M509.6 310.5h0M500.8 325.1h0M506.4 312.5h0M498.2 300.1h0M507.9 323.7h0M508.1 325.3h0M498.1 320h0M503.9 315.8h0M499.3 282.4h0M510.7 315.1h0M517 328.4h0M504.9 256.8h0M498.6 294.1h0M506.5 280.3h0M502.8 330.5h0M500.3 301.2h0M510.4 251.4h0M496.2 309.4h0M495.5 313.7h0M497.3 285.1h0M513.5 315.4h0M494.2 333.2h0M498.5 315.6h0M521.1 288.4h0M493.1 317.5h0M504.3 313.9h0M531.9 180.8h0M510 280.6h0M501.5 312.5h0M497.9 294.1h0M497.7 298.6h0M498.9 298.1h0M504.4 320.7h0M511.7 315.9h0M521 324.8h0M498.1 314.5h0M495.8 303.4h0M512.8 308.9h0M499.2 324.5h0M498.5 290.4h0M501.1 294.4h0M509.1 271.8h0M507.6 272.2h0M502.2 322h0M493.9 329h0M509.8 265.1h0M504.5 303.9h0M498.2 317.7h0M502.6 289.8h0M504.2 291.3h0M494.9 322.5h0M490.9 330.8h0M505.5 328.8h0M498.6 277.9h0M516 329.8h0M492.5 315h0M511.1 315.9h0M497.2 295.5h0M504.4 283.8h0M498.4 325.4h0M498.8 329.1h0M511.1 323.9h0M493.1 326.3h0M503.2 325.1h0M496 315.4h0M494 307.8h0M506.1 274.3h0M496 318.2h0M495.9 310h0M500.6 289.2h0M507 314.4h0M497.6 324h0M502.6 324.8h0M511.1 243.8h0M509 237.8h0M510.8 232.8h0M503.1 282.3h0M491.3 332.3h0M502.2 321.4h0M495.5 299.9h0M498.1 329.5h0M497.2 305h0M497.9 321.1h0M509.2 238.6h0M494.1 315.6h0M501.6 293.1h0M492.6 329.9h0M499.4 333.1h0M493.3 327h0M496.4 316.6h0M499 306.1h0M500.4 293.5h0M496.2 302.9h0M516.2 292.7h0M494.2 310.5h0M509.9 303.9h0M500 313.2h0M494.8 327.3h0M495.3 314.9h0M498.3 317h0M497.5 286.4h0M495.3 309h0M503.1 302.4h0M512.7 328.7h0M505.5 326h0M519.3 190h0M492 332.2h0M499.3 284.1h0M498.1 292.2h0M505.6 299.9h0M498.7 322.7h0M508.8 301.1h0M514.6 238.6h0M509.2 331.6h0M497.3 330.8h0M506 265.6h0M500.3 316.6h0M504.5 274.1h0M495.9 317.5h0M496.9 296.5h0M499.7 310.5h0M495.3 303.3h0M512.9 278.4h0M497.6 303.2h0M491.3 332.2h0M498.4 311.6h0M497.6 324.7h0M499.1 304.1h0M491.8 331.5h0M507 278.1h0M492.2 326.4h0M498.8 324.4h0M503.5 313.2h0M497.6 290.4h0M500.7 288.7h0M496.6 317.2h0M499 331.7h0M504.8 287.3h0M493.6 325.6h0M497.2 310.8h0M499.6 287.8h0M498.8 320.7h0M514.5 282.2h0M493.6 324.4h0M508.1 286.6h0M498.9 322.5h0M500.1 319.9h0M491.8 322.8h0M509.1 290.2h0M538.6 331.4h0M512.7 313.7h0M499.3 324.9h0M497.5 323.6h0M524.2 324.7h0M515 236.8h0M490.9 324.9h0M496.7 305.6h0M501.2 289.8h0M496.6 307.9h0M499 323.8h0M498 328h0M490.1 331.3h0M496 320.5h0M495.8 304.9h0M500.7 296.7h0M501.4 304h0M496 307.6h0M499.1 310.4h0M496.2 301.7h0M498.6 333h0M499.4 304.2h0M501.6 315.2h0M501 318.4h0M515.7 278h0M499 286.4h0M508.1 308.1h0M513.5 249.4h0M498.8 296.3h0M501.5 259.3h0M493.8 331.1h0M503.3 314.2h0M503.6 327.9h0M496.1 330.4h0M500.7 307.3h0M501.7 328.1h0M493.2 324.5h0M490.8 329.4h0M510.5 301.7h0M499.2 327.9h0M494.2 320.2h0M503.3 284.7h0M512.6 288.6h0M524.4 237.5h0M509.9 294.1h0M499 325.5h0M496.6 332.7h0M494.3 324.1h0M496.1 311h0M500.7 287.6h0M492.1 320.4h0M499 316.3h0M506 330.9h0M505 326.1h0M509.5 330.3h0M493.2 322h0M506.6 272h0M494.7 327.4h0M503.8 324.5h0M493 318h0M498.4 310.9h0M499 298.7h0M492.8 315.9h0M499.4 296h0M500.4 321.1h0M500.2 321.2h0M497.9 324.7h0M492 326.3h0M503.5 296.7h0M499.7 309.7h0M498.5 300.7h0M506.3 271h0M499.6 287.3h0M492.8 318.4h0M500.8 301.1h0M496.5 293.6h0M499.3 317.1h0M495.3 311.8h0M493.7 310.8h0M505 310.1h0M493 314.5h0M500.2 329.6h0M502.7 309.6h0M507.5 268.3h0M494.3 305.5h0M501.9 311h0M498.4 282.4h0M508 322.8h0M495.5 320.3h0M500 290.3h0M501.6 285.9h0M495 332.3h0M494 307.6h0M511.7 298.5h0M502.6 261.4h0M508.5 277.1h0M552.2 312.4h0M497.2 302.6h0M495.3 309.2h0M504 290.7h0M492.9 328.6h0M499.5 303.6h0M496.8 321.4h0M493.9 312.9h0M505.1 288h0M501.4 270.7h0M511 220.9h0M495.7 308.7h0M509.6 239.7h0M500.6 323.5h0M494.9 307.2h0M498.6 325.9h0M503 277.2h0M494.8 322.5h0M511.4 275.8h0M498.5 311.5h0M494.8 320.1h0M492.4 322.6h0M492.8 319.8h0M498.6 310.3h0M491.4 322.8h0M496.5 314.3h0M506.1 254.6h0M503.3 331.4h0M498.6 332.2h0M494.6 302.2h0M513.3 268.4h0M501 282.9h0M491.9 333.3h0M507.3 298.9h0M507.4 310.1h0M501.7 295.6h0M505.4 309.9h0M504 289.5h0M497.2 314.2h0M497.3 305.6h0M493.6 316.8h0M496.8 331.1h0M493.6 313.8h0M495.5 322.5h0M493.5 309.9h0M498.1 308.8h0M519.5 323.2h0M496.1 327.9h0M507.4 319.3h0M495.3 314.1h0M505.1 296.4h0M499 318.2h0M496.1 328.9h0M491 332.5h0M497.5 293.4h0M499.4 312.7h0M493 326h0M501.4 294.2h0M498.3 295.5h0M514.8 331.4h0M503.7 304.9h0M494.2 314.2h0M496.5 314.2h0M516.5 247.3h0M507.3 309.6h0M494.1 327.6h0M502.2 310.3h0M521.6 310.4h0M491.6 320.1h0M516.4 214.5h0M511 331.2h0M503.6 329.2h0M513.2 295.7h0M502.4 292.5h0M536.8 318.4h0M495.1 319.8h0M501.1 325.4h0M516.3 175.9h0M502.5 329.5h0M499.8 320.1h0M499.4 317.3h0M502.6 284.1h0M498.6 329.4h0M510.3 296h0M507.5 296.3h0M506.3 315.8h0M501.3 297.1h0M498.1 321.7h0M509.3 268.2h0M500 326.7h0M497.2 329.2h0M499.5 285h0M495.7 316.5h0M503.6 277.6h0M497.9 289h0M507.2 269.2h0M504 294.5h0M515.1 264.4h0M494.2 330h0M499.2 318.3h0M514.1 278.1h0M496.2 330.3h0M491.8 332.6h0M498.2 303.1h0M495.5 330.8h0M505.3 315.8h0M493.9 311.7h0M502.3 313.4h0M498.3 305h0M496.2 308.3h0M504.3 245.4h0M496.4 316.6h0M496.2 310.5h0M500.4 280.8h0M504.1 273.6h0M503.3 281.3h0M498.9 303.8h0M502.1 298.3h0M508.3 319.8h0M507.4 267.4h0M505.5 330h0M502 326h0M499 306.1h0M499.4 316.9h0M490.4 328.3h0M500.9 282.9h0M504.6 292.4h0M499.5 308.4h0M501.5 307.4h0M492.8 323.3h0M503.6 325.4h0M565.1 299.1h0M499.2 331.5h0M512.1 283.4h0M507.5 265.6h0M500.8 330.3h0M499.9 286h0M491.1 333h0M496.6 316.4h0M497.2 310.6h0M495.8 295.1h0M499.1 304.9h0M504.9 323.8h0M510.4 244.1h0M505.2 332h0M497.3 309.8h0M527.1 180.8h0M497.1 312h0M510.9 316h0M504.3 288.1h0M496.8 307.9h0M494.1 329.8h0M500.8 321.9h0M501.5 332.1h0M496.6 322.5h0M495.4 304.4h0M492.7 316.8h0M505.1 298.6h0M502.9 327.5h0M500.9 317.4h0M495.7 332h0M499.4 299.6h0M505.7 249.2h0M497.5 314.4h0M497.5 328.2h0M514 316.6h0M498.6 326.9h0M506.5 269.5h0M503.7 297.2h0M504.9 267.4h0M506 299.4h0M495.3 306.3h0M512 259h0M498.8 333.3h0M500.9 302.4h0M495.2 330.7h0M537.3 277.5h0M519.4 312.4h0M493.6 318.1h0M495.5 333.2h0M497.8 300.3h0M501.9 303.2h0M516.1 322.2h0M499.5 296.9h0M498.9 282.8h0M535 264.8h0M501.9 324.5h0M501.5 322.4h0M530.9 325.1h0M498.1 301.8h0M492.1 323.4h0M508.8 314.2h0M495.3 324.2h0M510 331h0M504.9 324.8h0M508.1 247.8h0M511.2 267.9h0M492.3 322.7h0M500 313.3h0M517 318.1h0M500.1 296.1h0M500.8 317.3h0M495.3 333.3h0M530.9 246.5h0M507.7 307.3h0M494.1 325.7h0M500.9 304.6h0M497.7 323.8h0M500.1 310.7h0M493.3 312.6h0M500.5 302h0M507.6 318.1h0M502 299.5h0M506.1 298.7h0M499.5 309.3h0M497.1 299.3h0M512.1 326.3h0M499.2 305.3h0M502.9 327.5h0M498.3 292h0M491.5 328.9h0M506.1 277.6h0M517.7 188.2h0M504.2 328.4h0M506.7 311.5h0M491.2 322.7h0M528.2 304.5h0M495.2 301.5h0M512.2 238.1h0M508.8 255h0M499.1 289.1h0M495.7 311.7h0M500.4 324.9h0M497.8 317h0M491.7 325.3h0M509.3 312.6h0M520.7 312.5h0M513.1 268.3h0M501.1 333.2h0M508.4 242.3h0M498.4 308h0M497.2 308.8h0M499.5 290.4h0M500.7 305.9h0M528.2 329.4h0M507.6 298h0M510.9 270.3h0M504.5 308.1h0M500 292.2h0M513.6 319.5h0M514 237.7h0M507.7 302.7h0M506 235.5h0M499.7 309.8h0M497.2 318.2h0M558.1 142.2h0M669.5 153.5h0M595.1 172.4h0M590.5 186.2h0M541.1 183.2h0M532.4 188.9h0M526.2 201.6h0M542.4 205.1h0M549.5 209.7h0M558.5 215.6h0M578.9 240.4h0M578.2 264.8h0M567.2 269h0M607 276.5h0M550.8 282.3h0M558.5 315.8h0M546.1 317h0"/>
<line class="grv" x1="486.1" y1="65.75" x2="486.1" y2="356.4"/>
<line class="grn" x1="390.4" y1="333.5" x2="682.0" y2="333.5"/>
<rect x="389.4" y="64.75" width="293.6" height="292.65" fill="none" stroke="#878787" stroke-width="1.4"/>
<line x1="387.4" y1="78.2" x2="389.4" y2="78.2" stroke="#999" stroke-width="0.6"/><text class="tk" x="386.79999999999995" y="79.5" text-anchor="end">30</text>
<line x1="387.4" y1="167.2" x2="389.4" y2="167.2" stroke="#999" stroke-width="0.6"/><text class="tk" x="386.79999999999995" y="168.5" text-anchor="end">20</text>
<line x1="387.4" y1="256.2" x2="389.4" y2="256.2" stroke="#999" stroke-width="0.6"/><text class="tk" x="386.79999999999995" y="257.5" text-anchor="end">10</text>
<line x1="387.4" y1="345.2" x2="389.4" y2="345.2" stroke="#999" stroke-width="0.6"/><text class="tk" x="386.79999999999995" y="346.5" text-anchor="end">0</text>
<line x1="432.5" y1="357.4" x2="432.5" y2="359.4" stroke="#999" stroke-width="0.6"/><text class="tk" x="432.5" y="364.0" text-anchor="middle">-1</text>
<line x1="486.1" y1="357.4" x2="486.1" y2="359.4" stroke="#999" stroke-width="0.6"/><text class="tk" x="486.1" y="364.0" text-anchor="middle">0</text>
<line x1="540" y1="357.4" x2="540" y2="359.4" stroke="#999" stroke-width="0.6"/><text class="tk" x="540" y="364.0" text-anchor="middle">1</text>
<line x1="594" y1="357.4" x2="594" y2="359.4" stroke="#999" stroke-width="0.6"/><text class="tk" x="594" y="364.0" text-anchor="middle">2</text>
<line x1="647.8" y1="357.4" x2="647.8" y2="359.4" stroke="#999" stroke-width="0.6"/><text class="tk" x="647.8" y="364.0" text-anchor="middle">3</text>
</g>
<text x="4.5" y="23.6" font-size="31.1" textLength="18.9" lengthAdjust="spacingAndGlyphs">A</text>
<text transform="translate(11.5 449.5) scale(0.89 1)" font-size="30.3">B</text>
<text y="55.2" font-size="14.6" class="b"><tspan x="70.5" textLength="17.0" lengthAdjust="spacingAndGlyphs">PE</tspan> <tspan x="91.5" textLength="13.5" lengthAdjust="spacingAndGlyphs">(n</tspan> <tspan x="109.1" textLength="8.1" lengthAdjust="spacingAndGlyphs">=</tspan> <tspan x="121.9" textLength="21.0" lengthAdjust="spacingAndGlyphs">76)</tspan> <tspan x="148.1" textLength="13.4" lengthAdjust="spacingAndGlyphs">vs</tspan> <tspan x="166.8" textLength="48.4" lengthAdjust="spacingAndGlyphs">normal</tspan> <tspan x="221.6" textLength="13.4" lengthAdjust="spacingAndGlyphs">(n</tspan> <tspan x="239.1" textLength="8.2" lengthAdjust="spacingAndGlyphs">=</tspan> <tspan x="252.0" textLength="21.2" lengthAdjust="spacingAndGlyphs">51)</tspan></text>
<text y="55.1" font-size="14.6" class="b"><tspan x="428.2" textLength="40.9" lengthAdjust="spacingAndGlyphs">HELLP</tspan> <tspan x="474.0" textLength="13.8" lengthAdjust="spacingAndGlyphs">(n</tspan> <tspan x="491.8" textLength="7.7" lengthAdjust="spacingAndGlyphs">=</tspan> <tspan x="504.6" textLength="21.0" lengthAdjust="spacingAndGlyphs">22)</tspan> <tspan x="530.3" textLength="13.4" lengthAdjust="spacingAndGlyphs">vs</tspan> <tspan x="549.0" textLength="48.5" lengthAdjust="spacingAndGlyphs">normal</tspan> <tspan x="603.9" textLength="13.5" lengthAdjust="spacingAndGlyphs">(n</tspan> <tspan x="621.5" textLength="8.1" lengthAdjust="spacingAndGlyphs">=</tspan> <tspan x="634.3" textLength="21.1" lengthAdjust="spacingAndGlyphs">51)</tspan></text>
<text x="96.9" y="392.8" font-size="22" stroke="#000" stroke-width="0.3" textLength="160.9" lengthAdjust="spacingAndGlyphs">log<tspan font-size="15" dy="5">2</tspan><tspan dy="-5"> fold change</tspan></text>
<text x="443.3" y="393.6" font-size="22" stroke="#000" stroke-width="0.3" textLength="161.6" lengthAdjust="spacingAndGlyphs">log<tspan font-size="15" dy="5">2</tspan><tspan dy="-5"> fold change</tspan></text>
<text transform="translate(17.1 324.3) rotate(-90) scale(1 1.0)" font-size="20.3" class="b" textLength="211.6" lengthAdjust="spacingAndGlyphs">-log<tspan font-size="13.2" dy="4">10</tspan><tspan dy="-4"> adjusted p-value</tspan></text>
<text transform="translate(378.5 324.3) rotate(-90) scale(1 1.0)" font-size="20.3" class="b" textLength="211.4" lengthAdjust="spacingAndGlyphs">-log<tspan font-size="13.2" dy="4">10</tspan><tspan dy="-4"> adjusted p-value</tspan></text>
<text x="43" y="268.4" font-size="13.9" class="b" textLength="76.4" lengthAdjust="spacingAndGlyphs">AIF1(iba-1)</text>
<text x="52.8" y="350.4" font-size="13.9" class="b" textLength="45.5" lengthAdjust="spacingAndGlyphs">CD163</text>
<text x="410.9" y="284.2" font-size="13.9" class="b" textLength="76.6" lengthAdjust="spacingAndGlyphs">AIF1(iba-1)</text>
<text x="441.8" y="362.7" font-size="13.9" class="b" textLength="43.6" lengthAdjust="spacingAndGlyphs">CD163</text>
<circle cx="89.7" cy="285.2" r="1.25" fill="#2a2ad0"/><circle cx="93.2" cy="328.5" r="1.25" fill="#2a2ad0"/><circle cx="131.1" cy="329.6" r="1" fill="#e8212f"/>
<circle cx="465.5" cy="300.8" r="1.2" fill="#1c1c9c"/><circle cx="492.7" cy="342.7" r="0.9" fill="#6e6e6e"/><circle cx="481.7" cy="343.9" r="0.9" fill="none" stroke="#333" stroke-width="0.7"/>
<line x1="89.4" y1="284.9" x2="87.8" y2="283.4" stroke="#000" stroke-width="1.1"/><polygon points="82,278.2 85.1,286.4 90.4,280.5" fill="#000"/>
<line x1="92.8" y1="328.8" x2="86.9" y2="332.5" stroke="#000" stroke-width="1.1"/><polygon points="80.3,336.7 89,335.9 84.8,329.2" fill="#000"/>
<line x1="465.2" y1="300.6" x2="464.7" y2="300.1" stroke="#000" stroke-width="1.1"/><polygon points="458.7,295.1 462.1,303.2 467.2,297.1" fill="#000"/>
<line x1="482.3" y1="344.9" x2="476" y2="348.6" stroke="#000" stroke-width="1.1"/><polygon points="469.3,352.6 478,352 474,345.2" fill="#000"/>
<path class="ax" d="M108.3 493.79999999999995V696.9M100.4 696.9H244.4"/>
<path class="ax" d="M100.4 494.9H108.3M100.4 535.3H108.3M100.4 575.7H108.3M100.4 616.1H108.3M100.4 656.5H108.3M100.4 696.9H108.3M135.2 696.9V703.8M175.9 696.9V703.8M216.1 696.9V703.8"/>
<text x="97.80000000000001" y="499.5" font-size="12.6" class="bs" text-anchor="end">10.0</text>
<text x="97.80000000000001" y="539.9" font-size="12.6" class="bs" text-anchor="end">9.5</text>
<text x="97.80000000000001" y="580.3000000000001" font-size="12.6" class="bs" text-anchor="end">9.0</text>
<text x="97.80000000000001" y="620.7" font-size="12.6" class="bs" text-anchor="end">8.5</text>
<text x="97.80000000000001" y="661.1" font-size="12.6" class="bs" text-anchor="end">8.0</text>
<text x="97.80000000000001" y="701.5" font-size="12.6" class="bs" text-anchor="end">7.5</text>
<text x="126.9" y="471" font-size="19.4" class="bs" textLength="98.5" lengthAdjust="spacingAndGlyphs">AIF1(Iba-1)</text>
<text transform="translate(63.4 687.9) rotate(-90)" font-size="16.4" class="bs" textLength="180.8" lengthAdjust="spacingAndGlyphs">AIF1 (Iba-1) expression</text>
<path class="med" d="M122.3 579.7H148.3M162 605.8H189.3M202.8 611.3H229.8"/>
<g class="dot"><circle cx="135.4" cy="532.7" r="2.15"/><circle cx="135.4" cy="544.4" r="2.15"/><circle cx="135.4" cy="555.6" r="2.15"/><circle cx="138.3" cy="557" r="2.15"/><circle cx="141.1" cy="558.1" r="2.15"/><circle cx="138.3" cy="560.7" r="2.15"/><circle cx="144" cy="562.7" r="2.15"/><circle cx="126.8" cy="563.1" r="2.15"/><circle cx="129.7" cy="563.1" r="2.15"/><circle cx="141.1" cy="563.5" r="2.15"/><circle cx="138.3" cy="565.3" r="2.15"/><circle cx="141.1" cy="567" r="2.15"/><circle cx="144" cy="567.9" r="2.15"/><circle cx="126.8" cy="568.5" r="2.15"/><circle cx="129.7" cy="569.7" r="2.15"/><circle cx="132.5" cy="569.2" r="2.15"/><circle cx="135.4" cy="569.8" r="2.15"/><circle cx="138.3" cy="569.2" r="2.15"/><circle cx="144" cy="572.7" r="2.15"/><circle cx="141.1" cy="574" r="2.15"/><circle cx="146.9" cy="574.7" r="2.15"/><circle cx="123.9" cy="578.3" r="2.15"/><circle cx="126.8" cy="580" r="2.15"/><circle cx="129.7" cy="579.3" r="2.15"/><circle cx="132.5" cy="577.6" r="2.15"/><circle cx="135.4" cy="576.2" r="2.15"/><circle cx="138.3" cy="578.6" r="2.15"/><circle cx="144" cy="577.5" r="2.15"/><circle cx="146.9" cy="580" r="2.15"/><circle cx="129.7" cy="582.8" r="2.15"/><circle cx="132.5" cy="582.4" r="2.15"/><circle cx="135.4" cy="581.9" r="2.15"/><circle cx="138.3" cy="581.2" r="2.15"/><circle cx="141.1" cy="584.8" r="2.15"/><circle cx="129.7" cy="585.7" r="2.15"/><circle cx="132.5" cy="588.1" r="2.15"/><circle cx="135.4" cy="588.1" r="2.15"/><circle cx="138.3" cy="585.7" r="2.15"/><circle cx="129.7" cy="591.8" r="2.15"/><circle cx="132.5" cy="595.4" r="2.15"/><circle cx="135.4" cy="593.7" r="2.15"/><circle cx="138.3" cy="593.7" r="2.15"/><circle cx="135.4" cy="599.9" r="2.15"/><circle cx="138.3" cy="599.2" r="2.15"/><circle cx="132.5" cy="602.6" r="2.15"/><circle cx="135.4" cy="604" r="2.15"/><circle cx="141.1" cy="604.5" r="2.15"/><circle cx="132.5" cy="607.2" r="2.15"/><circle cx="138.3" cy="607" r="2.15"/><circle cx="135.4" cy="621.2" r="2.15"/><circle cx="135.4" cy="629.1" r="2.15"/></g>
<g class="dot"><circle cx="173" cy="544.6" r="2.15"/><circle cx="178.8" cy="548.2" r="2.15"/><circle cx="173" cy="552.2" r="2.15"/><circle cx="175.9" cy="551.4" r="2.15"/><circle cx="175.9" cy="557.5" r="2.15"/><circle cx="175.9" cy="565.1" r="2.15"/><circle cx="173" cy="571.2" r="2.15"/><circle cx="175.9" cy="571.6" r="2.15"/><circle cx="178.8" cy="571.8" r="2.15"/><circle cx="173" cy="576.3" r="2.15"/><circle cx="175.9" cy="577.1" r="2.15"/><circle cx="178.8" cy="577.9" r="2.15"/><circle cx="167.3" cy="585.4" r="2.15"/><circle cx="170.2" cy="585.9" r="2.15"/><circle cx="173" cy="584.2" r="2.15"/><circle cx="175.9" cy="582.7" r="2.15"/><circle cx="178.8" cy="584.2" r="2.15"/><circle cx="181.6" cy="586.6" r="2.15"/><circle cx="173" cy="589.5" r="2.15"/><circle cx="175.9" cy="589" r="2.15"/><circle cx="178.8" cy="590" r="2.15"/><circle cx="167.3" cy="594" r="2.15"/><circle cx="170.2" cy="593.3" r="2.15"/><circle cx="173" cy="593.6" r="2.15"/><circle cx="175.9" cy="594.3" r="2.15"/><circle cx="178.8" cy="591.9" r="2.15"/><circle cx="181.6" cy="592.7" r="2.15"/><circle cx="175.9" cy="597.2" r="2.15"/><circle cx="181.6" cy="596.7" r="2.15"/><circle cx="178.8" cy="597.5" r="2.15"/><circle cx="173" cy="600.6" r="2.15"/><circle cx="175.9" cy="599.8" r="2.15"/><circle cx="178.8" cy="600.3" r="2.15"/><circle cx="181.6" cy="601.6" r="2.15"/><circle cx="184.5" cy="604.8" r="2.15"/><circle cx="167.3" cy="603" r="2.15"/><circle cx="170.2" cy="604.5" r="2.15"/><circle cx="175.9" cy="603.6" r="2.15"/><circle cx="178.8" cy="603.3" r="2.15"/><circle cx="164.4" cy="610.2" r="2.15"/><circle cx="167.3" cy="609.8" r="2.15"/><circle cx="170.2" cy="606.6" r="2.15"/><circle cx="173" cy="606.6" r="2.15"/><circle cx="175.9" cy="607" r="2.15"/><circle cx="178.8" cy="608.7" r="2.15"/><circle cx="181.6" cy="607.7" r="2.15"/><circle cx="184.5" cy="609.8" r="2.15"/><circle cx="187.4" cy="609.8" r="2.15"/><circle cx="170.2" cy="614.1" r="2.15"/><circle cx="175.9" cy="613.1" r="2.15"/><circle cx="178.8" cy="611.7" r="2.15"/><circle cx="181.6" cy="612.7" r="2.15"/><circle cx="175.9" cy="617.5" r="2.15"/><circle cx="178.8" cy="618.4" r="2.15"/><circle cx="167.3" cy="621.6" r="2.15"/><circle cx="170.2" cy="619.9" r="2.15"/><circle cx="173" cy="620.9" r="2.15"/><circle cx="170.2" cy="625.2" r="2.15"/><circle cx="173" cy="623.8" r="2.15"/><circle cx="175.9" cy="623.3" r="2.15"/><circle cx="178.8" cy="623.1" r="2.15"/><circle cx="181.6" cy="622.8" r="2.15"/><circle cx="184.5" cy="622" r="2.15"/><circle cx="170.2" cy="630" r="2.15"/><circle cx="175.9" cy="629.5" r="2.15"/><circle cx="178.8" cy="630.5" r="2.15"/><circle cx="170.2" cy="634.8" r="2.15"/><circle cx="175.9" cy="634.4" r="2.15"/><circle cx="181.6" cy="635.8" r="2.15"/><circle cx="178.8" cy="638.2" r="2.15"/><circle cx="173" cy="639.2" r="2.15"/><circle cx="181.6" cy="640.6" r="2.15"/><circle cx="170.2" cy="642.6" r="2.15"/><circle cx="178.8" cy="642.6" r="2.15"/><circle cx="175.9" cy="644" r="2.15"/><circle cx="173" cy="646.9" r="2.15"/><circle cx="178.8" cy="649.8" r="2.15"/><circle cx="175.9" cy="651.7" r="2.15"/><circle cx="175.9" cy="671" r="2.15"/></g>
<g class="dot"><circle cx="219.9" cy="582.7" r="2.15"/><circle cx="212.3" cy="586.2" r="2.15"/><circle cx="219.9" cy="587.2" r="2.15"/><circle cx="208.3" cy="596.1" r="2.15"/><circle cx="215.9" cy="596.1" r="2.15"/><circle cx="223.4" cy="595.7" r="2.15"/><circle cx="204.7" cy="601.2" r="2.15"/><circle cx="219.9" cy="601" r="2.15"/><circle cx="212.3" cy="604.4" r="2.15"/><circle cx="227.6" cy="605.1" r="2.15"/><circle cx="204.7" cy="607.4" r="2.15"/><circle cx="219.9" cy="608.3" r="2.15"/><circle cx="227.6" cy="609.2" r="2.15"/><circle cx="219.9" cy="612" r="2.15"/><circle cx="212.3" cy="614" r="2.15"/><circle cx="204.7" cy="617.7" r="2.15"/><circle cx="219.9" cy="619.8" r="2.15"/><circle cx="212.3" cy="621.9" r="2.15"/><circle cx="215.9" cy="634.3" r="2.15"/><circle cx="212.3" cy="644.7" r="2.15"/><circle cx="219.9" cy="647.1" r="2.15"/><circle cx="215.9" cy="659.2" r="2.15"/></g>
<path class="br" d="M139.6 512.1V502H212.8V512.1M139.6 521V515.7H173.3V521"/>
<text x="156.9" y="497.2" font-size="7.2" textLength="34.9" lengthAdjust="spacingAndGlyphs" fill="#484848">P &lt; 0.0001</text>
<text x="147" y="510.8" font-size="7.2" textLength="35.3" lengthAdjust="spacingAndGlyphs" fill="#484848">P &lt; 0.0001</text>
<text x="99.5" y="724.2" font-size="14" textLength="46.8" lengthAdjust="spacingAndGlyphs">Control</text>
<text x="171.9" y="724.1" font-size="14" textLength="13.6" lengthAdjust="spacingAndGlyphs">PE</text>
<text x="204.6" y="724.1" font-size="14" textLength="36.8" lengthAdjust="spacingAndGlyphs">HELLP</text>
<path class="ax" d="M330.0 491.79999999999995V694.8M321.5 694.8H465.8"/>
<path class="ax" d="M321.5 492.9H330.0M321.5 543.4H330.0M321.5 593.9H330.0M321.5 644.3H330.0M321.5 694.8H330.0M356.6 694.8V702.8M397.5 694.8V702.8M438.2 694.8V702.8"/>
<text x="319.0" y="497.5" font-size="12.6" class="bs" text-anchor="end">11</text>
<text x="319.0" y="548.0" font-size="12.6" class="bs" text-anchor="end">10</text>
<text x="319.0" y="598.5" font-size="12.6" class="bs" text-anchor="end">9</text>
<text x="319.0" y="648.9" font-size="12.6" class="bs" text-anchor="end">8</text>
<text x="319.0" y="699.4" font-size="12.6" class="bs" text-anchor="end">7</text>
<text x="365.9" y="468.5" font-size="19.6" class="bs" textLength="62.8" lengthAdjust="spacingAndGlyphs">CD163</text>
<text transform="translate(293.7 666.2) rotate(-90)" font-size="16.4" class="bs" textLength="143.2" lengthAdjust="spacingAndGlyphs">CD163 expression</text>
<path class="med" d="M343.5 593.3H370.5M384 606.3H411M424.7 596.8H451.9"/>
<g class="dot"><circle cx="356.8" cy="514.8" r="2.15"/><circle cx="355.3" cy="547.1" r="2.15"/><circle cx="358.2" cy="545" r="2.15"/><circle cx="356.8" cy="558" r="2.15"/><circle cx="359.7" cy="555.4" r="2.15"/><circle cx="353.7" cy="565.6" r="2.15"/><circle cx="356.6" cy="569.6" r="2.15"/><circle cx="359.5" cy="569.6" r="2.15"/><circle cx="353.7" cy="574.9" r="2.15"/><circle cx="356.6" cy="577.2" r="2.15"/><circle cx="353.7" cy="580.4" r="2.15"/><circle cx="356.6" cy="582.4" r="2.15"/><circle cx="359.5" cy="584.1" r="2.15"/><circle cx="353.7" cy="588.4" r="2.15"/><circle cx="356.6" cy="589.9" r="2.15"/><circle cx="345.1" cy="592.6" r="2.15"/><circle cx="348" cy="593.8" r="2.15"/><circle cx="350.9" cy="592.3" r="2.15"/><circle cx="353.7" cy="593.6" r="2.15"/><circle cx="356.6" cy="593" r="2.15"/><circle cx="359.5" cy="593.4" r="2.15"/><circle cx="362.3" cy="591.3" r="2.15"/><circle cx="365.2" cy="593.4" r="2.15"/><circle cx="368.1" cy="590.7" r="2.15"/><circle cx="345.1" cy="598.1" r="2.15"/><circle cx="348" cy="599.5" r="2.15"/><circle cx="350.9" cy="601.5" r="2.15"/><circle cx="356.6" cy="598.1" r="2.15"/><circle cx="359.5" cy="597.2" r="2.15"/><circle cx="362.3" cy="596" r="2.15"/><circle cx="365.2" cy="596.6" r="2.15"/><circle cx="368.1" cy="601.5" r="2.15"/><circle cx="353.7" cy="597.5" r="2.15"/><circle cx="348" cy="604.4" r="2.15"/><circle cx="365.2" cy="602" r="2.15"/><circle cx="362.3" cy="602.6" r="2.15"/><circle cx="359.5" cy="600.8" r="2.15"/><circle cx="348" cy="608.2" r="2.15"/><circle cx="350.9" cy="607.3" r="2.15"/><circle cx="353.7" cy="605.3" r="2.15"/><circle cx="356.6" cy="604.4" r="2.15"/><circle cx="359.5" cy="604" r="2.15"/><circle cx="365.2" cy="606.8" r="2.15"/><circle cx="362.3" cy="609.2" r="2.15"/><circle cx="356.6" cy="610.6" r="2.15"/><circle cx="353.7" cy="613" r="2.15"/><circle cx="359.5" cy="613.5" r="2.15"/><circle cx="356.6" cy="615.4" r="2.15"/><circle cx="353.7" cy="618.3" r="2.15"/><circle cx="359.5" cy="620.6" r="2.15"/><circle cx="356.6" cy="625.8" r="2.15"/></g>
<g class="dot"><circle cx="397.3" cy="536.1" r="2.15"/><circle cx="397.3" cy="540.4" r="2.15"/><circle cx="397.3" cy="549.3" r="2.15"/><circle cx="397.3" cy="555.2" r="2.15"/><circle cx="393.8" cy="561.5" r="2.15"/><circle cx="397.3" cy="563.6" r="2.15"/><circle cx="400.7" cy="561.5" r="2.15"/><circle cx="397.3" cy="572.5" r="2.15"/><circle cx="397.3" cy="577.6" r="2.15"/><circle cx="395.6" cy="581.9" r="2.15"/><circle cx="398.9" cy="584.1" r="2.15"/><circle cx="395.6" cy="587.2" r="2.15"/><circle cx="385.9" cy="588.9" r="2.15"/><circle cx="389" cy="590.1" r="2.15"/><circle cx="392.4" cy="589.6" r="2.15"/><circle cx="398.9" cy="590.1" r="2.15"/><circle cx="402.3" cy="591.1" r="2.15"/><circle cx="405.7" cy="590.6" r="2.15"/><circle cx="409.1" cy="589.2" r="2.15"/><circle cx="389" cy="592.5" r="2.15"/><circle cx="392.4" cy="592.1" r="2.15"/><circle cx="395.6" cy="592.1" r="2.15"/><circle cx="398.9" cy="592.5" r="2.15"/><circle cx="402.3" cy="593" r="2.15"/><circle cx="405.7" cy="593" r="2.15"/><circle cx="409.1" cy="593.5" r="2.15"/><circle cx="385.9" cy="595.9" r="2.15"/><circle cx="389" cy="595.2" r="2.15"/><circle cx="395.6" cy="595.4" r="2.15"/><circle cx="398.9" cy="596.9" r="2.15"/><circle cx="405.7" cy="595.9" r="2.15"/><circle cx="392.4" cy="598.5" r="2.15"/><circle cx="402.3" cy="599.3" r="2.15"/><circle cx="389" cy="603.1" r="2.15"/><circle cx="405.7" cy="603.1" r="2.15"/><circle cx="385.9" cy="608.9" r="2.15"/><circle cx="389" cy="607.5" r="2.15"/><circle cx="392.4" cy="605.6" r="2.15"/><circle cx="395.6" cy="606" r="2.15"/><circle cx="398.9" cy="605.6" r="2.15"/><circle cx="402.3" cy="607.5" r="2.15"/><circle cx="405.7" cy="608.4" r="2.15"/><circle cx="409.1" cy="608.9" r="2.15"/><circle cx="392.4" cy="611.3" r="2.15"/><circle cx="398.9" cy="610.9" r="2.15"/><circle cx="402.3" cy="612.8" r="2.15"/><circle cx="409.1" cy="613.3" r="2.15"/><circle cx="385.9" cy="614.9" r="2.15"/><circle cx="389" cy="616.2" r="2.15"/><circle cx="395.6" cy="616.5" r="2.15"/><circle cx="402.3" cy="616.6" r="2.15"/><circle cx="405.7" cy="616.2" r="2.15"/><circle cx="409.1" cy="617.6" r="2.15"/><circle cx="385.9" cy="621.5" r="2.15"/><circle cx="389" cy="620.5" r="2.15"/><circle cx="392.4" cy="621" r="2.15"/><circle cx="398.9" cy="620" r="2.15"/><circle cx="402.3" cy="621.9" r="2.15"/><circle cx="405.7" cy="622.4" r="2.15"/><circle cx="409.1" cy="623.9" r="2.15"/><circle cx="392.4" cy="624.6" r="2.15"/><circle cx="395.6" cy="623.9" r="2.15"/><circle cx="398.9" cy="624.8" r="2.15"/><circle cx="395.6" cy="628.2" r="2.15"/><circle cx="402.3" cy="627.9" r="2.15"/><circle cx="392.4" cy="632.1" r="2.15"/><circle cx="392.4" cy="635.9" r="2.15"/><circle cx="395.6" cy="635.2" r="2.15"/><circle cx="398.9" cy="637.4" r="2.15"/><circle cx="402.3" cy="634.5" r="2.15"/><circle cx="405.7" cy="636.9" r="2.15"/><circle cx="389" cy="640.8" r="2.15"/><circle cx="395.6" cy="640.3" r="2.15"/><circle cx="402.3" cy="640.3" r="2.15"/><circle cx="395.6" cy="645.1" r="2.15"/><circle cx="398.9" cy="646.5" r="2.15"/><circle cx="402.3" cy="646.7" r="2.15"/><circle cx="392.4" cy="648.9" r="2.15"/></g>
<g class="dot"><circle cx="438" cy="532.5" r="2.15"/><circle cx="438" cy="553.2" r="2.15"/><circle cx="434.1" cy="571.5" r="2.15"/><circle cx="441.8" cy="573.1" r="2.15"/><circle cx="426.6" cy="577.5" r="2.15"/><circle cx="434.1" cy="577.1" r="2.15"/><circle cx="441.8" cy="580.6" r="2.15"/><circle cx="434.1" cy="583.3" r="2.15"/><circle cx="449.6" cy="594.3" r="2.15"/><circle cx="434.1" cy="597.8" r="2.15"/><circle cx="441.8" cy="597.2" r="2.15"/><circle cx="438" cy="602.6" r="2.15"/><circle cx="430.3" cy="610.3" r="2.15"/><circle cx="438" cy="610.3" r="2.15"/><circle cx="445.7" cy="610.3" r="2.15"/><circle cx="434.1" cy="615.9" r="2.15"/><circle cx="441.8" cy="615.9" r="2.15"/><circle cx="426.6" cy="621.9" r="2.15"/><circle cx="434.1" cy="622.3" r="2.15"/><circle cx="441.8" cy="622.3" r="2.15"/><circle cx="449.6" cy="622.6" r="2.15"/><circle cx="438" cy="639.6" r="2.15"/></g>
<path class="br" d="M359.3 507.3V502H393.3V507.3"/>
<text x="356" y="498" font-size="7.4" fill="#444">P</text>
<text x="363.6" y="498" font-size="7.4" textLength="31.8" lengthAdjust="spacingAndGlyphs" fill="#f03a3a">=0.0020</text>
<text x="319.2" y="723.1" font-size="14" textLength="46.6" lengthAdjust="spacingAndGlyphs">Control</text>
<text x="383.9" y="723.1" font-size="14" textLength="13.6" lengthAdjust="spacingAndGlyphs">PE</text>
<text x="420.8" y="723.1" font-size="14" textLength="36" lengthAdjust="spacingAndGlyphs">HELLP</text>
</svg>
</body></html>
